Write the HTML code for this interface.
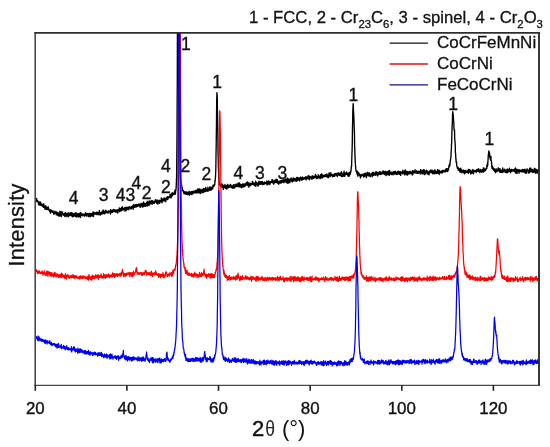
<!DOCTYPE html>
<html><head><meta charset="utf-8"><title>XRD</title>
<style>html,body{margin:0;padding:0;background:#fff;}svg{display:block;}</style>
</head><body>
<svg width="550" height="447" viewBox="0 0 550 447"><defs><clipPath id="c"><rect x="35.3" y="32.8" width="503.90000000000003" height="352.4"/></clipPath></defs><rect width="550" height="447" fill="#fff"/><g clip-path="url(#c)" fill="none" stroke-width="1.25" stroke-linejoin="round"><polyline stroke="#000" stroke-width="1.35" points="35.3,199.4 35.4,201.3 35.6,198.8 35.7,201.5 35.9,199.6 36.0,199.9 36.1,201.0 36.3,200.2 36.4,200.5 36.6,198.4 36.7,201.2 36.8,200.9 37.0,200.7 37.1,201.7 37.3,200.9 37.4,201.3 37.5,200.5 37.7,201.4 37.8,201.1 38.0,201.4 38.1,202.5 38.2,201.7 38.4,202.2 38.5,204.7 38.7,204.3 38.8,203.0 38.9,202.7 39.1,202.3 39.2,202.1 39.4,205.1 39.5,203.2 39.6,202.2 39.8,203.6 39.9,204.1 40.1,203.8 40.2,205.0 40.3,201.9 40.5,204.0 40.6,204.0 40.8,202.6 40.9,204.5 41.0,205.3 41.2,204.6 41.3,204.1 41.5,205.5 41.6,204.8 41.7,204.9 41.9,205.5 42.0,204.2 42.2,206.0 42.3,205.6 42.4,206.0 42.6,204.8 42.7,206.3 42.9,205.0 43.0,204.5 43.1,206.8 43.3,207.0 43.4,207.2 43.6,206.2 43.7,205.9 43.8,203.8 44.0,206.8 44.1,207.1 44.3,207.6 44.4,206.4 44.5,206.3 44.7,207.3 44.8,207.8 45.0,209.2 45.1,206.4 45.2,207.4 45.4,208.7 45.5,207.5 45.7,207.9 45.8,205.6 45.9,208.2 46.1,209.4 46.2,208.9 46.4,209.3 46.5,208.6 46.6,207.9 46.8,209.0 46.9,207.9 47.1,209.5 47.2,207.2 47.3,209.6 47.5,208.1 47.6,208.8 47.8,208.8 47.9,209.5 48.0,208.5 48.2,209.2 48.3,206.9 48.5,209.1 48.6,209.5 48.7,208.6 48.9,210.0 49.0,209.7 49.2,210.4 49.3,210.3 49.4,210.1 49.6,211.2 49.7,210.6 49.9,211.1 50.0,210.2 50.1,210.7 50.3,210.0 50.4,213.3 50.6,210.3 50.7,210.4 50.8,209.6 51.0,210.6 51.1,211.7 51.3,211.6 51.4,210.3 51.5,211.1 51.7,211.3 51.8,211.7 52.0,211.4 52.1,211.7 52.2,212.5 52.4,212.1 52.5,211.5 52.7,211.7 52.8,211.6 52.9,210.7 53.1,211.3 53.2,211.5 53.4,211.7 53.5,211.7 53.6,212.2 53.8,214.3 53.9,212.8 54.1,212.9 54.2,212.8 54.3,212.5 54.5,213.7 54.6,212.8 54.8,212.5 54.9,211.1 55.0,212.5 55.2,212.0 55.3,211.7 55.5,212.7 55.6,213.4 55.7,212.4 55.9,213.4 56.0,212.9 56.2,212.0 56.3,214.9 56.4,212.8 56.6,212.6 56.7,213.9 56.9,212.0 57.0,213.6 57.1,212.4 57.3,213.0 57.4,212.7 57.6,214.1 57.7,213.1 57.8,215.5 58.0,213.6 58.1,213.8 58.3,213.5 58.4,213.1 58.5,213.3 58.7,215.1 58.8,212.9 59.0,216.2 59.1,214.1 59.2,213.4 59.4,213.9 59.5,213.5 59.7,213.5 59.8,213.7 59.9,211.3 60.1,213.8 60.2,215.9 60.4,213.4 60.5,214.4 60.6,213.8 60.8,213.3 60.9,215.2 61.1,211.4 61.2,213.6 61.3,216.6 61.5,213.5 61.6,214.9 61.8,214.2 61.9,214.8 62.0,214.3 62.2,213.9 62.3,214.7 62.5,212.0 62.6,214.1 62.7,214.0 62.9,214.2 63.0,213.3 63.2,213.7 63.3,214.4 63.4,214.1 63.6,215.0 63.7,214.6 63.9,215.3 64.0,214.9 64.1,214.6 64.3,214.1 64.4,215.1 64.6,214.0 64.7,213.1 64.8,216.5 65.0,214.6 65.1,215.2 65.3,214.6 65.4,214.8 65.5,212.6 65.7,213.9 65.8,215.0 66.0,214.8 66.1,213.9 66.2,216.5 66.4,213.9 66.5,214.8 66.7,213.9 66.8,215.2 66.9,214.4 67.1,213.8 67.2,213.1 67.4,214.1 67.5,214.1 67.6,214.9 67.8,214.8 67.9,216.7 68.1,216.7 68.2,215.6 68.3,215.2 68.5,215.8 68.6,216.5 68.8,212.7 68.9,213.9 69.0,214.7 69.2,213.7 69.3,215.1 69.5,214.5 69.6,214.5 69.7,214.6 69.9,213.8 70.0,215.5 70.2,215.3 70.3,215.2 70.4,213.0 70.6,214.9 70.7,215.3 70.9,214.1 71.0,214.8 71.1,212.6 71.3,213.7 71.4,214.4 71.6,214.9 71.7,214.9 71.8,216.1 72.0,214.7 72.1,212.7 72.3,215.8 72.4,213.5 72.5,213.8 72.7,216.9 72.8,215.5 73.0,214.7 73.1,214.0 73.2,214.8 73.4,214.7 73.5,216.0 73.7,214.9 73.8,213.7 73.9,216.4 74.1,215.2 74.2,213.9 74.4,213.9 74.5,214.9 74.6,213.7 74.8,215.2 74.9,215.2 75.1,213.0 75.2,215.7 75.3,215.6 75.5,216.3 75.6,215.3 75.8,215.4 75.9,214.2 76.0,212.7 76.2,213.5 76.3,217.0 76.5,215.3 76.6,216.7 76.7,214.7 76.9,215.5 77.0,213.5 77.2,214.2 77.3,214.6 77.4,215.1 77.6,215.1 77.7,215.0 77.9,214.9 78.0,215.1 78.1,217.0 78.3,214.9 78.4,215.8 78.6,213.4 78.7,214.8 78.8,215.1 79.0,215.2 79.1,214.5 79.3,214.8 79.4,216.7 79.5,215.3 79.7,215.1 79.8,213.5 80.0,213.3 80.1,214.4 80.2,214.0 80.4,217.5 80.5,212.4 80.7,214.8 80.8,213.4 80.9,215.2 81.1,213.2 81.2,213.5 81.4,213.6 81.5,214.5 81.6,215.1 81.8,215.7 81.9,214.5 82.1,214.5 82.2,215.7 82.3,215.4 82.5,213.9 82.6,215.6 82.8,215.7 82.9,214.1 83.0,215.1 83.2,214.2 83.3,214.3 83.5,214.8 83.6,214.9 83.7,214.8 83.9,214.9 84.0,214.2 84.2,215.4 84.3,214.3 84.4,216.1 84.6,214.8 84.7,214.4 84.9,213.9 85.0,214.7 85.1,214.5 85.3,214.9 85.4,214.7 85.6,212.7 85.7,215.5 85.8,212.9 86.0,215.4 86.1,215.3 86.3,216.0 86.4,214.9 86.5,213.7 86.7,214.4 86.8,214.4 87.0,214.7 87.1,214.3 87.2,214.8 87.4,213.8 87.5,214.2 87.7,214.5 87.8,214.3 87.9,213.4 88.1,216.4 88.2,214.7 88.4,215.2 88.5,214.1 88.6,216.0 88.8,215.1 88.9,216.7 89.1,213.6 89.2,214.3 89.3,214.1 89.5,214.5 89.6,213.7 89.8,213.1 89.9,214.2 90.0,214.5 90.2,214.0 90.3,216.8 90.5,214.0 90.6,213.8 90.7,214.9 90.9,214.1 91.0,213.7 91.2,213.7 91.3,215.8 91.4,216.0 91.6,214.3 91.7,213.6 91.9,214.4 92.0,213.4 92.1,213.7 92.3,214.1 92.4,213.8 92.6,213.7 92.7,216.1 92.8,213.1 93.0,214.1 93.1,212.0 93.3,212.6 93.4,213.2 93.5,216.5 93.7,214.3 93.8,214.8 94.0,212.1 94.1,214.1 94.2,213.7 94.4,213.6 94.5,214.1 94.7,213.4 94.8,213.7 94.9,213.2 95.1,213.5 95.2,213.7 95.4,212.8 95.5,213.2 95.6,213.5 95.8,213.6 95.9,214.3 96.1,213.8 96.2,213.6 96.3,214.5 96.5,212.8 96.6,212.3 96.8,213.3 96.9,212.5 97.0,213.5 97.2,213.5 97.3,212.4 97.5,213.8 97.6,213.5 97.7,213.2 97.9,214.7 98.0,214.2 98.2,212.7 98.3,212.5 98.4,214.6 98.6,212.4 98.7,213.8 98.9,212.9 99.0,213.0 99.1,213.3 99.3,214.6 99.4,210.5 99.6,212.3 99.7,213.5 99.8,212.9 100.0,212.7 100.1,215.0 100.3,212.6 100.4,213.4 100.5,214.9 100.7,213.5 100.8,213.4 101.0,213.4 101.1,213.6 101.2,212.4 101.4,213.1 101.5,213.5 101.7,213.9 101.8,214.1 101.9,214.0 102.1,211.6 102.2,212.5 102.4,212.7 102.5,213.9 102.6,212.6 102.8,212.2 102.9,210.3 103.1,212.2 103.2,213.2 103.3,210.2 103.5,211.8 103.6,212.2 103.8,212.6 103.9,212.3 104.0,213.6 104.2,211.8 104.3,212.5 104.5,213.0 104.6,213.9 104.7,213.4 104.9,211.4 105.0,213.0 105.2,212.6 105.3,212.2 105.4,210.1 105.6,211.5 105.7,212.8 105.9,210.9 106.0,211.9 106.1,211.7 106.3,212.7 106.4,211.9 106.6,210.8 106.7,211.9 106.8,211.8 107.0,212.5 107.1,211.7 107.3,212.4 107.4,212.0 107.5,213.1 107.7,212.4 107.8,211.8 108.0,211.9 108.1,211.8 108.2,212.9 108.4,210.9 108.5,211.7 108.7,211.8 108.8,211.7 108.9,211.9 109.1,211.7 109.2,211.6 109.4,212.0 109.5,211.4 109.6,211.8 109.8,212.1 109.9,210.6 110.1,211.3 110.2,213.2 110.3,213.5 110.5,214.1 110.6,209.7 110.8,212.2 110.9,213.0 111.0,212.6 111.2,211.8 111.3,211.7 111.5,211.8 111.6,211.4 111.7,211.9 111.9,211.3 112.0,210.7 112.2,210.0 112.3,212.5 112.4,211.7 112.6,210.4 112.7,211.9 112.9,210.7 113.0,211.3 113.1,210.8 113.3,210.4 113.4,210.2 113.6,209.6 113.7,209.6 113.8,209.5 114.0,209.7 114.1,211.7 114.3,210.9 114.4,209.9 114.5,210.9 114.7,210.9 114.8,210.8 115.0,210.1 115.1,210.6 115.2,211.7 115.4,210.5 115.5,210.7 115.7,212.1 115.8,210.0 115.9,211.0 116.1,210.5 116.2,211.2 116.4,210.3 116.5,210.5 116.6,210.2 116.8,211.4 116.9,211.7 117.1,210.6 117.2,212.8 117.3,210.8 117.5,211.1 117.6,211.4 117.8,209.8 117.9,212.8 118.0,210.0 118.2,210.2 118.3,209.4 118.5,210.9 118.6,209.8 118.7,210.4 118.9,209.4 119.0,209.7 119.2,209.8 119.3,209.4 119.4,207.9 119.6,210.5 119.7,211.6 119.9,209.2 120.0,209.0 120.1,209.5 120.3,208.4 120.4,210.0 120.6,209.5 120.7,209.8 120.8,210.9 121.0,210.5 121.1,210.9 121.3,211.0 121.4,209.7 121.5,209.5 121.7,207.5 121.8,208.2 122.0,209.4 122.1,210.3 122.2,209.2 122.4,206.7 122.5,208.6 122.7,209.8 122.8,208.4 122.9,208.5 123.1,208.7 123.2,209.3 123.4,209.9 123.5,208.4 123.6,209.2 123.8,209.0 123.9,208.9 124.1,209.1 124.2,209.6 124.3,208.2 124.5,208.8 124.6,207.6 124.8,208.8 124.9,209.4 125.0,211.3 125.2,208.6 125.3,208.3 125.5,208.7 125.6,208.4 125.7,207.5 125.9,208.5 126.0,209.2 126.2,209.6 126.3,210.7 126.4,208.1 126.6,207.8 126.7,207.2 126.9,208.2 127.0,208.9 127.1,207.6 127.3,209.1 127.4,208.5 127.6,207.4 127.7,208.3 127.8,208.8 128.0,209.5 128.1,207.1 128.3,208.7 128.4,208.5 128.5,207.3 128.7,207.4 128.8,209.6 129.0,207.5 129.1,207.3 129.2,208.1 129.4,206.6 129.5,207.5 129.7,207.3 129.8,207.6 129.9,207.6 130.1,207.7 130.2,207.3 130.4,208.4 130.5,208.1 130.6,208.8 130.8,207.1 130.9,207.6 131.1,207.0 131.2,206.7 131.3,207.3 131.5,208.7 131.6,207.7 131.8,206.5 131.9,206.3 132.0,207.5 132.2,207.2 132.3,207.8 132.5,205.9 132.6,207.7 132.7,206.6 132.9,206.2 133.0,206.4 133.2,209.2 133.3,208.4 133.4,205.2 133.6,206.2 133.7,206.9 133.9,204.5 134.0,204.5 134.1,204.6 134.3,207.4 134.4,206.0 134.6,206.0 134.7,206.9 134.8,205.9 135.0,206.7 135.1,206.0 135.3,205.8 135.4,205.9 135.5,205.3 135.7,204.7 135.8,207.1 136.0,207.0 136.1,205.9 136.2,206.3 136.4,206.9 136.5,205.7 136.7,206.3 136.8,206.4 136.9,204.5 137.1,204.9 137.2,206.3 137.4,206.2 137.5,205.0 137.6,206.5 137.8,206.4 137.9,205.4 138.1,205.3 138.2,204.5 138.3,205.5 138.5,204.4 138.6,205.6 138.8,205.7 138.9,205.6 139.0,204.0 139.2,205.6 139.3,205.9 139.5,204.5 139.6,205.5 139.7,206.1 139.9,204.6 140.0,206.6 140.2,207.4 140.3,205.6 140.4,206.2 140.6,204.7 140.7,205.5 140.9,206.6 141.0,203.3 141.1,205.8 141.3,204.5 141.4,205.7 141.6,205.3 141.7,205.7 141.8,204.8 142.0,204.9 142.1,206.3 142.3,203.4 142.4,204.0 142.5,207.0 142.7,206.1 142.8,203.9 143.0,206.9 143.1,204.3 143.2,205.8 143.4,205.9 143.5,202.4 143.7,202.0 143.8,204.3 143.9,206.0 144.1,205.2 144.2,204.3 144.4,205.4 144.5,204.1 144.6,204.1 144.8,203.7 144.9,206.2 145.1,205.0 145.2,204.2 145.3,203.8 145.5,206.2 145.6,204.0 145.8,203.6 145.9,204.0 146.0,204.6 146.2,204.7 146.3,202.9 146.5,205.7 146.6,204.3 146.7,202.5 146.9,204.8 147.0,206.1 147.2,204.7 147.3,201.3 147.4,203.8 147.6,204.0 147.7,204.9 147.9,203.8 148.0,202.4 148.1,205.2 148.3,205.4 148.4,203.6 148.6,202.0 148.7,204.4 148.8,204.0 149.0,205.6 149.1,200.9 149.3,203.4 149.4,203.0 149.5,202.3 149.7,203.8 149.8,203.1 150.0,201.4 150.1,202.3 150.2,204.0 150.4,203.4 150.5,202.6 150.7,203.5 150.8,202.1 150.9,203.4 151.1,203.3 151.2,200.4 151.4,203.0 151.5,203.4 151.6,203.5 151.8,203.3 151.9,204.0 152.1,203.4 152.2,204.2 152.3,202.7 152.5,200.8 152.6,202.0 152.8,202.3 152.9,200.8 153.0,201.5 153.2,202.6 153.3,202.1 153.5,202.1 153.6,203.0 153.7,203.4 153.9,203.4 154.0,202.2 154.2,202.8 154.3,203.3 154.4,201.4 154.6,201.6 154.7,202.5 154.9,201.8 155.0,201.5 155.1,201.9 155.3,199.6 155.4,202.0 155.6,200.3 155.7,201.5 155.8,201.4 156.0,201.7 156.1,200.9 156.3,201.9 156.4,202.2 156.5,201.5 156.7,203.2 156.8,202.7 157.0,201.4 157.1,199.8 157.2,202.2 157.4,201.1 157.5,201.3 157.7,201.7 157.8,204.1 157.9,201.1 158.1,201.4 158.2,201.6 158.4,201.7 158.5,200.7 158.6,201.5 158.8,201.3 158.9,201.5 159.1,200.1 159.2,200.1 159.3,203.4 159.5,201.8 159.6,201.8 159.8,202.5 159.9,202.8 160.0,200.7 160.2,201.4 160.3,201.1 160.5,200.9 160.6,201.1 160.7,200.4 160.9,201.6 161.0,200.5 161.2,199.7 161.3,197.9 161.4,200.7 161.6,199.9 161.7,202.2 161.9,199.6 162.0,200.0 162.1,202.8 162.3,200.2 162.4,201.5 162.6,200.7 162.7,199.0 162.8,199.4 163.0,199.8 163.1,201.0 163.3,199.5 163.4,199.7 163.5,199.7 163.7,199.4 163.8,200.2 164.0,197.9 164.1,198.9 164.2,200.2 164.4,199.6 164.5,199.3 164.7,199.0 164.8,198.2 164.9,199.1 165.1,201.7 165.2,199.2 165.4,199.1 165.5,201.5 165.6,199.9 165.8,201.4 165.9,200.5 166.1,198.9 166.2,198.2 166.3,198.7 166.5,198.2 166.6,199.1 166.8,197.3 166.9,198.2 167.0,199.0 167.2,198.0 167.3,198.2 167.5,196.7 167.6,197.4 167.7,199.6 167.9,198.0 168.0,197.4 168.2,197.6 168.3,198.1 168.4,198.0 168.6,198.1 168.7,196.8 168.9,196.6 169.0,197.3 169.1,197.0 169.3,196.9 169.4,196.1 169.6,196.3 169.7,197.0 169.8,196.1 170.0,196.7 170.1,194.3 170.3,197.7 170.4,195.2 170.5,195.7 170.7,196.9 170.8,194.9 171.0,194.7 171.1,197.8 171.2,196.3 171.4,195.0 171.5,193.3 171.7,194.9 171.8,194.1 171.9,193.9 172.1,196.0 172.2,194.6 172.4,194.3 172.5,192.8 172.6,194.0 172.8,195.2 172.9,193.8 173.1,193.8 173.2,194.2 173.3,193.4 173.5,194.0 173.6,194.4 173.8,193.3 173.9,193.6 174.0,193.6 174.2,193.2 174.3,192.7 174.5,192.0 174.6,193.1 174.7,194.4 174.9,190.2 175.0,193.4 175.2,194.1 175.3,192.0 175.4,193.6 175.6,191.6 175.7,190.8 175.9,190.0 176.0,189.1 176.1,188.0 176.3,184.8 176.4,182.2 176.6,176.1 176.7,167.7 176.8,156.0 177.0,135.5 177.1,111.1 177.3,78.8 177.4,38.8 177.5,-3.8 177.7,-51.4 177.8,-96.1 178.0,-140.6 178.1,-173.1 178.2,-190.3 178.4,-197.0 178.5,-182.4 178.7,-155.7 178.8,-120.8 178.9,-77.5 179.1,-31.1 179.2,11.6 179.4,51.2 179.5,86.9 179.6,112.0 179.8,135.7 179.9,150.1 180.1,160.9 180.2,169.1 180.3,174.0 180.5,179.2 180.6,179.8 180.8,180.6 180.9,181.7 181.0,182.1 181.2,185.6 181.3,183.5 181.5,185.4 181.6,185.2 181.7,186.9 181.9,186.0 182.0,186.7 182.2,187.2 182.3,188.8 182.4,190.3 182.6,189.9 182.7,189.6 182.9,190.9 183.0,191.0 183.1,191.0 183.3,190.7 183.4,191.2 183.6,192.5 183.7,191.7 183.8,192.8 184.0,193.7 184.1,193.5 184.3,193.6 184.4,193.0 184.5,192.6 184.7,191.7 184.8,192.0 185.0,193.2 185.1,193.9 185.2,193.6 185.4,193.1 185.5,193.3 185.7,193.6 185.8,194.2 185.9,193.8 186.1,191.6 186.2,193.3 186.4,192.5 186.5,194.1 186.6,194.2 186.8,193.2 186.9,193.5 187.1,193.4 187.2,193.7 187.3,192.5 187.5,192.4 187.6,193.4 187.8,194.7 187.9,192.3 188.0,193.0 188.2,192.9 188.3,192.6 188.5,193.3 188.6,191.8 188.7,192.5 188.9,192.6 189.0,194.4 189.2,193.0 189.3,193.0 189.4,195.2 189.6,192.0 189.7,192.7 189.9,191.4 190.0,191.7 190.1,192.9 190.3,193.3 190.4,192.7 190.6,192.6 190.7,193.1 190.8,194.2 191.0,193.8 191.1,193.1 191.3,192.2 191.4,192.9 191.5,191.7 191.7,193.5 191.8,191.8 192.0,194.6 192.1,191.8 192.2,191.7 192.4,191.9 192.5,192.1 192.7,191.5 192.8,191.6 192.9,193.2 193.1,193.6 193.2,191.2 193.4,191.9 193.5,191.9 193.6,192.8 193.8,192.3 193.9,191.8 194.1,192.6 194.2,192.1 194.3,191.3 194.5,192.5 194.6,191.8 194.8,192.9 194.9,192.1 195.0,190.9 195.2,192.3 195.3,191.9 195.5,191.8 195.6,191.6 195.7,192.0 195.9,190.1 196.0,191.6 196.2,193.1 196.3,190.9 196.4,190.6 196.6,191.4 196.7,191.5 196.9,191.3 197.0,191.4 197.1,191.7 197.3,192.1 197.4,189.7 197.6,191.2 197.7,191.5 197.8,189.0 198.0,193.0 198.1,191.5 198.3,191.2 198.4,191.1 198.5,190.3 198.7,189.7 198.8,191.5 199.0,192.5 199.1,191.7 199.2,188.7 199.4,189.1 199.5,191.0 199.7,191.1 199.8,191.1 199.9,192.0 200.1,192.1 200.2,193.5 200.4,190.6 200.5,190.8 200.6,193.4 200.8,191.2 200.9,189.2 201.1,192.0 201.2,190.9 201.3,190.0 201.5,190.4 201.6,190.8 201.8,190.9 201.9,190.4 202.0,191.1 202.2,190.6 202.3,192.7 202.5,191.4 202.6,189.6 202.7,189.3 202.9,191.3 203.0,190.6 203.2,192.6 203.3,190.2 203.4,189.6 203.6,188.4 203.7,190.8 203.9,188.9 204.0,190.5 204.1,190.3 204.3,190.7 204.4,191.8 204.6,189.6 204.7,190.1 204.8,190.6 205.0,189.4 205.1,188.8 205.3,189.1 205.4,191.5 205.5,190.6 205.7,189.3 205.8,187.4 206.0,190.1 206.1,189.5 206.2,189.3 206.4,189.1 206.5,189.7 206.7,189.5 206.8,191.3 206.9,189.8 207.1,190.9 207.2,191.1 207.4,190.8 207.5,189.6 207.6,189.7 207.8,189.6 207.9,187.2 208.1,191.2 208.2,188.6 208.3,189.5 208.5,189.8 208.6,190.0 208.8,189.4 208.9,189.6 209.0,190.1 209.2,189.5 209.3,189.5 209.5,190.1 209.6,187.7 209.7,189.2 209.9,186.9 210.0,188.2 210.2,186.9 210.3,190.0 210.4,188.6 210.6,188.9 210.7,189.5 210.9,189.1 211.0,190.2 211.1,188.7 211.3,189.0 211.4,189.6 211.6,187.4 211.7,188.4 211.8,187.1 212.0,188.4 212.1,187.9 212.3,189.0 212.4,188.0 212.5,187.1 212.7,188.9 212.8,187.6 213.0,185.2 213.1,187.0 213.2,187.2 213.4,185.0 213.5,186.1 213.7,186.5 213.8,186.3 213.9,186.3 214.1,185.7 214.2,185.5 214.4,185.4 214.5,184.8 214.6,185.1 214.8,184.6 214.9,180.8 215.1,181.5 215.2,179.9 215.3,179.1 215.5,176.7 215.6,174.1 215.8,169.5 215.9,164.0 216.0,155.5 216.2,145.8 216.3,137.2 216.5,122.9 216.6,110.7 216.7,100.6 216.9,92.7 217.0,94.3 217.2,95.2 217.3,99.5 217.4,107.9 217.6,116.4 217.7,126.0 217.9,138.3 218.0,147.6 218.1,155.0 218.3,162.2 218.4,167.2 218.6,171.4 218.7,175.7 218.8,177.7 219.0,178.7 219.1,182.0 219.3,184.3 219.4,183.5 219.5,185.0 219.7,185.2 219.8,184.8 220.0,184.9 220.1,184.9 220.2,185.4 220.4,185.2 220.5,184.9 220.7,185.9 220.8,186.3 220.9,186.3 221.1,186.7 221.2,186.0 221.4,183.8 221.5,185.8 221.6,186.1 221.8,186.7 221.9,186.5 222.1,187.0 222.2,186.1 222.3,186.7 222.5,184.2 222.6,187.2 222.8,187.8 222.9,187.8 223.0,187.9 223.2,186.2 223.3,189.4 223.5,187.0 223.6,186.2 223.7,185.7 223.9,185.5 224.0,187.2 224.2,187.2 224.3,187.6 224.4,187.3 224.6,187.1 224.7,186.2 224.9,187.5 225.0,184.4 225.1,187.3 225.3,186.2 225.4,186.2 225.6,188.3 225.7,188.5 225.8,187.5 226.0,186.5 226.1,187.0 226.3,186.8 226.4,186.0 226.5,186.5 226.7,185.4 226.8,189.2 227.0,186.4 227.1,186.8 227.2,186.5 227.4,187.2 227.5,187.1 227.7,187.5 227.8,184.3 227.9,186.3 228.1,187.1 228.2,187.0 228.4,187.7 228.5,185.5 228.6,186.6 228.8,186.7 228.9,186.8 229.1,186.5 229.2,187.3 229.3,185.6 229.5,185.2 229.6,186.4 229.8,185.4 229.9,186.5 230.0,186.8 230.2,185.3 230.3,186.6 230.5,186.7 230.6,186.7 230.7,184.5 230.9,187.1 231.0,187.0 231.2,186.1 231.3,186.5 231.4,187.0 231.6,187.3 231.7,185.9 231.9,187.0 232.0,186.3 232.1,188.1 232.3,187.4 232.4,186.1 232.6,186.1 232.7,186.3 232.8,188.1 233.0,185.3 233.1,186.3 233.3,186.5 233.4,186.6 233.5,184.7 233.7,186.3 233.8,186.0 234.0,185.8 234.1,188.2 234.2,184.9 234.4,186.4 234.5,185.3 234.7,187.7 234.8,186.0 234.9,185.9 235.1,185.4 235.2,186.0 235.4,186.9 235.5,184.4 235.6,186.1 235.8,184.9 235.9,185.2 236.1,186.7 236.2,184.3 236.3,186.2 236.5,184.1 236.6,185.7 236.8,185.9 236.9,184.8 237.0,186.4 237.2,185.1 237.3,185.6 237.5,185.1 237.6,186.2 237.7,185.1 237.9,185.1 238.0,183.0 238.2,186.7 238.3,183.5 238.4,185.2 238.6,185.8 238.7,185.2 238.9,185.6 239.0,185.2 239.1,186.5 239.3,184.6 239.4,183.0 239.6,184.2 239.7,185.4 239.8,185.5 240.0,186.2 240.1,187.1 240.3,185.2 240.4,186.1 240.5,185.1 240.7,185.1 240.8,184.3 241.0,186.2 241.1,184.9 241.2,185.5 241.4,185.2 241.5,187.8 241.7,184.7 241.8,185.2 241.9,185.8 242.1,184.4 242.2,185.9 242.4,185.2 242.5,183.9 242.6,187.1 242.8,184.9 242.9,185.0 243.1,185.7 243.2,187.0 243.3,184.5 243.5,184.0 243.6,185.5 243.8,185.3 243.9,184.9 244.0,185.2 244.2,186.6 244.3,185.8 244.5,185.0 244.6,186.2 244.7,186.2 244.9,185.4 245.0,183.8 245.2,184.9 245.3,185.0 245.4,185.9 245.6,184.8 245.7,185.0 245.9,185.2 246.0,183.4 246.1,183.1 246.3,182.7 246.4,183.6 246.6,184.2 246.7,183.0 246.8,184.8 247.0,184.8 247.1,184.6 247.3,182.0 247.4,184.6 247.5,183.6 247.7,182.0 247.8,185.2 248.0,185.8 248.1,183.1 248.2,184.8 248.4,182.9 248.5,184.6 248.7,184.7 248.8,184.6 248.9,187.1 249.1,184.6 249.2,183.6 249.4,185.9 249.5,184.0 249.6,184.5 249.8,184.3 249.9,185.1 250.1,183.0 250.2,184.1 250.3,184.2 250.5,184.5 250.6,185.5 250.8,183.9 250.9,184.0 251.0,184.6 251.2,183.6 251.3,184.2 251.5,183.9 251.6,184.4 251.7,184.3 251.9,184.5 252.0,184.0 252.2,183.6 252.3,181.5 252.4,184.3 252.6,183.5 252.7,181.5 252.9,183.9 253.0,183.6 253.1,184.4 253.3,183.6 253.4,183.8 253.6,184.4 253.7,184.3 253.8,183.1 254.0,184.1 254.1,185.4 254.3,185.2 254.4,184.8 254.5,183.5 254.7,185.7 254.8,183.2 255.0,183.7 255.1,182.7 255.2,183.9 255.4,184.3 255.5,184.2 255.7,181.2 255.8,186.3 255.9,183.4 256.1,184.2 256.2,185.2 256.4,184.3 256.5,183.7 256.6,183.7 256.8,182.8 256.9,183.5 257.1,184.4 257.2,184.0 257.3,183.9 257.5,183.9 257.6,183.3 257.8,186.0 257.9,183.3 258.0,182.8 258.2,183.8 258.3,182.7 258.5,185.7 258.6,183.6 258.7,182.4 258.9,181.2 259.0,183.6 259.2,181.6 259.3,181.8 259.4,183.3 259.6,183.3 259.7,184.2 259.9,182.4 260.0,184.3 260.1,183.2 260.3,184.2 260.4,182.4 260.6,181.6 260.7,183.2 260.8,182.6 261.0,183.2 261.1,184.0 261.3,184.3 261.4,181.9 261.5,182.7 261.7,182.8 261.8,182.4 262.0,183.1 262.1,181.5 262.2,182.4 262.4,181.6 262.5,183.0 262.7,184.6 262.8,182.2 262.9,184.2 263.1,182.7 263.2,183.5 263.4,183.9 263.5,183.2 263.6,183.4 263.8,183.2 263.9,184.4 264.1,183.5 264.2,182.8 264.3,182.5 264.5,182.0 264.6,182.9 264.8,182.3 264.9,182.3 265.0,183.9 265.2,183.2 265.3,182.9 265.5,183.6 265.6,182.8 265.7,182.6 265.9,183.1 266.0,182.9 266.2,182.1 266.3,182.4 266.4,182.8 266.6,182.1 266.7,184.0 266.9,180.9 267.0,183.7 267.1,185.0 267.3,182.8 267.4,182.0 267.6,183.3 267.7,182.5 267.8,183.0 268.0,182.2 268.1,181.9 268.3,184.3 268.4,181.1 268.5,180.9 268.7,183.1 268.8,183.0 269.0,182.1 269.1,182.2 269.2,182.8 269.4,182.6 269.5,182.6 269.7,182.3 269.8,184.7 269.9,181.4 270.1,182.5 270.2,181.6 270.4,182.0 270.5,181.9 270.6,183.0 270.8,182.4 270.9,181.9 271.1,182.3 271.2,182.1 271.3,182.3 271.5,181.6 271.6,182.0 271.8,182.1 271.9,180.8 272.0,179.5 272.2,182.3 272.3,181.4 272.5,182.8 272.6,179.9 272.7,181.5 272.9,182.3 273.0,181.0 273.2,181.9 273.3,181.6 273.4,181.5 273.6,181.4 273.7,184.2 273.9,181.6 274.0,180.9 274.1,183.2 274.3,181.1 274.4,182.4 274.6,182.2 274.7,182.3 274.8,182.5 275.0,181.1 275.1,179.9 275.3,181.7 275.4,181.7 275.5,181.2 275.7,182.5 275.8,180.7 276.0,181.8 276.1,181.8 276.2,179.1 276.4,182.5 276.5,181.5 276.7,181.6 276.8,180.9 276.9,181.5 277.1,181.6 277.2,181.8 277.4,179.7 277.5,181.5 277.6,181.6 277.8,183.4 277.9,181.8 278.1,181.9 278.2,181.5 278.3,181.6 278.5,184.0 278.6,181.4 278.8,184.1 278.9,181.7 279.0,182.8 279.2,181.6 279.3,182.2 279.5,182.2 279.6,181.3 279.7,181.1 279.9,183.0 280.0,181.1 280.2,182.0 280.3,180.6 280.4,181.4 280.6,181.2 280.7,180.9 280.9,180.8 281.0,183.3 281.1,181.6 281.3,181.2 281.4,181.4 281.6,182.1 281.7,181.6 281.8,180.2 282.0,180.6 282.1,182.3 282.3,181.3 282.4,181.3 282.5,180.3 282.7,180.2 282.8,180.5 283.0,180.8 283.1,181.2 283.2,180.9 283.4,181.4 283.5,181.0 283.7,181.1 283.8,182.8 283.9,179.2 284.1,181.2 284.2,181.5 284.4,180.2 284.5,181.9 284.6,179.9 284.8,181.6 284.9,180.2 285.1,180.8 285.2,180.7 285.3,181.0 285.5,181.1 285.6,179.0 285.8,181.5 285.9,180.8 286.0,182.1 286.2,179.9 286.3,180.6 286.5,182.5 286.6,180.9 286.7,180.7 286.9,180.6 287.0,181.9 287.2,178.0 287.3,183.2 287.4,180.5 287.6,181.3 287.7,180.5 287.9,181.3 288.0,179.3 288.1,180.4 288.3,181.0 288.4,183.0 288.6,180.4 288.7,179.0 288.8,180.9 289.0,180.6 289.1,179.4 289.3,179.7 289.4,180.3 289.5,179.4 289.7,181.6 289.8,182.8 290.0,180.7 290.1,181.0 290.2,179.9 290.4,179.0 290.5,180.6 290.7,180.8 290.8,180.4 290.9,179.3 291.1,177.9 291.2,180.1 291.4,179.1 291.5,179.6 291.6,179.9 291.8,179.4 291.9,181.4 292.1,179.6 292.2,180.0 292.3,182.0 292.5,180.1 292.6,179.6 292.8,180.3 292.9,179.1 293.0,178.6 293.2,177.8 293.3,180.0 293.5,180.0 293.6,180.0 293.7,179.9 293.9,179.7 294.0,181.2 294.2,179.5 294.3,178.5 294.4,179.0 294.6,179.4 294.7,179.7 294.9,179.2 295.0,179.3 295.1,179.0 295.3,179.9 295.4,180.3 295.6,179.1 295.7,180.0 295.8,178.6 296.0,181.5 296.1,179.0 296.3,179.6 296.4,179.4 296.5,177.9 296.7,179.4 296.8,177.4 297.0,179.2 297.1,179.2 297.2,180.9 297.4,178.4 297.5,177.4 297.7,179.3 297.8,178.7 297.9,179.1 298.1,178.5 298.2,179.4 298.4,178.0 298.5,179.0 298.6,179.5 298.8,180.1 298.9,178.6 299.1,179.0 299.2,180.7 299.3,177.9 299.5,179.7 299.6,179.3 299.8,180.8 299.9,178.8 300.0,178.7 300.2,178.8 300.3,178.5 300.5,177.2 300.6,178.8 300.7,178.5 300.9,178.7 301.0,179.1 301.2,178.5 301.3,177.8 301.4,179.4 301.6,180.2 301.7,178.0 301.9,178.8 302.0,178.4 302.1,178.9 302.3,176.9 302.4,179.9 302.6,179.4 302.7,177.5 302.8,178.7 303.0,178.1 303.1,177.8 303.3,179.3 303.4,178.9 303.5,178.5 303.7,178.6 303.8,179.3 304.0,178.0 304.1,178.3 304.2,177.7 304.4,178.2 304.5,177.5 304.7,178.0 304.8,178.5 304.9,177.8 305.1,178.5 305.2,178.9 305.4,178.4 305.5,178.1 305.6,178.0 305.8,176.7 305.9,178.7 306.1,179.9 306.2,177.5 306.3,178.4 306.5,178.2 306.6,178.8 306.8,178.3 306.9,177.3 307.0,177.0 307.2,177.7 307.3,177.2 307.5,178.1 307.6,176.6 307.7,178.2 307.9,178.5 308.0,176.0 308.2,179.0 308.3,178.6 308.4,176.0 308.6,177.9 308.7,175.6 308.9,177.7 309.0,176.4 309.1,177.9 309.3,176.3 309.4,176.4 309.6,179.8 309.7,178.4 309.8,178.0 310.0,178.3 310.1,177.0 310.3,176.4 310.4,177.3 310.5,178.1 310.7,178.1 310.8,178.0 311.0,177.4 311.1,177.5 311.2,178.0 311.4,177.6 311.5,176.9 311.7,177.4 311.8,179.0 311.9,179.3 312.1,176.0 312.2,176.3 312.4,175.8 312.5,177.4 312.6,178.5 312.8,177.4 312.9,177.0 313.1,178.4 313.2,176.8 313.3,177.4 313.5,178.4 313.6,178.3 313.8,176.2 313.9,176.8 314.0,177.0 314.2,177.8 314.3,177.5 314.5,177.2 314.6,176.9 314.7,176.7 314.9,177.2 315.0,177.8 315.2,176.8 315.3,176.6 315.4,174.4 315.6,175.9 315.7,176.0 315.9,176.9 316.0,177.6 316.1,176.8 316.3,176.0 316.4,176.1 316.6,178.7 316.7,177.1 316.8,176.5 317.0,177.7 317.1,178.5 317.3,176.9 317.4,176.8 317.5,176.6 317.7,176.6 317.8,177.8 318.0,177.2 318.1,178.0 318.2,174.7 318.4,175.7 318.5,176.8 318.7,176.8 318.8,176.6 318.9,176.7 319.1,177.9 319.2,176.7 319.4,176.1 319.5,176.6 319.6,176.2 319.8,176.8 319.9,176.7 320.1,176.9 320.2,178.7 320.3,176.5 320.5,174.6 320.6,176.5 320.8,176.5 320.9,177.1 321.0,177.9 321.2,175.6 321.3,177.5 321.5,175.6 321.6,176.5 321.7,173.8 321.9,177.2 322.0,176.2 322.2,175.7 322.3,178.0 322.4,175.0 322.6,176.0 322.7,176.2 322.9,175.8 323.0,176.0 323.1,177.1 323.3,175.5 323.4,176.3 323.6,175.5 323.7,176.3 323.8,175.6 324.0,175.8 324.1,176.1 324.3,175.6 324.4,176.5 324.5,175.5 324.7,176.9 324.8,176.4 325.0,175.0 325.1,176.0 325.2,174.5 325.4,175.2 325.5,175.6 325.7,176.3 325.8,176.1 325.9,175.9 326.1,175.1 326.2,175.5 326.4,176.2 326.5,175.8 326.6,175.5 326.8,174.3 326.9,174.0 327.1,177.2 327.2,175.6 327.3,176.9 327.5,175.2 327.6,175.9 327.8,175.2 327.9,176.7 328.0,175.1 328.2,175.7 328.3,177.6 328.5,176.1 328.6,175.7 328.7,175.3 328.9,175.6 329.0,173.0 329.2,174.5 329.3,175.1 329.4,173.8 329.6,174.9 329.7,175.3 329.9,176.4 330.0,176.8 330.1,173.1 330.3,175.4 330.4,175.7 330.6,175.9 330.7,174.5 330.8,172.8 331.0,174.8 331.1,175.0 331.3,174.6 331.4,174.7 331.5,175.6 331.7,174.7 331.8,174.5 332.0,174.8 332.1,175.2 332.2,174.5 332.4,175.2 332.5,176.7 332.7,175.9 332.8,175.7 332.9,176.7 333.1,176.5 333.2,175.2 333.4,175.4 333.5,174.8 333.6,175.1 333.8,176.4 333.9,175.0 334.1,174.9 334.2,175.3 334.3,174.9 334.5,173.7 334.6,174.7 334.8,173.9 334.9,176.2 335.0,175.4 335.2,174.8 335.3,173.4 335.5,173.7 335.6,174.3 335.7,174.8 335.9,173.6 336.0,174.5 336.2,174.0 336.3,173.6 336.4,173.6 336.6,173.6 336.7,175.5 336.9,173.9 337.0,173.5 337.1,175.4 337.3,176.5 337.4,175.0 337.6,173.1 337.7,173.6 337.8,173.6 338.0,173.3 338.1,174.4 338.3,172.8 338.4,175.1 338.5,174.3 338.7,173.7 338.8,173.1 339.0,174.5 339.1,175.0 339.2,174.5 339.4,173.8 339.5,175.0 339.7,174.3 339.8,174.4 339.9,175.5 340.1,174.5 340.2,173.1 340.4,174.6 340.5,173.8 340.6,174.8 340.8,174.2 340.9,174.2 341.1,173.2 341.2,171.9 341.3,176.3 341.5,172.0 341.6,172.4 341.8,174.0 341.9,175.6 342.0,174.1 342.2,176.6 342.3,174.4 342.5,174.7 342.6,174.7 342.7,175.5 342.9,176.0 343.0,173.6 343.2,174.3 343.3,173.9 343.4,176.2 343.6,174.0 343.7,173.7 343.9,171.8 344.0,174.3 344.1,171.2 344.3,174.0 344.4,173.3 344.6,174.1 344.7,176.4 344.8,173.6 345.0,173.9 345.1,174.0 345.3,173.1 345.4,174.4 345.5,174.4 345.7,174.6 345.8,173.5 346.0,172.7 346.1,174.0 346.2,173.2 346.4,173.9 346.5,171.9 346.7,174.3 346.8,174.2 346.9,174.2 347.1,174.4 347.2,172.8 347.4,174.6 347.5,175.0 347.6,174.4 347.8,174.9 347.9,175.5 348.1,174.8 348.2,176.2 348.3,175.4 348.5,174.9 348.6,173.4 348.8,174.7 348.9,172.7 349.0,176.4 349.2,172.7 349.3,173.7 349.5,173.5 349.6,175.0 349.7,175.1 349.9,174.1 350.0,174.3 350.2,172.6 350.3,173.9 350.4,171.1 350.6,171.5 350.7,172.2 350.9,171.0 351.0,171.3 351.1,169.7 351.3,166.9 351.4,165.9 351.6,166.5 351.7,161.7 351.8,158.5 352.0,152.3 352.1,150.1 352.3,142.0 352.4,133.7 352.5,126.6 352.7,119.5 352.8,110.7 353.0,107.9 353.1,104.3 353.2,103.7 353.4,108.7 353.5,111.1 353.7,113.8 353.8,116.3 353.9,118.3 354.1,123.6 354.2,128.0 354.4,131.4 354.5,137.1 354.6,145.6 354.8,149.4 354.9,153.0 355.1,158.9 355.2,160.6 355.3,162.8 355.5,165.2 355.6,166.7 355.8,168.9 355.9,169.3 356.0,170.5 356.2,171.3 356.3,171.7 356.5,172.1 356.6,172.3 356.7,172.3 356.9,171.9 357.0,173.8 357.2,171.1 357.3,174.3 357.4,174.6 357.6,174.9 357.7,174.6 357.9,176.2 358.0,174.4 358.1,174.6 358.3,174.4 358.4,172.3 358.6,174.9 358.7,175.0 358.8,175.0 359.0,173.2 359.1,174.4 359.3,174.8 359.4,175.1 359.5,174.7 359.7,175.1 359.8,175.0 360.0,174.3 360.1,176.5 360.2,175.6 360.4,178.0 360.5,175.7 360.7,175.7 360.8,175.3 360.9,176.2 361.1,175.5 361.2,176.3 361.4,175.5 361.5,176.0 361.6,175.8 361.8,175.4 361.9,174.3 362.1,175.0 362.2,175.4 362.3,175.5 362.5,174.9 362.6,175.0 362.8,175.2 362.9,175.6 363.0,174.2 363.2,175.3 363.3,175.8 363.5,176.3 363.6,175.5 363.7,177.1 363.9,175.9 364.0,176.1 364.2,174.4 364.3,175.4 364.4,173.4 364.6,175.7 364.7,175.0 364.9,176.4 365.0,174.3 365.1,173.9 365.3,175.1 365.4,174.4 365.6,175.3 365.7,175.1 365.8,172.9 366.0,174.6 366.1,174.3 366.3,174.4 366.4,177.7 366.5,175.2 366.7,175.7 366.8,174.9 367.0,174.3 367.1,174.7 367.2,175.4 367.4,174.8 367.5,172.3 367.7,175.0 367.8,174.9 367.9,175.2 368.1,172.7 368.2,175.9 368.4,174.7 368.5,174.5 368.6,174.4 368.8,175.6 368.9,174.2 369.1,174.3 369.2,175.8 369.3,174.6 369.5,172.9 369.6,173.6 369.8,175.1 369.9,174.2 370.0,174.2 370.2,174.1 370.3,176.6 370.5,174.4 370.6,175.6 370.7,175.1 370.9,175.0 371.0,175.0 371.2,174.0 371.3,175.1 371.4,174.3 371.6,173.5 371.7,173.7 371.9,174.3 372.0,174.2 372.1,176.8 372.3,174.4 372.4,174.3 372.6,172.4 372.7,172.6 372.8,173.7 373.0,174.0 373.1,175.5 373.3,172.3 373.4,174.4 373.5,174.2 373.7,173.4 373.8,175.3 374.0,173.7 374.1,174.7 374.2,173.4 374.4,173.9 374.5,174.4 374.7,174.8 374.8,173.5 374.9,173.1 375.1,174.0 375.2,174.0 375.4,172.0 375.5,173.9 375.6,175.3 375.8,173.1 375.9,173.9 376.1,174.9 376.2,173.4 376.3,174.3 376.5,174.7 376.6,171.8 376.8,173.1 376.9,173.0 377.0,174.8 377.2,173.7 377.3,172.5 377.5,173.3 377.6,173.0 377.7,176.0 377.9,174.5 378.0,174.3 378.2,172.3 378.3,173.2 378.4,173.3 378.6,173.1 378.7,174.5 378.9,173.3 379.0,173.9 379.1,173.5 379.3,173.2 379.4,172.0 379.6,174.2 379.7,173.3 379.8,171.9 380.0,173.3 380.1,171.5 380.3,173.0 380.4,174.5 380.5,173.0 380.7,173.0 380.8,172.9 381.0,173.4 381.1,173.3 381.2,173.1 381.4,174.2 381.5,173.2 381.7,174.1 381.8,173.1 381.9,173.0 382.1,172.5 382.2,171.7 382.4,173.3 382.5,173.0 382.6,172.3 382.8,173.2 382.9,173.6 383.1,173.4 383.2,170.8 383.3,173.0 383.5,173.5 383.6,173.0 383.8,173.1 383.9,173.8 384.0,172.3 384.2,172.4 384.3,173.7 384.5,174.5 384.6,172.3 384.7,171.5 384.9,173.9 385.0,173.2 385.2,172.6 385.3,171.4 385.4,173.2 385.6,172.2 385.7,174.3 385.9,174.3 386.0,173.6 386.1,175.6 386.3,172.7 386.4,172.0 386.6,173.3 386.7,172.6 386.8,173.5 387.0,171.7 387.1,172.8 387.3,173.4 387.4,174.6 387.5,171.8 387.7,173.0 387.8,174.7 388.0,171.4 388.1,173.0 388.2,173.6 388.4,173.0 388.5,174.0 388.7,172.9 388.8,172.7 388.9,170.8 389.1,173.0 389.2,175.4 389.4,174.3 389.5,170.4 389.6,171.0 389.8,171.4 389.9,174.0 390.1,172.8 390.2,172.6 390.3,173.5 390.5,172.7 390.6,172.8 390.8,173.4 390.9,174.1 391.0,172.2 391.2,172.3 391.3,172.3 391.5,174.6 391.6,173.1 391.7,173.7 391.9,172.3 392.0,173.9 392.2,172.6 392.3,173.2 392.4,172.3 392.6,173.0 392.7,173.5 392.9,172.2 393.0,174.9 393.1,173.8 393.3,173.3 393.4,173.5 393.6,172.5 393.7,171.7 393.8,172.6 394.0,172.0 394.1,172.6 394.3,173.5 394.4,172.1 394.5,171.5 394.7,173.6 394.8,174.4 395.0,172.8 395.1,172.3 395.2,174.0 395.4,171.3 395.5,172.6 395.7,173.6 395.8,173.4 395.9,173.4 396.1,172.9 396.2,173.3 396.4,172.5 396.5,173.9 396.6,173.5 396.8,174.5 396.9,173.4 397.1,173.3 397.2,172.1 397.3,173.0 397.5,171.5 397.6,174.2 397.8,173.5 397.9,172.9 398.0,173.7 398.2,173.8 398.3,172.6 398.5,173.2 398.6,171.8 398.7,171.1 398.9,173.4 399.0,172.2 399.2,172.7 399.3,172.8 399.4,174.4 399.6,173.4 399.7,172.9 399.9,173.5 400.0,172.3 400.1,171.5 400.3,172.3 400.4,172.9 400.6,172.5 400.7,175.4 400.8,172.9 401.0,172.9 401.1,173.3 401.3,172.8 401.4,172.0 401.5,172.1 401.7,172.7 401.8,172.2 402.0,172.1 402.1,172.5 402.2,173.4 402.4,173.7 402.5,172.3 402.7,172.0 402.8,170.8 402.9,170.1 403.1,172.5 403.2,172.0 403.4,172.7 403.5,171.7 403.6,172.9 403.8,172.8 403.9,174.0 404.1,173.4 404.2,171.6 404.3,172.7 404.5,172.4 404.6,170.8 404.8,172.7 404.9,174.9 405.0,171.7 405.2,170.0 405.3,171.9 405.5,172.5 405.6,172.1 405.7,173.0 405.9,172.1 406.0,173.6 406.2,171.6 406.3,171.7 406.4,174.7 406.6,171.2 406.7,173.1 406.9,171.3 407.0,171.7 407.1,172.8 407.3,173.3 407.4,172.8 407.6,175.1 407.7,175.1 407.8,171.6 408.0,172.5 408.1,172.5 408.3,171.8 408.4,172.8 408.5,173.5 408.7,173.0 408.8,173.1 409.0,172.0 409.1,172.6 409.2,171.7 409.4,173.0 409.5,173.9 409.7,172.5 409.8,172.5 409.9,172.9 410.1,173.6 410.2,171.2 410.4,173.0 410.5,173.6 410.6,171.8 410.8,172.0 410.9,172.4 411.1,172.6 411.2,172.4 411.3,172.5 411.5,172.2 411.6,172.3 411.8,172.1 411.9,172.7 412.0,173.9 412.2,175.0 412.3,172.2 412.5,170.6 412.6,172.6 412.7,174.1 412.9,174.1 413.0,172.7 413.2,172.2 413.3,171.0 413.4,172.3 413.6,172.6 413.7,172.8 413.9,172.6 414.0,173.0 414.1,171.2 414.3,172.4 414.4,172.3 414.6,172.3 414.7,172.3 414.8,172.5 415.0,171.2 415.1,169.7 415.3,172.2 415.4,172.5 415.5,172.2 415.7,172.3 415.8,172.2 416.0,173.0 416.1,173.0 416.2,171.4 416.4,172.5 416.5,172.3 416.7,170.7 416.8,171.0 416.9,173.0 417.1,172.7 417.2,171.5 417.4,172.4 417.5,173.4 417.6,172.3 417.8,172.5 417.9,172.6 418.1,172.3 418.2,173.4 418.3,171.8 418.5,171.7 418.6,171.1 418.8,172.2 418.9,172.0 419.0,172.3 419.2,171.5 419.3,172.3 419.5,172.3 419.6,171.9 419.7,173.0 419.9,172.3 420.0,172.4 420.2,174.0 420.3,173.3 420.4,172.5 420.6,169.7 420.7,172.5 420.9,171.9 421.0,171.8 421.1,172.5 421.3,171.5 421.4,172.8 421.6,172.9 421.7,171.3 421.8,171.4 422.0,173.7 422.1,170.2 422.3,173.0 422.4,172.8 422.5,172.7 422.7,170.3 422.8,173.9 423.0,171.6 423.1,173.3 423.2,172.3 423.4,172.0 423.5,171.5 423.7,169.7 423.8,171.7 423.9,171.2 424.1,169.7 424.2,172.6 424.4,174.6 424.5,172.3 424.6,173.1 424.8,174.4 424.9,170.9 425.1,172.2 425.2,172.2 425.3,171.8 425.5,172.7 425.6,172.4 425.8,171.5 425.9,173.9 426.0,171.2 426.2,170.6 426.3,172.8 426.5,172.2 426.6,172.6 426.7,170.2 426.9,170.9 427.0,171.9 427.2,172.0 427.3,172.3 427.4,172.0 427.6,171.7 427.7,174.0 427.9,171.3 428.0,172.3 428.1,171.7 428.3,173.0 428.4,172.5 428.6,172.5 428.7,172.2 428.8,172.2 429.0,174.9 429.1,172.2 429.3,172.6 429.4,171.0 429.5,172.3 429.7,172.8 429.8,172.2 430.0,172.7 430.1,172.6 430.2,171.2 430.4,172.2 430.5,170.2 430.7,171.0 430.8,172.6 430.9,171.7 431.1,170.6 431.2,172.2 431.4,172.6 431.5,171.8 431.6,171.6 431.8,171.7 431.9,170.0 432.1,170.4 432.2,172.2 432.3,171.6 432.5,172.1 432.6,173.6 432.8,173.0 432.9,173.0 433.0,173.7 433.2,172.6 433.3,172.2 433.5,170.8 433.6,172.7 433.7,171.1 433.9,171.9 434.0,171.8 434.2,173.8 434.3,173.2 434.4,171.7 434.6,172.0 434.7,172.2 434.9,170.5 435.0,169.8 435.1,172.3 435.3,172.2 435.4,172.4 435.6,173.3 435.7,171.2 435.8,173.4 436.0,171.5 436.1,173.6 436.3,171.3 436.4,172.0 436.5,172.7 436.7,171.5 436.8,171.1 437.0,171.7 437.1,171.9 437.2,173.2 437.4,171.6 437.5,172.5 437.7,173.0 437.8,169.5 437.9,171.7 438.1,173.3 438.2,172.2 438.4,171.3 438.5,172.1 438.6,171.9 438.8,172.9 438.9,172.7 439.1,171.7 439.2,174.6 439.3,170.3 439.5,173.3 439.6,170.8 439.8,172.1 439.9,171.9 440.0,172.8 440.2,172.0 440.3,171.5 440.5,172.4 440.6,171.8 440.7,171.8 440.9,172.7 441.0,171.7 441.2,171.9 441.3,172.6 441.4,172.7 441.6,172.2 441.7,172.2 441.9,170.6 442.0,171.9 442.1,171.9 442.3,170.8 442.4,172.9 442.6,172.0 442.7,170.5 442.8,170.6 443.0,170.5 443.1,170.7 443.3,171.8 443.4,170.4 443.5,171.4 443.7,171.1 443.8,171.8 444.0,171.9 444.1,171.7 444.2,171.6 444.4,171.5 444.5,171.9 444.7,171.3 444.8,170.6 444.9,170.1 445.1,171.3 445.2,171.8 445.4,171.5 445.5,171.4 445.6,171.6 445.8,169.5 445.9,171.7 446.1,168.7 446.2,170.8 446.3,170.5 446.5,169.6 446.6,170.6 446.8,169.3 446.9,168.6 447.0,170.6 447.2,171.2 447.3,169.9 447.5,170.5 447.6,171.5 447.7,170.0 447.9,169.3 448.0,170.9 448.2,168.5 448.3,168.3 448.4,169.0 448.6,169.2 448.7,167.7 448.9,167.6 449.0,165.5 449.1,166.0 449.3,166.6 449.4,165.3 449.6,163.7 449.7,166.1 449.8,166.0 450.0,163.3 450.1,163.2 450.3,160.0 450.4,161.4 450.5,159.3 450.7,159.0 450.8,157.6 451.0,155.8 451.1,152.1 451.2,151.4 451.4,148.6 451.5,144.1 451.7,143.0 451.8,136.5 451.9,131.9 452.1,127.0 452.2,125.2 452.4,121.8 452.5,116.4 452.6,113.0 452.8,111.6 452.9,113.2 453.1,114.4 453.2,115.9 453.3,115.2 453.5,118.7 453.6,122.1 453.8,121.8 453.9,125.9 454.0,128.8 454.2,130.2 454.3,130.4 454.5,129.8 454.6,133.1 454.7,139.4 454.9,140.2 455.0,142.1 455.2,143.5 455.3,147.8 455.4,152.5 455.6,153.4 455.7,156.3 455.9,159.1 456.0,158.8 456.1,161.9 456.3,162.7 456.4,161.6 456.6,162.5 456.7,165.5 456.8,165.8 457.0,166.3 457.1,166.4 457.3,168.3 457.4,166.8 457.5,168.0 457.7,168.2 457.8,167.8 458.0,167.7 458.1,167.3 458.2,170.3 458.4,169.5 458.5,169.4 458.7,168.6 458.8,170.0 458.9,168.7 459.1,169.8 459.2,168.8 459.4,169.7 459.5,170.1 459.6,170.4 459.8,171.4 459.9,172.0 460.1,170.8 460.2,168.5 460.3,170.2 460.5,170.9 460.6,171.5 460.8,168.2 460.9,170.4 461.0,172.2 461.2,172.1 461.3,171.8 461.5,169.9 461.6,170.5 461.7,172.3 461.9,172.2 462.0,172.9 462.2,171.3 462.3,171.4 462.4,170.5 462.6,171.4 462.7,170.6 462.9,171.9 463.0,171.3 463.1,170.7 463.3,170.3 463.4,170.1 463.6,170.3 463.7,172.5 463.8,171.0 464.0,171.3 464.1,170.4 464.3,172.4 464.4,173.9 464.5,171.3 464.7,173.0 464.8,173.4 465.0,171.7 465.1,170.4 465.2,171.6 465.4,170.6 465.5,172.5 465.7,172.5 465.8,170.6 465.9,171.1 466.1,171.7 466.2,170.9 466.4,172.3 466.5,171.4 466.6,171.7 466.8,171.4 466.9,172.2 467.1,172.1 467.2,172.1 467.3,171.2 467.5,171.2 467.6,170.9 467.8,172.7 467.9,170.4 468.0,171.2 468.2,169.5 468.3,171.8 468.5,173.3 468.6,171.5 468.7,169.5 468.9,171.2 469.0,171.8 469.2,170.7 469.3,171.5 469.4,171.2 469.6,169.7 469.7,172.1 469.9,171.1 470.0,170.7 470.1,171.8 470.3,171.4 470.4,171.2 470.6,170.3 470.7,174.1 470.8,171.7 471.0,171.4 471.1,171.6 471.3,171.4 471.4,172.1 471.5,172.5 471.7,171.1 471.8,173.0 472.0,171.1 472.1,171.7 472.2,173.1 472.4,171.9 472.5,169.8 472.7,171.7 472.8,172.4 472.9,169.8 473.1,170.8 473.2,171.3 473.4,171.3 473.5,173.9 473.6,170.1 473.8,170.7 473.9,171.7 474.1,170.3 474.2,171.6 474.3,171.7 474.5,171.5 474.6,171.3 474.8,171.4 474.9,171.2 475.0,171.2 475.2,171.1 475.3,171.0 475.5,170.6 475.6,171.5 475.7,171.6 475.9,171.4 476.0,171.4 476.2,172.1 476.3,172.6 476.4,169.8 476.6,171.2 476.7,171.3 476.9,170.1 477.0,171.0 477.1,171.2 477.3,169.4 477.4,171.2 477.6,170.1 477.7,171.1 477.8,170.6 478.0,170.1 478.1,169.7 478.3,171.3 478.4,168.6 478.5,171.1 478.7,169.6 478.8,171.6 479.0,171.5 479.1,170.3 479.2,170.9 479.4,171.6 479.5,170.1 479.7,171.9 479.8,171.4 479.9,172.7 480.1,171.3 480.2,169.3 480.4,170.9 480.5,171.4 480.6,171.0 480.8,170.8 480.9,170.5 481.1,171.4 481.2,170.1 481.3,171.5 481.5,170.5 481.6,171.1 481.8,172.3 481.9,171.0 482.0,171.9 482.2,169.6 482.3,170.8 482.5,171.1 482.6,170.0 482.7,171.1 482.9,171.0 483.0,170.6 483.2,171.3 483.3,168.0 483.4,172.1 483.6,169.3 483.7,171.1 483.9,169.6 484.0,167.9 484.1,170.6 484.3,170.4 484.4,170.8 484.6,171.2 484.7,170.1 484.8,170.2 485.0,170.2 485.1,169.7 485.3,170.6 485.4,170.4 485.5,168.9 485.7,170.0 485.8,168.8 486.0,168.9 486.1,169.3 486.2,168.9 486.4,168.9 486.5,168.0 486.7,168.7 486.8,166.7 486.9,164.8 487.1,166.3 487.2,166.3 487.4,166.5 487.5,164.4 487.6,162.4 487.8,165.1 487.9,161.5 488.1,159.2 488.2,157.4 488.3,155.4 488.5,153.5 488.6,153.6 488.8,151.0 488.9,151.8 489.0,151.4 489.2,152.4 489.3,152.9 489.5,153.2 489.6,152.8 489.7,157.2 489.9,157.9 490.0,156.7 490.2,157.6 490.3,158.1 490.4,159.8 490.6,158.1 490.7,158.5 490.9,156.2 491.0,157.8 491.1,160.7 491.3,161.2 491.4,160.7 491.6,163.6 491.7,163.4 491.8,166.1 492.0,168.3 492.1,168.0 492.3,166.1 492.4,167.5 492.5,168.8 492.7,168.3 492.8,166.9 493.0,168.2 493.1,169.2 493.2,168.8 493.4,168.3 493.5,169.4 493.7,170.3 493.8,169.8 493.9,169.1 494.1,169.0 494.2,168.6 494.4,169.4 494.5,170.0 494.6,171.2 494.8,169.5 494.9,170.5 495.1,171.7 495.2,169.8 495.3,170.7 495.5,172.7 495.6,169.6 495.8,170.3 495.9,171.2 496.0,169.3 496.2,168.8 496.3,170.5 496.5,170.4 496.6,171.5 496.7,170.6 496.9,171.6 497.0,170.4 497.2,170.6 497.3,171.1 497.4,170.2 497.6,170.2 497.7,170.8 497.9,168.8 498.0,170.4 498.1,169.5 498.3,170.4 498.4,167.8 498.6,168.8 498.7,170.5 498.8,170.1 499.0,170.9 499.1,170.6 499.3,170.5 499.4,171.4 499.5,168.8 499.7,172.0 499.8,169.2 500.0,168.8 500.1,172.4 500.2,169.7 500.4,170.5 500.5,170.3 500.7,170.1 500.8,170.5 500.9,171.6 501.1,170.4 501.2,170.8 501.4,172.3 501.5,170.5 501.6,170.2 501.8,170.5 501.9,171.2 502.1,170.9 502.2,172.5 502.3,170.3 502.5,172.1 502.6,170.4 502.8,168.0 502.9,170.8 503.0,172.1 503.2,170.0 503.3,171.8 503.5,171.4 503.6,170.2 503.7,171.2 503.9,170.3 504.0,170.8 504.2,170.6 504.3,169.9 504.4,170.5 504.6,170.4 504.7,169.2 504.9,171.6 505.0,170.2 505.1,170.3 505.3,172.4 505.4,170.4 505.6,170.4 505.7,171.4 505.8,170.3 506.0,172.3 506.1,170.6 506.3,170.4 506.4,170.3 506.5,170.2 506.7,172.8 506.8,170.6 507.0,169.1 507.1,169.2 507.2,171.2 507.4,171.8 507.5,172.5 507.7,169.2 507.8,170.1 507.9,171.4 508.1,171.4 508.2,171.4 508.4,169.8 508.5,171.2 508.6,171.1 508.8,171.8 508.9,170.5 509.1,170.9 509.2,169.9 509.3,171.1 509.5,168.1 509.6,171.5 509.8,170.9 509.9,170.3 510.0,169.9 510.2,170.6 510.3,171.1 510.5,172.0 510.6,172.6 510.7,170.7 510.9,170.2 511.0,169.6 511.2,171.1 511.3,170.8 511.4,170.0 511.6,170.7 511.7,170.4 511.9,171.3 512.0,169.3 512.1,169.9 512.3,169.9 512.4,170.6 512.6,170.3 512.7,170.8 512.8,170.6 513.0,170.3 513.1,171.0 513.3,170.7 513.4,169.6 513.5,170.4 513.7,170.8 513.8,170.8 514.0,170.5 514.1,169.9 514.2,171.4 514.4,170.7 514.5,170.9 514.7,171.6 514.8,168.8 514.9,169.6 515.1,171.1 515.2,169.4 515.4,168.0 515.5,172.9 515.6,168.9 515.8,171.6 515.9,173.0 516.1,170.4 516.2,170.8 516.3,169.5 516.5,173.2 516.6,171.8 516.8,170.2 516.9,169.2 517.0,171.2 517.2,173.2 517.3,169.7 517.5,171.8 517.6,171.6 517.7,170.0 517.9,169.9 518.0,169.9 518.2,170.2 518.3,170.5 518.4,170.0 518.6,170.3 518.7,170.7 518.9,170.8 519.0,173.2 519.1,169.7 519.3,171.8 519.4,170.1 519.6,170.0 519.7,171.7 519.8,170.7 520.0,171.0 520.1,171.8 520.3,171.2 520.4,171.1 520.5,170.3 520.7,170.3 520.8,170.6 521.0,170.4 521.1,169.9 521.2,171.1 521.4,171.2 521.5,171.9 521.7,170.9 521.8,170.6 521.9,170.4 522.1,170.4 522.2,171.4 522.4,171.1 522.5,169.4 522.6,170.8 522.8,171.8 522.9,171.5 523.1,170.4 523.2,171.4 523.3,171.5 523.5,170.8 523.6,171.6 523.8,169.7 523.9,172.1 524.0,171.5 524.2,170.4 524.3,171.3 524.5,170.6 524.6,171.2 524.7,170.3 524.9,170.9 525.0,169.1 525.2,173.0 525.3,171.0 525.4,171.8 525.6,170.9 525.7,170.9 525.9,171.8 526.0,173.2 526.1,170.4 526.3,170.2 526.4,171.1 526.6,170.6 526.7,173.2 526.8,170.7 527.0,169.5 527.1,168.8 527.3,171.1 527.4,170.3 527.5,170.2 527.7,170.9 527.8,170.1 528.0,170.4 528.1,170.4 528.2,171.2 528.4,171.0 528.5,172.0 528.7,170.2 528.8,173.2 528.9,170.7 529.1,170.4 529.2,172.2 529.4,169.8 529.5,172.5 529.6,168.3 529.8,169.8 529.9,170.7 530.1,170.1 530.2,171.1 530.3,170.8 530.5,170.1 530.6,170.5 530.8,168.0 530.9,171.8 531.0,168.9 531.2,170.3 531.3,171.8 531.5,170.6 531.6,170.7 531.7,170.9 531.9,171.0 532.0,170.3 532.2,169.5 532.3,170.8 532.4,170.6 532.6,170.8 532.7,172.4 532.9,170.7 533.0,169.9 533.1,170.3 533.3,171.6 533.4,170.1 533.6,170.2 533.7,172.2 533.8,170.6 534.0,170.9 534.1,172.1 534.3,171.5 534.4,168.3 534.5,170.6 534.7,170.9 534.8,169.6 535.0,169.8 535.1,171.2 535.2,171.1 535.4,173.1 535.5,169.0 535.7,168.9 535.8,173.2 535.9,171.0 536.1,169.4 536.2,170.9 536.4,170.9 536.5,170.9 536.6,171.4 536.8,171.1 536.9,170.7 537.1,170.4 537.2,169.9 537.3,173.2 537.5,170.5 537.6,170.1 537.8,170.9 537.9,170.9 538.0,170.8 538.2,171.6 538.3,170.8 538.5,170.4 538.6,169.4 538.7,169.5 538.9,170.6 539.0,170.1 539.2,169.7"/><polyline stroke="#ff0000" points="35.3,270.5 35.4,270.6 35.6,271.8 35.7,269.8 35.9,271.3 36.0,271.6 36.1,270.5 36.3,269.6 36.4,270.8 36.6,271.6 36.7,271.4 36.8,270.5 37.0,271.3 37.1,271.8 37.3,271.4 37.4,271.8 37.5,273.6 37.7,271.9 37.8,271.5 38.0,270.9 38.1,271.4 38.2,271.8 38.4,272.9 38.5,272.4 38.7,271.5 38.8,273.3 38.9,271.9 39.1,272.3 39.2,270.9 39.4,270.9 39.5,271.4 39.6,273.2 39.8,272.5 39.9,273.1 40.1,272.5 40.2,272.1 40.3,272.3 40.5,272.5 40.6,273.3 40.8,272.3 40.9,273.6 41.0,272.6 41.2,273.3 41.3,272.5 41.5,272.9 41.6,272.3 41.7,272.7 41.9,272.0 42.0,271.5 42.2,270.8 42.3,273.1 42.4,272.7 42.6,274.0 42.7,273.7 42.9,272.7 43.0,275.1 43.1,273.1 43.3,273.5 43.4,272.8 43.6,272.3 43.7,272.3 43.8,272.3 44.0,273.3 44.1,272.0 44.3,270.8 44.4,274.0 44.5,272.0 44.7,273.2 44.8,273.2 45.0,273.5 45.1,273.3 45.2,274.9 45.4,273.9 45.5,273.5 45.7,273.6 45.8,273.5 45.9,275.4 46.1,272.9 46.2,273.9 46.4,273.6 46.5,271.7 46.6,273.2 46.8,275.0 46.9,274.3 47.1,271.1 47.2,273.3 47.3,271.1 47.5,274.5 47.6,272.6 47.8,272.2 47.9,276.3 48.0,273.7 48.2,273.5 48.3,272.2 48.5,273.7 48.6,273.7 48.7,274.0 48.9,271.4 49.0,273.1 49.2,273.4 49.3,273.9 49.4,273.7 49.6,274.3 49.7,273.7 49.9,275.4 50.0,276.1 50.1,272.6 50.3,273.5 50.4,274.3 50.6,274.8 50.7,272.7 50.8,273.5 51.0,274.2 51.1,274.6 51.3,275.6 51.4,275.3 51.5,275.0 51.7,272.7 51.8,276.7 52.0,274.6 52.1,273.2 52.2,274.0 52.4,274.7 52.5,274.3 52.7,274.5 52.8,275.3 52.9,275.4 53.1,274.7 53.2,275.3 53.4,274.5 53.5,276.9 53.6,274.9 53.8,276.7 53.9,272.9 54.1,275.8 54.2,274.9 54.3,275.2 54.5,274.1 54.6,274.9 54.8,274.4 54.9,273.7 55.0,272.3 55.2,276.1 55.3,275.2 55.5,274.3 55.6,274.5 55.7,274.9 55.9,275.7 56.0,273.9 56.2,277.1 56.3,276.7 56.4,274.5 56.6,275.3 56.7,274.9 56.9,275.5 57.0,273.8 57.1,275.1 57.3,275.3 57.4,275.4 57.6,275.6 57.7,276.4 57.8,274.7 58.0,274.4 58.1,275.1 58.3,275.4 58.4,277.2 58.5,275.7 58.7,275.8 58.8,277.5 59.0,274.9 59.1,274.9 59.2,275.3 59.4,275.1 59.5,275.7 59.7,277.2 59.8,274.6 59.9,275.5 60.1,275.9 60.2,275.5 60.4,276.9 60.5,276.1 60.6,276.7 60.8,274.5 60.9,275.0 61.1,274.2 61.2,276.5 61.3,277.6 61.5,273.1 61.6,276.4 61.8,276.2 61.9,277.0 62.0,275.3 62.2,276.2 62.3,275.3 62.5,274.5 62.6,276.4 62.7,274.1 62.9,276.3 63.0,275.5 63.2,275.9 63.3,277.1 63.4,275.4 63.6,275.9 63.7,275.8 63.9,275.3 64.0,276.0 64.1,275.3 64.3,276.8 64.4,276.3 64.6,275.7 64.7,278.3 64.8,275.9 65.0,276.5 65.1,276.7 65.3,275.7 65.4,273.6 65.5,277.4 65.7,278.1 65.8,275.5 66.0,275.4 66.1,276.2 66.2,276.5 66.4,278.9 66.5,278.3 66.7,279.0 66.8,275.9 66.9,276.6 67.1,276.3 67.2,275.9 67.4,275.0 67.5,275.7 67.6,276.2 67.8,275.2 67.9,275.6 68.1,274.7 68.2,276.8 68.3,276.6 68.5,276.0 68.6,276.6 68.8,276.5 68.9,276.9 69.0,278.1 69.2,276.4 69.3,276.9 69.5,276.1 69.6,278.3 69.7,276.9 69.9,275.9 70.0,276.2 70.2,275.9 70.3,276.0 70.4,276.4 70.6,277.6 70.7,276.7 70.9,276.4 71.0,276.7 71.1,276.4 71.3,277.3 71.4,275.3 71.6,276.5 71.7,276.6 71.8,276.1 72.0,277.4 72.1,276.2 72.3,276.5 72.4,275.3 72.5,277.5 72.7,276.7 72.8,277.2 73.0,276.3 73.1,274.7 73.2,276.7 73.4,277.6 73.5,277.8 73.7,276.7 73.8,277.9 73.9,275.3 74.1,277.1 74.2,276.5 74.4,276.9 74.5,276.4 74.6,278.2 74.8,276.7 74.9,278.7 75.1,275.9 75.2,277.0 75.3,277.0 75.5,277.5 75.6,276.8 75.8,277.1 75.9,275.7 76.0,276.8 76.2,277.6 76.3,276.0 76.5,277.1 76.6,276.6 76.7,276.3 76.9,276.1 77.0,277.9 77.2,277.5 77.3,277.0 77.4,277.0 77.6,277.7 77.7,277.4 77.9,278.5 78.0,278.6 78.1,277.2 78.3,277.5 78.4,277.3 78.6,276.9 78.7,277.2 78.8,277.7 79.0,277.3 79.1,277.5 79.3,277.3 79.4,279.0 79.5,277.9 79.7,276.3 79.8,278.0 80.0,278.6 80.1,278.1 80.2,277.0 80.4,277.1 80.5,276.8 80.7,275.7 80.8,277.3 80.9,278.2 81.1,277.9 81.2,277.6 81.4,278.2 81.5,277.7 81.6,276.8 81.8,278.1 81.9,277.2 82.1,278.5 82.2,277.1 82.3,276.1 82.5,277.9 82.6,276.3 82.8,278.4 82.9,277.3 83.0,278.0 83.2,275.8 83.3,277.5 83.5,277.8 83.6,276.4 83.7,277.6 83.9,276.5 84.0,277.1 84.2,277.2 84.3,277.7 84.4,276.5 84.6,276.7 84.7,278.1 84.9,277.9 85.0,277.4 85.1,277.0 85.3,277.8 85.4,277.4 85.6,277.1 85.7,278.5 85.8,276.8 86.0,278.2 86.1,277.7 86.3,277.7 86.4,277.8 86.5,278.0 86.7,278.6 86.8,278.9 87.0,277.0 87.1,276.7 87.2,278.7 87.4,276.8 87.5,276.9 87.7,278.2 87.8,279.5 87.9,278.4 88.1,277.5 88.2,277.3 88.4,280.1 88.5,278.0 88.6,277.7 88.8,274.9 88.9,276.8 89.1,274.9 89.2,278.7 89.3,276.9 89.5,276.7 89.6,277.6 89.8,276.8 89.9,277.5 90.0,279.2 90.2,278.4 90.3,276.9 90.5,278.8 90.6,277.3 90.7,277.5 90.9,277.1 91.0,280.0 91.2,277.1 91.3,277.9 91.4,277.6 91.6,277.8 91.7,276.2 91.9,277.5 92.0,280.0 92.1,277.5 92.3,276.7 92.4,275.7 92.6,277.0 92.7,277.8 92.8,275.1 93.0,275.6 93.1,277.6 93.3,278.4 93.4,277.2 93.5,277.5 93.7,276.8 93.8,276.8 94.0,277.2 94.1,276.6 94.2,277.2 94.4,276.3 94.5,278.6 94.7,277.5 94.8,276.0 94.9,276.5 95.1,278.0 95.2,276.9 95.4,276.7 95.5,274.9 95.6,277.4 95.8,277.2 95.9,277.9 96.1,276.3 96.2,277.6 96.3,277.8 96.5,277.8 96.6,277.5 96.8,276.9 96.9,275.3 97.0,277.2 97.2,274.8 97.3,275.7 97.5,276.8 97.6,275.9 97.7,276.8 97.9,277.8 98.0,276.1 98.2,277.6 98.3,279.5 98.4,274.9 98.6,276.7 98.7,277.2 98.9,277.3 99.0,276.4 99.1,277.5 99.3,276.5 99.4,276.1 99.6,276.8 99.7,276.9 99.8,277.5 100.0,277.0 100.1,275.4 100.3,276.8 100.4,276.4 100.5,277.0 100.7,274.8 100.8,276.9 101.0,277.2 101.1,274.7 101.2,274.0 101.4,277.7 101.5,277.7 101.7,275.8 101.8,277.9 101.9,276.3 102.1,276.5 102.2,276.4 102.4,276.2 102.5,277.5 102.6,276.6 102.8,277.9 102.9,276.6 103.1,277.8 103.2,276.4 103.3,276.3 103.5,276.5 103.6,273.7 103.8,276.9 103.9,275.4 104.0,277.9 104.2,274.5 104.3,276.7 104.5,276.8 104.6,276.3 104.7,275.0 104.9,276.9 105.0,275.9 105.2,275.8 105.3,276.5 105.4,278.3 105.6,274.9 105.7,276.0 105.9,276.4 106.0,275.7 106.1,277.5 106.3,276.2 106.4,274.7 106.6,275.2 106.7,275.1 106.8,276.0 107.0,277.3 107.1,274.9 107.3,275.1 107.4,275.3 107.5,276.1 107.7,275.8 107.8,275.8 108.0,275.0 108.1,276.7 108.2,275.8 108.4,276.8 108.5,273.8 108.7,275.8 108.8,275.6 108.9,276.6 109.1,276.1 109.2,275.8 109.4,274.9 109.5,276.1 109.6,276.9 109.8,276.3 109.9,277.7 110.1,275.8 110.2,275.3 110.3,275.0 110.5,276.3 110.6,276.3 110.8,275.8 110.9,276.2 111.0,275.5 111.2,276.4 111.3,275.9 111.5,275.0 111.6,275.6 111.7,275.8 111.9,274.8 112.0,277.0 112.2,276.1 112.3,274.5 112.4,274.8 112.6,272.8 112.7,276.9 112.9,274.6 113.0,276.1 113.1,275.3 113.3,273.7 113.4,274.6 113.6,274.8 113.7,275.8 113.8,275.0 114.0,274.3 114.1,276.9 114.3,275.2 114.4,273.7 114.5,277.3 114.7,275.5 114.8,275.0 115.0,274.2 115.1,275.5 115.2,273.9 115.4,276.6 115.5,275.6 115.7,275.4 115.8,275.6 115.9,276.0 116.1,274.9 116.2,275.7 116.4,273.8 116.5,275.3 116.6,275.5 116.8,274.3 116.9,273.8 117.1,276.2 117.2,276.0 117.3,273.7 117.5,275.0 117.6,274.1 117.8,274.2 117.9,276.3 118.0,275.1 118.2,275.3 118.3,274.3 118.5,275.4 118.6,275.1 118.7,274.5 118.9,274.7 119.0,274.2 119.2,274.8 119.3,273.9 119.4,274.6 119.6,275.6 119.7,274.9 119.9,274.8 120.0,273.5 120.1,275.3 120.3,274.8 120.4,276.2 120.6,276.0 120.7,276.0 120.8,274.5 121.0,275.0 121.1,273.2 121.3,272.5 121.4,274.8 121.5,274.3 121.7,275.2 121.8,272.7 122.0,272.3 122.1,272.0 122.2,270.6 122.4,270.6 122.5,269.3 122.7,270.7 122.8,271.6 122.9,272.8 123.1,272.2 123.2,274.3 123.4,273.2 123.5,274.0 123.6,276.4 123.8,274.4 123.9,274.3 124.1,274.0 124.2,274.2 124.3,274.2 124.5,274.5 124.6,274.3 124.8,273.9 124.9,273.5 125.0,276.8 125.2,274.4 125.3,273.4 125.5,273.9 125.6,274.5 125.7,273.6 125.9,275.3 126.0,274.2 126.2,274.5 126.3,274.4 126.4,273.3 126.6,275.6 126.7,275.0 126.9,273.2 127.0,274.2 127.1,274.1 127.3,273.7 127.4,273.9 127.6,273.6 127.7,274.3 127.8,273.9 128.0,272.9 128.1,273.5 128.3,273.1 128.4,274.2 128.5,274.1 128.7,273.8 128.8,274.1 129.0,274.2 129.1,273.4 129.2,272.3 129.4,275.9 129.5,273.2 129.7,273.4 129.8,274.3 129.9,276.5 130.1,272.9 130.2,273.8 130.4,274.8 130.5,272.6 130.6,273.4 130.8,274.1 130.9,274.7 131.1,272.7 131.2,273.7 131.3,274.0 131.5,273.9 131.6,273.9 131.8,276.4 131.9,276.4 132.0,273.2 132.2,273.3 132.3,273.7 132.5,272.6 132.6,272.9 132.7,273.9 132.9,276.4 133.0,273.4 133.2,273.1 133.3,274.0 133.4,273.4 133.6,271.2 133.7,272.5 133.9,274.8 134.0,272.6 134.1,274.0 134.3,273.6 134.4,274.3 134.6,273.7 134.7,273.1 134.8,273.0 135.0,273.0 135.1,272.9 135.3,272.7 135.4,272.5 135.5,272.6 135.7,271.7 135.8,269.2 136.0,269.4 136.1,269.9 136.2,269.4 136.4,267.6 136.5,267.7 136.7,269.3 136.8,269.8 136.9,271.3 137.1,273.9 137.2,274.0 137.4,273.2 137.5,273.5 137.6,273.9 137.8,274.0 137.9,274.0 138.1,274.1 138.2,273.8 138.3,272.7 138.5,274.0 138.6,274.0 138.8,272.9 138.9,273.0 139.0,274.0 139.2,273.5 139.3,274.4 139.5,273.3 139.6,274.0 139.7,273.9 139.9,272.6 140.0,273.3 140.2,273.5 140.3,273.4 140.4,272.5 140.6,273.2 140.7,273.8 140.9,273.2 141.0,274.0 141.1,273.6 141.3,273.7 141.4,273.1 141.6,274.4 141.7,272.4 141.8,275.4 142.0,273.9 142.1,275.4 142.3,273.8 142.4,273.5 142.5,273.5 142.7,275.2 142.8,273.8 143.0,273.6 143.1,272.9 143.2,272.8 143.4,273.6 143.5,273.6 143.7,274.4 143.8,272.7 143.9,273.6 144.1,272.7 144.2,273.1 144.4,273.6 144.5,274.6 144.6,272.5 144.8,272.5 144.9,273.3 145.1,272.5 145.2,270.5 145.3,271.4 145.5,272.2 145.6,270.3 145.8,272.4 145.9,270.7 146.0,270.6 146.2,272.4 146.3,272.5 146.5,271.6 146.6,273.0 146.7,275.1 146.9,273.8 147.0,273.4 147.2,274.1 147.3,274.0 147.4,272.8 147.6,273.6 147.7,274.4 147.9,272.6 148.0,273.8 148.1,272.7 148.3,273.3 148.4,274.3 148.6,273.5 148.7,274.5 148.8,274.2 149.0,274.0 149.1,272.9 149.3,273.7 149.4,274.8 149.5,274.0 149.7,272.3 149.8,273.8 150.0,273.7 150.1,273.8 150.2,273.6 150.4,274.5 150.5,273.8 150.7,274.7 150.8,275.6 150.9,275.0 151.1,274.4 151.2,271.5 151.4,271.2 151.5,273.0 151.6,273.9 151.8,273.5 151.9,272.9 152.1,275.3 152.2,273.8 152.3,273.2 152.5,273.9 152.6,276.4 152.8,274.4 152.9,275.4 153.0,272.9 153.2,274.5 153.3,273.7 153.5,273.8 153.6,274.0 153.7,274.0 153.9,274.7 154.0,273.7 154.2,274.0 154.3,274.0 154.4,274.3 154.6,274.2 154.7,272.3 154.9,274.9 155.0,274.1 155.1,272.8 155.3,273.3 155.4,274.0 155.6,273.3 155.7,271.6 155.8,270.9 156.0,273.3 156.1,272.4 156.3,272.8 156.4,272.9 156.5,274.5 156.7,273.2 156.8,275.0 157.0,275.1 157.1,274.5 157.2,274.3 157.4,274.9 157.5,274.5 157.7,274.5 157.8,274.2 157.9,275.3 158.1,273.9 158.2,274.8 158.4,274.7 158.5,277.4 158.6,273.7 158.8,275.0 158.9,274.3 159.1,276.6 159.2,273.9 159.3,276.2 159.5,275.2 159.6,274.2 159.8,274.8 159.9,274.5 160.0,274.9 160.2,275.8 160.3,275.0 160.5,277.6 160.6,276.3 160.7,274.4 160.9,274.1 161.0,275.4 161.2,274.8 161.3,274.6 161.4,276.5 161.6,275.2 161.7,274.6 161.9,275.2 162.0,275.2 162.1,275.8 162.3,275.0 162.4,275.1 162.6,274.2 162.7,276.0 162.8,276.5 163.0,272.5 163.1,275.7 163.3,277.3 163.4,276.1 163.5,275.8 163.7,274.5 163.8,277.8 164.0,274.9 164.1,276.1 164.2,275.7 164.4,275.3 164.5,277.1 164.7,276.9 164.8,275.0 164.9,274.9 165.1,276.0 165.2,274.5 165.4,275.2 165.5,273.1 165.6,272.6 165.8,272.4 165.9,271.9 166.1,272.2 166.2,271.9 166.3,272.2 166.5,273.4 166.6,273.3 166.8,274.2 166.9,274.5 167.0,276.5 167.2,274.8 167.3,275.1 167.5,276.4 167.6,274.9 167.7,274.6 167.9,275.1 168.0,275.8 168.2,274.5 168.3,275.4 168.4,274.9 168.6,274.9 168.7,275.1 168.9,274.8 169.0,274.1 169.1,274.2 169.3,273.0 169.4,275.8 169.6,275.0 169.7,276.2 169.8,274.3 170.0,274.6 170.1,274.6 170.3,273.5 170.4,274.5 170.5,274.5 170.7,274.2 170.8,273.9 171.0,273.6 171.1,272.7 171.2,274.2 171.4,273.2 171.5,272.5 171.7,276.3 171.8,274.8 171.9,273.3 172.1,273.4 172.2,272.7 172.4,275.8 172.5,272.7 172.6,273.8 172.8,273.3 172.9,270.1 173.1,270.5 173.2,272.2 173.3,270.0 173.5,273.3 173.6,273.8 173.8,271.7 173.9,270.9 174.0,270.4 174.2,269.8 174.3,270.5 174.5,269.3 174.6,269.2 174.7,269.8 174.9,270.0 175.0,268.8 175.2,269.9 175.3,268.3 175.4,266.9 175.6,266.1 175.7,265.0 175.9,265.6 176.0,264.1 176.1,264.2 176.3,262.2 176.4,262.1 176.6,260.2 176.7,258.4 176.8,257.1 177.0,255.2 177.1,250.9 177.3,250.8 177.4,246.1 177.5,243.9 177.7,239.8 177.8,235.5 178.0,228.5 178.1,222.3 178.2,213.7 178.4,201.8 178.5,188.6 178.7,171.7 178.8,151.9 178.9,128.0 179.1,98.3 179.2,64.0 179.4,35.5 179.5,5.3 179.6,-16.3 179.8,-24.0 179.9,-21.5 180.1,-9.1 180.2,12.0 180.3,38.7 180.5,67.4 180.6,96.2 180.8,123.0 180.9,148.7 181.0,169.8 181.2,186.1 181.3,200.1 181.5,212.2 181.6,220.9 181.7,230.6 181.9,234.9 182.0,240.7 182.2,243.3 182.3,247.4 182.4,252.3 182.6,249.7 182.7,254.4 182.9,256.9 183.0,257.5 183.1,258.1 183.3,260.8 183.4,260.5 183.6,262.2 183.7,262.2 183.8,265.2 184.0,263.8 184.1,267.6 184.3,266.9 184.4,267.3 184.5,267.0 184.7,268.2 184.8,268.3 185.0,270.2 185.1,269.6 185.2,267.5 185.4,271.8 185.5,273.2 185.7,273.4 185.8,270.6 185.9,271.3 186.1,272.0 186.2,270.6 186.4,271.8 186.5,271.8 186.6,273.2 186.8,270.3 186.9,274.0 187.1,270.3 187.2,274.3 187.3,272.9 187.5,272.4 187.6,272.9 187.8,274.9 187.9,272.7 188.0,274.3 188.2,274.7 188.3,273.3 188.5,273.9 188.6,273.9 188.7,275.4 188.9,273.2 189.0,273.8 189.2,274.4 189.3,273.2 189.4,273.7 189.6,274.8 189.7,274.5 189.9,274.4 190.0,275.3 190.1,273.8 190.3,275.7 190.4,274.1 190.6,275.7 190.7,274.9 190.8,274.9 191.0,274.7 191.1,275.1 191.3,274.1 191.4,275.0 191.5,273.4 191.7,274.8 191.8,276.7 192.0,276.5 192.1,274.0 192.2,275.8 192.4,274.7 192.5,274.5 192.7,274.4 192.8,274.5 192.9,274.5 193.1,276.3 193.2,275.1 193.4,273.8 193.5,275.2 193.6,274.8 193.8,277.2 193.9,274.2 194.1,275.1 194.2,274.7 194.3,274.1 194.5,273.6 194.6,275.9 194.8,272.2 194.9,274.2 195.0,274.7 195.2,274.4 195.3,274.9 195.5,274.0 195.6,275.4 195.7,274.9 195.9,275.1 196.0,277.1 196.2,274.0 196.3,274.8 196.4,274.0 196.6,274.5 196.7,274.9 196.9,275.4 197.0,274.2 197.1,275.6 197.3,275.4 197.4,274.9 197.6,276.0 197.7,274.8 197.8,277.5 198.0,277.0 198.1,274.9 198.3,276.8 198.4,275.6 198.5,275.1 198.7,275.2 198.8,275.7 199.0,276.9 199.1,276.3 199.2,276.9 199.4,274.9 199.5,272.5 199.7,274.1 199.8,274.9 199.9,273.9 200.1,275.2 200.2,274.1 200.4,274.8 200.5,274.8 200.6,276.4 200.8,275.1 200.9,274.1 201.1,275.7 201.2,276.7 201.3,275.6 201.5,272.6 201.6,276.1 201.8,274.6 201.9,276.0 202.0,276.0 202.2,275.5 202.3,273.8 202.5,275.0 202.6,274.1 202.7,275.7 202.9,273.6 203.0,274.8 203.2,275.1 203.3,275.0 203.4,273.5 203.6,271.6 203.7,273.3 203.9,271.2 204.0,271.4 204.1,269.0 204.3,271.9 204.4,274.6 204.6,274.2 204.7,274.7 204.8,274.8 205.0,274.0 205.1,274.6 205.3,277.0 205.4,274.2 205.5,275.6 205.7,275.2 205.8,275.9 206.0,274.5 206.1,274.3 206.2,275.5 206.4,275.0 206.5,276.1 206.7,278.1 206.8,274.5 206.9,275.0 207.1,274.7 207.2,275.3 207.4,274.9 207.5,275.7 207.6,275.3 207.8,275.5 207.9,276.5 208.1,276.5 208.2,274.7 208.3,275.0 208.5,275.6 208.6,275.5 208.8,273.5 208.9,276.0 209.0,276.1 209.2,275.4 209.3,274.5 209.5,275.9 209.6,274.0 209.7,274.0 209.9,275.7 210.0,275.5 210.2,278.2 210.3,275.2 210.4,275.0 210.6,275.4 210.7,276.8 210.9,276.2 211.0,273.3 211.1,274.9 211.3,277.7 211.4,276.1 211.6,275.9 211.7,274.7 211.8,275.6 212.0,273.7 212.1,277.1 212.3,277.7 212.4,276.3 212.5,276.9 212.7,275.2 212.8,275.8 213.0,276.4 213.1,276.4 213.2,276.2 213.4,274.7 213.5,277.4 213.7,275.3 213.8,276.0 213.9,276.5 214.1,274.4 214.2,275.2 214.4,275.3 214.5,277.5 214.6,275.0 214.8,274.3 214.9,274.5 215.1,273.9 215.2,272.4 215.3,272.6 215.5,273.1 215.6,272.7 215.8,271.9 215.9,271.0 216.0,269.3 216.2,270.8 216.3,268.9 216.5,269.2 216.6,269.5 216.7,267.7 216.9,265.9 217.0,262.7 217.2,263.2 217.3,263.4 217.4,258.3 217.6,256.8 217.7,252.8 217.9,249.3 218.0,244.4 218.1,237.7 218.3,231.1 218.4,221.6 218.6,212.1 218.7,201.6 218.8,189.8 219.0,175.3 219.1,161.9 219.3,146.6 219.4,134.2 219.5,122.7 219.7,114.7 219.8,110.7 220.0,113.2 220.1,118.4 220.2,125.6 220.4,136.6 220.5,152.6 220.7,164.5 220.8,177.2 220.9,188.5 221.1,202.3 221.2,213.7 221.4,225.2 221.5,229.1 221.6,238.7 221.8,245.9 221.9,250.9 222.1,253.1 222.2,256.9 222.3,259.4 222.5,258.9 222.6,262.9 222.8,266.5 222.9,265.2 223.0,266.7 223.2,268.8 223.3,270.7 223.5,270.1 223.6,271.2 223.7,274.1 223.9,273.1 224.0,270.3 224.2,273.7 224.3,272.6 224.4,276.0 224.6,275.0 224.7,276.1 224.9,275.2 225.0,273.9 225.1,275.1 225.3,274.7 225.4,276.7 225.6,277.5 225.7,276.5 225.8,277.6 226.0,276.4 226.1,277.0 226.3,277.1 226.4,277.4 226.5,275.4 226.7,276.8 226.8,276.5 227.0,278.0 227.1,277.7 227.2,280.4 227.4,278.1 227.5,277.2 227.7,276.7 227.8,278.2 227.9,278.6 228.1,276.9 228.2,277.9 228.4,279.7 228.5,279.1 228.6,276.7 228.8,277.8 228.9,278.8 229.1,277.9 229.2,275.3 229.3,277.4 229.5,277.2 229.6,277.3 229.8,279.9 229.9,278.3 230.0,280.2 230.2,278.2 230.3,279.6 230.5,277.4 230.6,279.1 230.7,277.6 230.9,278.3 231.0,276.9 231.2,278.7 231.3,277.5 231.4,279.3 231.6,277.3 231.7,277.5 231.9,277.7 232.0,278.8 232.1,278.2 232.3,277.3 232.4,277.8 232.6,278.7 232.7,278.9 232.8,278.3 233.0,277.6 233.1,279.3 233.3,277.7 233.4,278.4 233.5,278.6 233.7,278.3 233.8,276.3 234.0,277.3 234.1,278.6 234.2,278.2 234.4,278.9 234.5,278.4 234.7,278.4 234.8,279.1 234.9,279.5 235.1,277.6 235.2,278.9 235.4,280.0 235.5,277.0 235.6,278.0 235.8,278.1 235.9,278.2 236.1,279.0 236.2,275.5 236.3,276.6 236.5,278.7 236.6,277.6 236.8,277.9 236.9,277.0 237.0,279.7 237.2,277.6 237.3,275.8 237.5,278.1 237.6,276.4 237.7,275.2 237.9,274.1 238.0,273.1 238.2,276.4 238.3,274.9 238.4,275.9 238.6,277.1 238.7,275.9 238.9,278.2 239.0,278.2 239.1,278.3 239.3,277.9 239.4,277.7 239.6,278.8 239.7,280.6 239.8,278.4 240.0,279.5 240.1,277.4 240.3,278.8 240.4,277.7 240.5,277.8 240.7,276.2 240.8,279.8 241.0,277.4 241.1,277.7 241.2,278.0 241.4,278.2 241.5,279.0 241.7,277.0 241.8,276.9 241.9,277.7 242.1,279.4 242.2,279.1 242.4,279.5 242.5,278.3 242.6,275.7 242.8,278.5 242.9,277.9 243.1,277.4 243.2,278.0 243.3,278.8 243.5,278.5 243.6,278.8 243.8,278.6 243.9,278.5 244.0,278.4 244.2,279.0 244.3,278.7 244.5,278.7 244.6,278.1 244.7,277.8 244.9,279.0 245.0,278.6 245.2,278.9 245.3,278.1 245.4,275.9 245.6,279.0 245.7,277.6 245.9,278.9 246.0,276.8 246.1,277.2 246.3,277.3 246.4,277.5 246.6,279.1 246.7,276.2 246.8,278.1 247.0,278.5 247.1,278.5 247.3,278.8 247.4,278.5 247.5,277.5 247.7,277.1 247.8,279.1 248.0,278.1 248.1,277.6 248.2,278.1 248.4,277.5 248.5,279.1 248.7,277.9 248.8,278.7 248.9,278.4 249.1,278.7 249.2,280.0 249.4,278.5 249.5,277.6 249.6,278.9 249.8,278.2 249.9,278.1 250.1,279.4 250.2,278.0 250.3,278.2 250.5,278.5 250.6,279.2 250.8,279.2 250.9,278.5 251.0,276.1 251.2,276.1 251.3,277.6 251.5,281.3 251.6,278.6 251.7,278.7 251.9,279.1 252.0,278.7 252.2,277.9 252.3,279.1 252.4,278.0 252.6,278.5 252.7,276.5 252.9,279.0 253.0,279.5 253.1,278.5 253.3,277.1 253.4,278.5 253.6,278.0 253.7,278.2 253.8,279.1 254.0,279.0 254.1,279.0 254.3,278.7 254.4,279.0 254.5,278.8 254.7,278.7 254.8,277.6 255.0,279.9 255.1,278.7 255.2,279.8 255.4,280.0 255.5,278.8 255.7,279.2 255.8,279.0 255.9,279.6 256.1,281.5 256.2,276.3 256.4,279.9 256.5,278.4 256.6,278.3 256.8,279.4 256.9,278.4 257.1,279.0 257.2,278.0 257.3,276.4 257.5,279.0 257.6,278.1 257.8,280.3 257.9,276.8 258.0,277.9 258.2,280.5 258.3,278.5 258.5,279.2 258.6,277.1 258.7,279.4 258.9,279.0 259.0,279.8 259.2,279.4 259.3,279.3 259.4,279.0 259.6,279.1 259.7,279.6 259.9,278.8 260.0,279.3 260.1,278.0 260.3,280.0 260.4,279.2 260.6,278.1 260.7,278.4 260.8,278.7 261.0,277.6 261.1,279.0 261.3,279.0 261.4,279.1 261.5,278.9 261.7,278.3 261.8,279.5 262.0,278.9 262.1,276.4 262.2,279.5 262.4,277.2 262.5,279.2 262.7,279.1 262.8,280.3 262.9,280.3 263.1,278.8 263.2,279.1 263.4,278.0 263.5,279.1 263.6,278.6 263.8,278.9 263.9,278.8 264.1,280.3 264.2,279.1 264.3,279.9 264.5,278.9 264.6,278.7 264.8,280.8 264.9,278.7 265.0,277.3 265.2,278.4 265.3,279.5 265.5,278.9 265.6,279.6 265.7,279.4 265.9,280.2 266.0,278.2 266.2,280.1 266.3,278.3 266.4,278.9 266.6,280.6 266.7,278.7 266.9,279.1 267.0,278.8 267.1,277.9 267.3,279.0 267.4,277.5 267.6,277.3 267.7,278.9 267.8,278.7 268.0,279.8 268.1,279.0 268.3,278.7 268.4,278.5 268.5,280.1 268.7,279.7 268.8,279.1 269.0,278.0 269.1,279.1 269.2,277.5 269.4,278.0 269.5,278.8 269.7,277.5 269.8,277.5 269.9,279.1 270.1,279.7 270.2,278.5 270.4,279.9 270.5,278.1 270.6,278.9 270.8,278.8 270.9,279.6 271.1,279.1 271.2,279.1 271.3,277.7 271.5,278.3 271.6,278.5 271.8,279.4 271.9,280.0 272.0,280.4 272.2,279.9 272.3,279.8 272.5,279.8 272.6,279.3 272.7,277.4 272.9,277.9 273.0,277.5 273.2,279.4 273.3,279.4 273.4,278.1 273.6,278.6 273.7,278.1 273.9,279.9 274.0,279.6 274.1,279.4 274.3,279.2 274.4,279.0 274.6,278.9 274.7,278.0 274.8,279.0 275.0,279.1 275.1,279.3 275.3,277.7 275.4,280.4 275.5,279.4 275.7,279.3 275.8,278.5 276.0,279.0 276.1,279.2 276.2,278.3 276.4,279.3 276.5,279.2 276.7,279.6 276.8,279.1 276.9,279.4 277.1,280.7 277.2,279.3 277.4,276.4 277.5,277.5 277.6,278.8 277.8,278.9 277.9,279.2 278.1,278.9 278.2,278.9 278.3,277.5 278.5,279.8 278.6,279.0 278.8,280.5 278.9,280.3 279.0,280.9 279.2,279.3 279.3,277.4 279.5,278.9 279.6,279.0 279.7,278.5 279.9,277.1 280.0,279.5 280.2,279.6 280.3,278.3 280.4,276.4 280.6,279.5 280.7,279.3 280.9,278.1 281.0,278.3 281.1,278.4 281.3,279.3 281.4,280.0 281.6,279.8 281.7,278.3 281.8,278.7 282.0,279.1 282.1,279.2 282.3,278.5 282.4,278.8 282.5,279.2 282.7,279.3 282.8,279.5 283.0,279.1 283.1,276.8 283.2,278.4 283.4,279.1 283.5,278.6 283.7,281.5 283.8,278.5 283.9,280.0 284.1,278.4 284.2,279.6 284.4,279.4 284.5,281.6 284.6,279.3 284.8,280.4 284.9,280.1 285.1,278.8 285.2,279.1 285.3,277.8 285.5,278.4 285.6,280.1 285.8,278.3 285.9,278.7 286.0,278.3 286.2,279.7 286.3,278.1 286.5,279.2 286.6,278.2 286.7,279.9 286.9,278.1 287.0,279.2 287.2,280.8 287.3,279.3 287.4,279.1 287.6,279.5 287.7,278.9 287.9,277.9 288.0,279.4 288.1,280.0 288.3,278.5 288.4,279.0 288.6,279.8 288.7,278.5 288.8,278.7 289.0,278.7 289.1,278.1 289.3,280.2 289.4,279.3 289.5,279.3 289.7,279.6 289.8,280.0 290.0,279.0 290.1,281.0 290.2,276.4 290.4,278.5 290.5,278.2 290.7,279.2 290.8,279.5 290.9,279.8 291.1,281.5 291.2,280.4 291.4,279.0 291.5,279.0 291.6,279.0 291.8,276.4 291.9,279.0 292.1,279.4 292.2,277.4 292.3,278.6 292.5,278.1 292.6,277.8 292.8,278.7 292.9,278.9 293.0,277.9 293.2,279.3 293.3,279.3 293.5,281.6 293.6,279.4 293.7,276.6 293.9,278.0 294.0,280.4 294.2,278.1 294.3,278.4 294.4,278.9 294.6,279.7 294.7,279.0 294.9,276.7 295.0,278.8 295.1,280.8 295.3,278.4 295.4,279.3 295.6,278.6 295.7,277.3 295.8,278.7 296.0,279.0 296.1,280.0 296.3,278.2 296.4,280.0 296.5,278.0 296.7,278.7 296.8,278.9 297.0,280.9 297.1,278.8 297.2,278.7 297.4,277.0 297.5,278.4 297.7,279.2 297.8,279.4 297.9,278.9 298.1,280.5 298.2,277.0 298.4,279.2 298.5,278.8 298.6,279.0 298.8,278.7 298.9,278.0 299.1,278.1 299.2,277.8 299.3,279.1 299.5,281.5 299.6,278.0 299.8,280.0 299.9,279.3 300.0,278.6 300.2,278.1 300.3,278.3 300.5,281.1 300.6,279.1 300.7,281.6 300.9,278.5 301.0,278.0 301.2,279.1 301.3,277.7 301.4,279.0 301.6,279.0 301.7,280.7 301.9,279.4 302.0,276.4 302.1,277.1 302.3,276.4 302.4,279.1 302.6,279.1 302.7,279.1 302.8,280.1 303.0,278.4 303.1,279.0 303.3,280.0 303.4,279.4 303.5,278.8 303.7,277.5 303.8,277.7 304.0,280.9 304.1,278.0 304.2,277.1 304.4,279.6 304.5,279.1 304.7,278.9 304.8,279.3 304.9,278.5 305.1,278.8 305.2,278.6 305.4,278.1 305.5,279.3 305.6,278.8 305.8,278.8 305.9,279.1 306.1,279.3 306.2,279.6 306.3,279.4 306.5,278.6 306.6,277.6 306.8,279.2 306.9,278.3 307.0,278.8 307.2,280.0 307.3,277.4 307.5,278.8 307.6,278.4 307.7,279.0 307.9,279.0 308.0,278.5 308.2,280.6 308.3,279.1 308.4,278.0 308.6,279.6 308.7,279.3 308.9,278.8 309.0,279.6 309.1,279.5 309.3,278.7 309.4,280.3 309.6,279.3 309.7,277.4 309.8,278.3 310.0,276.6 310.1,279.3 310.3,277.9 310.4,279.0 310.5,279.0 310.7,277.4 310.8,281.6 311.0,280.6 311.1,281.6 311.2,278.7 311.4,278.6 311.5,278.1 311.7,281.6 311.8,279.6 311.9,278.0 312.1,276.4 312.2,279.8 312.4,278.6 312.5,278.8 312.6,279.6 312.8,279.7 312.9,279.1 313.1,280.0 313.2,279.0 313.3,278.9 313.5,279.2 313.6,279.1 313.8,278.6 313.9,279.5 314.0,279.3 314.2,278.2 314.3,279.1 314.5,279.0 314.6,279.1 314.7,279.1 314.9,279.4 315.0,278.9 315.2,279.0 315.3,280.2 315.4,277.4 315.6,279.5 315.7,277.4 315.9,276.6 316.0,280.0 316.1,277.9 316.3,277.6 316.4,279.8 316.6,278.7 316.7,278.9 316.8,279.2 317.0,279.0 317.1,279.5 317.3,278.9 317.4,279.7 317.5,278.7 317.7,278.0 317.8,279.6 318.0,280.7 318.1,279.9 318.2,277.7 318.4,279.0 318.5,279.3 318.7,279.2 318.8,279.8 318.9,281.6 319.1,279.3 319.2,280.1 319.4,278.8 319.5,279.1 319.6,280.2 319.8,278.4 319.9,279.1 320.1,279.2 320.2,278.7 320.3,279.5 320.5,279.6 320.6,279.2 320.8,278.4 320.9,278.5 321.0,279.1 321.2,278.4 321.3,279.4 321.5,279.5 321.6,277.8 321.7,279.3 321.9,279.4 322.0,279.3 322.2,279.7 322.3,279.4 322.4,278.2 322.6,278.6 322.7,279.4 322.9,279.7 323.0,278.4 323.1,278.9 323.3,278.0 323.4,279.5 323.6,279.8 323.7,277.2 323.8,279.8 324.0,278.6 324.1,278.8 324.3,278.9 324.4,280.2 324.5,278.8 324.7,279.7 324.8,281.6 325.0,279.4 325.1,279.4 325.2,279.4 325.4,279.1 325.5,276.7 325.7,278.8 325.8,278.8 325.9,278.3 326.1,279.4 326.2,278.3 326.4,278.3 326.5,277.8 326.6,278.8 326.8,278.9 326.9,280.5 327.1,277.8 327.2,279.5 327.3,278.5 327.5,279.9 327.6,278.9 327.8,279.3 327.9,279.3 328.0,279.7 328.2,280.0 328.3,279.1 328.5,279.1 328.6,278.8 328.7,278.9 328.9,280.2 329.0,278.6 329.2,279.2 329.3,278.8 329.4,279.8 329.6,278.8 329.7,278.4 329.9,278.9 330.0,279.1 330.1,278.3 330.3,277.6 330.4,278.7 330.6,277.6 330.7,279.7 330.8,278.8 331.0,279.4 331.1,280.0 331.3,279.1 331.4,280.1 331.5,279.1 331.7,277.5 331.8,279.1 332.0,278.8 332.1,278.8 332.2,279.0 332.4,280.0 332.5,279.6 332.7,279.6 332.8,278.3 332.9,279.5 333.1,279.6 333.2,278.4 333.4,280.7 333.5,278.8 333.6,280.0 333.8,279.0 333.9,279.0 334.1,279.3 334.2,279.6 334.3,278.6 334.5,279.4 334.6,278.0 334.8,278.4 334.9,278.8 335.0,276.4 335.2,279.9 335.3,279.0 335.5,278.3 335.6,279.2 335.7,278.6 335.9,278.2 336.0,278.8 336.2,278.5 336.3,278.5 336.4,280.4 336.6,277.5 336.7,279.0 336.9,279.1 337.0,279.1 337.1,281.0 337.3,276.8 337.4,279.7 337.6,277.5 337.7,277.7 337.8,278.9 338.0,279.1 338.1,279.1 338.3,278.6 338.4,281.4 338.5,279.9 338.7,279.1 338.8,280.7 339.0,278.6 339.1,280.1 339.2,278.9 339.4,276.4 339.5,280.4 339.7,278.4 339.8,277.9 339.9,278.3 340.1,279.4 340.2,279.4 340.4,279.9 340.5,278.4 340.6,278.3 340.8,280.5 340.9,278.4 341.1,277.8 341.2,279.6 341.3,278.2 341.5,279.2 341.6,278.5 341.8,279.3 341.9,278.8 342.0,279.7 342.2,278.4 342.3,276.8 342.5,278.7 342.6,277.2 342.7,278.3 342.9,278.3 343.0,278.4 343.2,278.2 343.3,278.6 343.4,279.2 343.6,277.4 343.7,279.6 343.9,277.9 344.0,279.5 344.1,279.3 344.3,278.9 344.4,278.8 344.6,277.3 344.7,280.4 344.8,279.1 345.0,278.3 345.1,278.0 345.3,280.3 345.4,279.0 345.5,279.6 345.7,279.4 345.8,276.9 346.0,279.8 346.1,279.1 346.2,278.7 346.4,278.8 346.5,278.7 346.7,279.7 346.8,278.3 346.9,277.2 347.1,277.9 347.2,279.1 347.4,278.5 347.5,278.5 347.6,280.1 347.8,278.6 347.9,277.1 348.1,278.3 348.2,278.5 348.3,280.9 348.5,277.5 348.6,278.9 348.8,279.0 348.9,277.5 349.0,280.1 349.2,277.9 349.3,276.9 349.5,279.8 349.6,280.4 349.7,278.3 349.9,277.7 350.0,276.4 350.2,279.7 350.3,278.1 350.4,280.4 350.6,278.2 350.7,278.6 350.9,277.8 351.0,277.7 351.1,278.0 351.3,275.8 351.4,277.5 351.6,277.9 351.7,276.9 351.8,276.7 352.0,277.1 352.1,276.9 352.3,277.7 352.4,276.0 352.5,277.9 352.7,276.0 352.8,276.2 353.0,276.6 353.1,276.2 353.2,275.9 353.4,274.4 353.5,274.5 353.7,276.6 353.8,278.1 353.9,276.9 354.1,275.0 354.2,273.9 354.4,274.2 354.5,274.1 354.6,273.4 354.8,273.2 354.9,272.3 355.1,272.2 355.2,271.8 355.3,270.3 355.5,268.9 355.6,269.0 355.8,265.7 355.9,261.7 356.0,263.1 356.2,258.6 356.3,252.4 356.5,247.7 356.6,244.5 356.7,236.3 356.9,229.9 357.0,221.9 357.2,214.2 357.3,205.5 357.4,199.9 357.6,194.5 357.7,191.8 357.9,191.9 358.0,195.3 358.1,196.5 358.3,201.4 358.4,204.3 358.6,207.4 358.7,210.7 358.8,217.6 359.0,220.9 359.1,229.8 359.3,233.8 359.4,241.7 359.5,242.9 359.7,248.6 359.8,255.5 360.0,257.3 360.1,260.4 360.2,263.6 360.4,265.7 360.5,266.7 360.7,270.0 360.8,268.9 360.9,270.1 361.1,274.2 361.2,272.5 361.4,271.8 361.5,272.5 361.6,273.8 361.8,274.3 361.9,276.0 362.1,275.0 362.2,275.3 362.3,275.7 362.5,275.7 362.6,276.0 362.8,277.5 362.9,277.6 363.0,276.8 363.2,275.6 363.3,277.5 363.5,276.8 363.6,278.2 363.7,277.7 363.9,277.5 364.0,277.1 364.2,277.7 364.3,279.4 364.4,278.2 364.6,277.6 364.7,278.2 364.9,277.5 365.0,277.6 365.1,278.4 365.3,279.1 365.4,278.6 365.6,277.8 365.7,277.6 365.8,278.9 366.0,277.8 366.1,278.8 366.3,278.9 366.4,275.8 366.5,281.1 366.7,281.1 366.8,277.8 367.0,278.3 367.1,280.1 367.2,278.1 367.4,278.5 367.5,277.6 367.7,279.6 367.8,278.5 367.9,280.2 368.1,281.3 368.2,278.8 368.4,278.5 368.5,277.4 368.6,279.4 368.8,281.1 368.9,277.1 369.1,279.6 369.2,278.3 369.3,278.8 369.5,278.6 369.6,279.0 369.8,278.6 369.9,280.1 370.0,277.0 370.2,279.1 370.3,279.2 370.5,280.8 370.6,279.1 370.7,278.9 370.9,278.2 371.0,278.6 371.2,279.7 371.3,276.4 371.4,280.0 371.6,279.9 371.7,279.0 371.9,279.8 372.0,278.5 372.1,278.3 372.3,279.6 372.4,279.5 372.6,278.8 372.7,279.4 372.8,278.0 373.0,277.2 373.1,279.9 373.3,279.0 373.4,279.6 373.5,279.1 373.7,279.0 373.8,280.4 374.0,280.7 374.1,279.1 374.2,278.8 374.4,278.8 374.5,279.8 374.7,278.8 374.8,279.0 374.9,277.2 375.1,278.6 375.2,280.0 375.4,280.5 375.5,281.7 375.6,278.6 375.8,279.3 375.9,279.2 376.1,280.1 376.2,279.0 376.3,280.3 376.5,278.7 376.6,279.0 376.8,278.5 376.9,278.1 377.0,279.5 377.2,279.7 377.3,279.0 377.5,279.8 377.6,279.3 377.7,279.9 377.9,279.0 378.0,278.8 378.2,279.5 378.3,278.5 378.4,279.7 378.6,279.8 378.7,278.6 378.9,279.5 379.0,279.2 379.1,280.1 379.3,277.7 379.4,278.4 379.6,278.7 379.7,279.9 379.8,278.6 380.0,278.8 380.1,279.2 380.3,279.9 380.4,279.7 380.5,277.7 380.7,279.0 380.8,280.5 381.0,279.0 381.1,278.5 381.2,278.2 381.4,279.0 381.5,279.4 381.7,281.1 381.8,280.2 381.9,280.4 382.1,278.3 382.2,278.1 382.4,278.8 382.5,279.5 382.6,279.1 382.8,280.1 382.9,279.2 383.1,281.7 383.2,279.4 383.3,279.0 383.5,279.0 383.6,279.8 383.8,279.1 383.9,279.0 384.0,278.3 384.2,279.7 384.3,279.1 384.5,278.2 384.6,279.1 384.7,279.4 384.9,279.8 385.0,280.9 385.2,278.4 385.3,279.2 385.4,278.7 385.6,278.9 385.7,279.2 385.9,279.5 386.0,276.9 386.1,277.9 386.3,279.8 386.4,278.9 386.6,277.1 386.7,279.1 386.8,279.0 387.0,278.8 387.1,280.5 387.3,279.8 387.4,279.1 387.5,279.8 387.7,280.3 387.8,278.7 388.0,278.2 388.1,278.9 388.2,279.3 388.4,280.4 388.5,279.6 388.7,279.4 388.8,279.0 388.9,279.4 389.1,278.8 389.2,276.5 389.4,278.2 389.5,279.0 389.6,278.9 389.8,280.2 389.9,279.6 390.1,279.6 390.2,278.6 390.3,279.4 390.5,278.4 390.6,279.5 390.8,278.0 390.9,278.3 391.0,277.7 391.2,279.1 391.3,279.2 391.5,280.2 391.6,278.7 391.7,278.7 391.9,278.5 392.0,279.5 392.2,278.6 392.3,279.4 392.4,279.2 392.6,278.9 392.7,278.8 392.9,279.8 393.0,280.4 393.1,278.7 393.3,279.2 393.4,280.3 393.6,278.5 393.7,277.8 393.8,279.7 394.0,278.9 394.1,279.4 394.3,281.0 394.4,278.7 394.5,279.3 394.7,278.9 394.8,280.7 395.0,278.9 395.1,279.0 395.2,279.5 395.4,278.5 395.5,279.9 395.7,278.6 395.8,279.5 395.9,279.9 396.1,276.8 396.2,278.9 396.4,279.0 396.5,279.9 396.6,279.0 396.8,279.5 396.9,278.4 397.1,279.0 397.2,279.4 397.3,278.1 397.5,278.1 397.6,277.7 397.8,278.4 397.9,278.5 398.0,278.7 398.2,279.1 398.3,277.9 398.5,278.7 398.6,278.5 398.7,279.2 398.9,279.2 399.0,279.7 399.2,279.6 399.3,278.6 399.4,279.4 399.6,278.8 399.7,278.9 399.9,279.3 400.0,278.9 400.1,279.9 400.3,277.5 400.4,280.4 400.6,279.0 400.7,279.2 400.8,277.7 401.0,278.8 401.1,277.5 401.3,280.0 401.4,278.7 401.5,281.2 401.7,279.9 401.8,278.4 402.0,276.4 402.1,278.2 402.2,277.5 402.4,280.4 402.5,278.3 402.7,279.8 402.8,277.8 402.9,279.0 403.1,277.4 403.2,278.5 403.4,278.5 403.5,278.8 403.6,279.4 403.8,280.9 403.9,280.1 404.1,278.7 404.2,279.4 404.3,279.3 404.5,281.0 404.6,278.7 404.8,279.3 404.9,278.9 405.0,281.6 405.2,278.9 405.3,279.5 405.5,277.9 405.6,280.2 405.7,279.4 405.9,278.1 406.0,279.5 406.2,278.1 406.3,279.2 406.4,280.7 406.6,278.9 406.7,279.1 406.9,279.6 407.0,277.8 407.1,277.8 407.3,278.1 407.4,281.6 407.6,279.9 407.7,279.8 407.8,279.1 408.0,279.4 408.1,279.0 408.3,280.0 408.4,279.8 408.5,278.2 408.7,278.8 408.8,279.2 409.0,279.9 409.1,278.4 409.2,280.2 409.4,279.9 409.5,278.4 409.7,279.4 409.8,280.6 409.9,280.5 410.1,280.0 410.2,278.0 410.4,280.5 410.5,278.8 410.6,278.0 410.8,277.4 410.9,279.3 411.1,279.0 411.2,279.0 411.3,278.4 411.5,279.2 411.6,279.4 411.8,278.9 411.9,277.9 412.0,277.5 412.2,279.1 412.3,278.2 412.5,277.1 412.6,279.7 412.7,276.8 412.9,278.8 413.0,279.4 413.2,278.2 413.3,278.1 413.4,278.6 413.6,278.6 413.7,277.6 413.9,279.0 414.0,281.5 414.1,280.2 414.3,279.4 414.4,278.5 414.6,280.0 414.7,277.0 414.8,279.0 415.0,279.3 415.1,279.6 415.3,280.6 415.4,279.1 415.5,279.1 415.7,279.5 415.8,280.2 416.0,278.1 416.1,279.6 416.2,279.6 416.4,278.9 416.5,279.9 416.7,279.8 416.8,277.8 416.9,280.8 417.1,278.9 417.2,277.8 417.4,278.7 417.5,281.5 417.6,278.6 417.8,280.8 417.9,278.9 418.1,278.6 418.2,279.8 418.3,278.4 418.5,279.3 418.6,277.5 418.8,278.2 418.9,279.0 419.0,278.5 419.2,276.3 419.3,278.7 419.5,279.2 419.6,279.4 419.7,279.8 419.9,277.6 420.0,279.5 420.2,278.9 420.3,279.4 420.4,278.6 420.6,278.7 420.7,280.0 420.9,279.1 421.0,279.0 421.1,279.5 421.3,278.6 421.4,279.8 421.6,279.3 421.7,279.6 421.8,280.6 422.0,279.2 422.1,279.2 422.3,279.6 422.4,279.1 422.5,279.9 422.7,278.8 422.8,278.4 423.0,278.4 423.1,280.2 423.2,278.5 423.4,277.8 423.5,278.7 423.7,279.0 423.8,279.4 423.9,277.7 424.1,278.8 424.2,279.5 424.4,278.8 424.5,278.4 424.6,280.1 424.8,278.6 424.9,277.9 425.1,278.8 425.2,279.0 425.3,279.3 425.5,279.1 425.6,279.3 425.8,278.7 425.9,279.2 426.0,279.4 426.2,279.5 426.3,279.3 426.5,278.3 426.6,279.2 426.7,279.5 426.9,280.7 427.0,279.9 427.2,276.2 427.3,281.0 427.4,278.7 427.6,278.9 427.7,277.7 427.9,278.6 428.0,277.8 428.1,278.6 428.3,278.3 428.4,278.1 428.6,278.6 428.7,279.8 428.8,278.8 429.0,278.4 429.1,277.3 429.3,278.4 429.4,280.6 429.5,280.3 429.7,279.7 429.8,279.6 430.0,279.8 430.1,276.2 430.2,280.0 430.4,279.8 430.5,278.0 430.7,280.2 430.8,279.1 430.9,278.2 431.1,279.7 431.2,277.2 431.4,279.0 431.5,278.6 431.6,278.9 431.8,279.9 431.9,278.8 432.1,279.3 432.2,277.8 432.3,280.5 432.5,278.6 432.6,277.4 432.8,278.0 432.9,280.0 433.0,276.1 433.2,280.4 433.3,279.4 433.5,278.4 433.6,279.9 433.7,277.6 433.9,279.3 434.0,278.3 434.2,279.2 434.3,276.9 434.4,279.3 434.6,278.8 434.7,279.6 434.9,278.8 435.0,279.4 435.1,278.5 435.3,279.6 435.4,280.0 435.6,277.0 435.7,279.1 435.8,278.3 436.0,280.0 436.1,280.5 436.3,279.0 436.4,278.3 436.5,279.3 436.7,279.1 436.8,277.9 437.0,278.4 437.1,277.3 437.2,278.6 437.4,278.1 437.5,278.4 437.7,278.6 437.8,279.2 437.9,279.4 438.1,278.2 438.2,278.0 438.4,278.9 438.5,278.9 438.6,278.5 438.8,279.4 438.9,278.1 439.1,279.9 439.2,278.7 439.3,279.1 439.5,278.2 439.6,277.1 439.8,278.9 439.9,278.4 440.0,278.5 440.2,279.2 440.3,278.5 440.5,279.2 440.6,278.2 440.7,278.6 440.9,278.4 441.0,277.9 441.2,278.7 441.3,278.6 441.4,278.8 441.6,278.6 441.7,278.2 441.9,278.0 442.0,278.6 442.1,278.5 442.3,277.9 442.4,278.4 442.6,276.5 442.7,277.2 442.8,277.3 443.0,277.8 443.1,278.8 443.3,278.9 443.4,279.1 443.5,278.4 443.7,278.8 443.8,278.6 444.0,277.6 444.1,278.0 444.2,279.7 444.4,276.3 444.5,276.9 444.7,278.5 444.8,278.4 444.9,278.6 445.1,278.2 445.2,278.8 445.4,278.2 445.5,278.3 445.6,278.7 445.8,279.5 445.9,277.7 446.1,278.2 446.2,278.1 446.3,276.7 446.5,279.5 446.6,278.7 446.8,278.1 446.9,277.8 447.0,277.6 447.2,278.1 447.3,277.8 447.5,278.2 447.6,278.2 447.7,278.3 447.9,278.9 448.0,278.7 448.2,277.1 448.3,277.0 448.4,278.3 448.6,278.0 448.7,275.4 448.9,277.6 449.0,277.2 449.1,278.0 449.3,277.3 449.4,279.5 449.6,279.1 449.7,275.3 449.8,278.2 450.0,279.0 450.1,277.5 450.3,279.6 450.4,276.9 450.5,276.9 450.7,276.7 450.8,277.3 451.0,277.8 451.1,278.2 451.2,276.2 451.4,275.9 451.5,276.6 451.7,278.5 451.8,279.9 451.9,277.8 452.1,276.0 452.2,276.2 452.4,276.9 452.5,277.3 452.6,277.3 452.8,277.2 452.9,276.1 453.1,277.6 453.2,277.3 453.3,276.3 453.5,276.2 453.6,275.2 453.8,275.8 453.9,275.5 454.0,275.9 454.2,276.0 454.3,277.1 454.5,275.4 454.6,275.0 454.7,276.1 454.9,274.0 455.0,274.3 455.2,274.9 455.3,274.7 455.4,274.2 455.6,273.5 455.7,272.7 455.9,271.8 456.0,273.2 456.1,272.7 456.3,272.2 456.4,271.7 456.6,272.3 456.7,272.7 456.8,269.7 457.0,268.6 457.1,267.6 457.3,266.7 457.4,268.3 457.5,265.1 457.7,263.0 457.8,261.5 458.0,260.5 458.1,257.9 458.2,255.9 458.4,254.7 458.5,248.6 458.7,246.3 458.8,239.8 458.9,234.6 459.1,231.6 459.2,223.4 459.4,216.7 459.5,210.5 459.6,202.3 459.8,196.0 459.9,190.4 460.1,187.8 460.2,186.6 460.3,187.3 460.5,189.0 460.6,191.6 460.8,195.7 460.9,198.1 461.0,200.8 461.2,204.1 461.3,204.9 461.5,210.2 461.6,209.7 461.7,213.1 461.9,217.7 462.0,219.6 462.2,224.5 462.3,229.8 462.4,233.5 462.6,238.7 462.7,242.9 462.9,245.7 463.0,251.2 463.1,253.6 463.3,255.3 463.4,259.5 463.6,261.4 463.7,263.8 463.8,264.4 464.0,266.1 464.1,265.9 464.3,269.0 464.4,267.8 464.5,269.7 464.7,270.1 464.8,271.2 465.0,274.0 465.1,273.8 465.2,272.0 465.4,273.5 465.5,273.9 465.7,271.1 465.8,274.9 465.9,274.3 466.1,274.6 466.2,274.2 466.4,275.0 466.5,275.1 466.6,272.8 466.8,274.7 466.9,277.0 467.1,275.4 467.2,277.2 467.3,276.2 467.5,276.7 467.6,274.4 467.8,275.1 467.9,275.2 468.0,277.0 468.2,276.6 468.3,275.9 468.5,277.8 468.6,276.9 468.7,277.3 468.9,277.5 469.0,277.5 469.2,277.4 469.3,275.0 469.4,277.0 469.6,278.1 469.7,278.0 469.9,279.8 470.0,275.2 470.1,277.2 470.3,276.9 470.4,278.7 470.6,278.3 470.7,278.8 470.8,277.5 471.0,279.1 471.1,276.5 471.3,277.0 471.4,277.7 471.5,278.6 471.7,278.5 471.8,277.2 472.0,277.2 472.1,279.0 472.2,278.3 472.4,277.2 472.5,275.8 472.7,277.5 472.8,277.5 472.9,279.4 473.1,277.8 473.2,280.0 473.4,278.5 473.5,278.8 473.6,277.3 473.8,278.0 473.9,278.1 474.1,277.5 474.2,278.6 474.3,277.9 474.5,278.0 474.6,278.4 474.8,279.1 474.9,280.4 475.0,278.1 475.2,280.5 475.3,278.8 475.5,277.1 475.6,278.2 475.7,279.6 475.9,277.6 476.0,278.5 476.2,278.5 476.3,278.0 476.4,279.2 476.6,278.9 476.7,278.2 476.9,280.3 477.0,279.2 477.1,279.9 477.3,280.7 477.4,278.7 477.6,278.8 477.7,279.1 477.8,277.2 478.0,279.8 478.1,280.0 478.3,279.5 478.4,279.0 478.5,279.9 478.7,279.4 478.8,280.0 479.0,279.3 479.1,278.9 479.2,278.9 479.4,279.5 479.5,278.1 479.7,280.1 479.8,280.6 479.9,280.2 480.1,279.1 480.2,276.4 480.4,280.1 480.5,278.4 480.6,276.4 480.8,279.0 480.9,280.4 481.1,279.2 481.2,278.5 481.3,278.0 481.5,279.1 481.6,278.8 481.8,278.2 481.9,278.6 482.0,279.9 482.2,279.2 482.3,278.9 482.5,278.2 482.6,278.9 482.7,277.6 482.9,279.5 483.0,279.4 483.2,278.7 483.3,279.0 483.4,279.1 483.6,278.7 483.7,280.7 483.9,278.8 484.0,280.0 484.1,281.0 484.3,278.9 484.4,277.7 484.6,279.4 484.7,279.0 484.8,279.1 485.0,280.7 485.1,277.8 485.3,280.2 485.4,278.9 485.5,278.3 485.7,278.4 485.8,278.5 486.0,279.0 486.1,280.6 486.2,279.3 486.4,279.0 486.5,280.0 486.7,278.9 486.8,278.2 486.9,278.6 487.1,280.8 487.2,279.5 487.4,278.9 487.5,280.5 487.6,278.2 487.8,280.1 487.9,280.2 488.1,278.5 488.2,278.7 488.3,278.3 488.5,277.0 488.6,278.3 488.8,280.0 488.9,277.6 489.0,278.5 489.2,278.6 489.3,277.7 489.5,278.1 489.6,278.3 489.7,278.8 489.9,279.4 490.0,278.0 490.2,278.5 490.3,278.6 490.4,278.3 490.6,278.9 490.7,279.7 490.9,277.9 491.0,278.1 491.1,276.6 491.3,276.3 491.4,278.5 491.6,277.7 491.7,277.8 491.8,280.8 492.0,278.0 492.1,278.2 492.3,277.7 492.4,278.9 492.5,277.2 492.7,277.4 492.8,277.7 493.0,279.4 493.1,277.3 493.2,278.1 493.4,277.2 493.5,277.5 493.7,276.1 493.8,277.9 493.9,277.0 494.1,276.4 494.2,277.4 494.4,275.4 494.5,275.4 494.6,276.2 494.8,276.6 494.9,276.9 495.1,274.2 495.2,274.2 495.3,273.0 495.5,271.7 495.6,273.3 495.8,269.7 495.9,269.3 496.0,265.9 496.2,264.2 496.3,260.5 496.5,259.4 496.6,254.2 496.7,253.4 496.9,250.0 497.0,247.7 497.2,243.6 497.3,241.5 497.4,238.9 497.6,239.2 497.7,239.1 497.9,241.5 498.0,243.2 498.1,246.3 498.3,248.2 498.4,250.4 498.6,251.9 498.7,252.9 498.8,252.0 499.0,252.0 499.1,254.0 499.3,250.7 499.4,253.5 499.5,253.5 499.7,254.6 499.8,257.0 500.0,258.0 500.1,259.9 500.2,263.6 500.4,266.5 500.5,267.8 500.7,269.7 500.8,269.8 500.9,271.8 501.1,270.7 501.2,272.5 501.4,273.6 501.5,274.4 501.6,275.0 501.8,277.2 501.9,276.5 502.1,274.7 502.2,278.3 502.3,276.3 502.5,277.4 502.6,275.4 502.8,278.4 502.9,277.0 503.0,277.6 503.2,277.7 503.3,277.3 503.5,277.3 503.6,276.8 503.7,276.9 503.9,278.5 504.0,278.2 504.2,278.4 504.3,279.4 504.4,276.1 504.6,277.3 504.7,278.9 504.9,279.3 505.0,278.3 505.1,279.4 505.3,279.6 505.4,279.9 505.6,279.1 505.7,280.0 505.8,279.1 506.0,277.9 506.1,278.0 506.3,278.7 506.4,278.9 506.5,277.4 506.7,281.3 506.8,278.2 507.0,279.5 507.1,277.7 507.2,276.2 507.4,278.5 507.5,281.5 507.7,278.1 507.8,276.4 507.9,278.9 508.1,280.7 508.2,279.3 508.4,278.8 508.5,278.0 508.6,279.3 508.8,279.0 508.9,281.6 509.1,279.1 509.2,278.3 509.3,279.7 509.5,280.5 509.6,280.0 509.8,279.1 509.9,280.7 510.0,279.0 510.2,278.6 510.3,278.5 510.5,278.0 510.6,281.5 510.7,279.8 510.9,281.2 511.0,279.4 511.2,278.9 511.3,279.1 511.4,278.8 511.6,278.0 511.7,278.8 511.9,277.7 512.0,279.7 512.1,278.1 512.3,278.9 512.4,279.1 512.6,279.5 512.7,278.7 512.8,279.9 513.0,278.5 513.1,281.5 513.3,281.3 513.4,278.1 513.5,279.3 513.7,278.7 513.8,278.6 514.0,279.0 514.1,279.6 514.2,280.7 514.4,280.9 514.5,279.2 514.7,278.9 514.8,279.7 514.9,280.5 515.1,279.6 515.2,280.5 515.4,276.6 515.5,278.5 515.6,277.5 515.8,280.2 515.9,278.8 516.1,279.4 516.2,279.2 516.3,279.3 516.5,279.0 516.6,278.3 516.8,279.2 516.9,278.2 517.0,278.9 517.2,277.2 517.3,279.0 517.5,279.0 517.6,281.7 517.7,280.7 517.9,279.5 518.0,279.3 518.2,280.2 518.3,281.4 518.4,280.1 518.6,280.1 518.7,279.2 518.9,279.6 519.0,279.0 519.1,279.0 519.3,279.3 519.4,279.5 519.6,278.5 519.7,278.8 519.8,279.0 520.0,279.4 520.1,277.2 520.3,279.1 520.4,280.4 520.5,279.0 520.7,279.7 520.8,279.0 521.0,280.1 521.1,278.8 521.2,279.4 521.4,278.7 521.5,278.4 521.7,279.4 521.8,279.5 521.9,280.1 522.1,278.4 522.2,278.4 522.4,279.8 522.5,276.7 522.6,278.9 522.8,278.9 522.9,278.4 523.1,278.1 523.2,279.5 523.3,278.9 523.5,281.8 523.6,279.3 523.8,278.8 523.9,279.0 524.0,279.2 524.2,280.1 524.3,279.4 524.5,278.0 524.6,279.7 524.7,278.6 524.9,278.2 525.0,279.6 525.2,279.1 525.3,279.1 525.4,280.3 525.6,277.4 525.7,278.9 525.9,278.6 526.0,277.5 526.1,279.7 526.3,279.5 526.4,279.0 526.6,278.7 526.7,279.2 526.8,278.3 527.0,279.8 527.1,277.3 527.3,279.4 527.4,279.2 527.5,278.7 527.7,278.1 527.8,279.1 528.0,279.4 528.1,279.0 528.2,279.7 528.4,277.7 528.5,279.1 528.7,279.5 528.8,278.0 528.9,278.8 529.1,279.4 529.2,279.4 529.4,279.4 529.5,278.8 529.6,279.2 529.8,278.5 529.9,278.5 530.1,278.3 530.2,281.6 530.3,276.5 530.5,279.9 530.6,278.8 530.8,278.8 530.9,279.7 531.0,278.9 531.2,278.9 531.3,279.0 531.5,278.5 531.6,279.0 531.7,279.7 531.9,276.7 532.0,278.6 532.2,278.0 532.3,277.8 532.4,280.0 532.6,279.3 532.7,281.6 532.9,279.7 533.0,278.2 533.1,278.4 533.3,279.4 533.4,279.0 533.6,278.5 533.7,278.9 533.8,278.5 534.0,280.4 534.1,279.0 534.3,277.9 534.4,278.4 534.5,279.0 534.7,279.9 534.8,279.9 535.0,279.2 535.1,278.7 535.2,278.1 535.4,276.9 535.5,279.7 535.7,279.2 535.8,278.9 535.9,278.8 536.1,279.1 536.2,278.9 536.4,276.5 536.5,279.1 536.6,279.1 536.8,278.3 536.9,278.8 537.1,280.8 537.2,279.2 537.3,279.2 537.5,278.7 537.6,278.7 537.8,280.0 537.9,280.3 538.0,279.2 538.2,279.3 538.3,279.2 538.5,278.8 538.6,277.8 538.7,278.9 538.9,278.8 539.0,279.2 539.2,278.9"/><polyline stroke="#0000f0" points="35.3,336.1 35.4,336.9 35.6,338.2 35.7,337.7 35.9,336.4 36.0,337.6 36.1,337.7 36.3,337.0 36.4,338.4 36.6,336.8 36.7,337.8 36.8,338.1 37.0,338.0 37.1,338.3 37.3,338.7 37.4,340.1 37.5,337.9 37.7,338.7 37.8,338.8 38.0,338.1 38.1,336.0 38.2,340.8 38.4,338.3 38.5,338.4 38.7,339.9 38.8,339.0 38.9,338.9 39.1,339.6 39.2,337.0 39.4,339.5 39.5,338.9 39.6,337.9 39.8,339.5 39.9,340.8 40.1,338.7 40.2,339.7 40.3,339.1 40.5,340.0 40.6,340.0 40.8,339.0 40.9,340.5 41.0,340.0 41.2,340.2 41.3,340.6 41.5,339.8 41.6,340.5 41.7,341.1 41.9,338.9 42.0,341.0 42.2,340.0 42.3,340.2 42.4,339.4 42.6,340.7 42.7,340.0 42.9,341.5 43.0,340.1 43.1,340.7 43.3,340.5 43.4,340.9 43.6,340.1 43.7,340.0 43.8,341.4 44.0,341.4 44.1,341.1 44.3,342.4 44.4,340.4 44.5,342.0 44.7,340.4 44.8,343.2 45.0,341.5 45.1,341.5 45.2,343.5 45.4,342.1 45.5,342.1 45.7,339.9 45.8,341.4 45.9,340.3 46.1,341.0 46.2,341.1 46.4,342.7 46.5,340.8 46.6,341.5 46.8,341.9 46.9,342.9 47.1,344.0 47.2,342.5 47.3,341.5 47.5,342.3 47.6,342.7 47.8,340.7 47.9,342.7 48.0,342.2 48.2,342.6 48.3,342.8 48.5,342.9 48.6,342.7 48.7,342.8 48.9,342.1 49.0,342.8 49.2,341.8 49.3,342.9 49.4,343.0 49.6,343.6 49.7,342.9 49.9,340.7 50.0,343.2 50.1,342.6 50.3,343.8 50.4,343.1 50.6,343.2 50.7,344.7 50.8,343.3 51.0,343.3 51.1,343.3 51.3,343.6 51.4,342.4 51.5,343.8 51.7,345.2 51.8,343.9 52.0,344.4 52.1,345.6 52.2,344.8 52.4,344.5 52.5,344.8 52.7,344.9 52.8,343.7 52.9,344.2 53.1,344.0 53.2,343.8 53.4,344.5 53.5,344.1 53.6,344.7 53.8,344.7 53.9,343.4 54.1,344.5 54.2,344.5 54.3,345.1 54.5,343.5 54.6,344.0 54.8,344.9 54.9,344.8 55.0,345.3 55.2,344.7 55.3,344.4 55.5,346.6 55.6,344.6 55.7,344.3 55.9,344.8 56.0,345.0 56.2,344.7 56.3,345.4 56.4,346.9 56.6,344.4 56.7,345.4 56.9,345.9 57.0,346.7 57.1,348.2 57.3,344.8 57.4,345.8 57.6,346.8 57.7,344.1 57.8,346.0 58.0,345.1 58.1,346.5 58.3,347.5 58.4,346.1 58.5,343.5 58.7,344.6 58.8,346.0 59.0,347.1 59.1,345.7 59.2,346.6 59.4,346.2 59.5,345.9 59.7,346.8 59.8,346.1 59.9,346.2 60.1,347.1 60.2,346.5 60.4,347.2 60.5,346.6 60.6,345.8 60.8,346.6 60.9,347.8 61.1,346.9 61.2,348.8 61.3,344.3 61.5,346.6 61.6,347.5 61.8,347.3 61.9,347.1 62.0,347.3 62.2,348.1 62.3,347.5 62.5,347.2 62.6,347.3 62.7,347.5 62.9,346.9 63.0,347.6 63.2,347.5 63.3,348.0 63.4,347.4 63.6,345.3 63.7,347.5 63.9,348.4 64.0,347.8 64.1,347.8 64.3,347.4 64.4,347.4 64.6,348.1 64.7,346.4 64.8,348.7 65.0,348.8 65.1,349.8 65.3,346.9 65.4,346.8 65.5,349.1 65.7,347.8 65.8,347.6 66.0,347.8 66.1,348.4 66.2,347.3 66.4,348.1 66.5,348.5 66.7,348.6 66.8,345.6 66.9,349.0 67.1,348.2 67.2,348.2 67.4,348.5 67.5,348.0 67.6,349.5 67.8,347.8 67.9,348.6 68.1,347.7 68.2,348.8 68.3,349.8 68.5,349.7 68.6,347.7 68.8,348.9 68.9,349.9 69.0,348.1 69.2,348.7 69.3,349.2 69.5,349.3 69.6,348.8 69.7,349.2 69.9,349.3 70.0,348.7 70.2,349.3 70.3,349.2 70.4,349.4 70.6,349.1 70.7,348.8 70.9,349.1 71.0,350.6 71.1,348.5 71.3,348.3 71.4,346.7 71.6,350.2 71.7,351.9 71.8,348.8 72.0,348.9 72.1,348.7 72.3,349.5 72.4,349.3 72.5,350.1 72.7,348.5 72.8,350.0 73.0,348.6 73.1,348.9 73.2,348.3 73.4,348.4 73.5,346.8 73.7,347.0 73.8,347.3 73.9,347.0 74.1,348.3 74.2,350.3 74.4,350.5 74.5,347.2 74.6,350.0 74.8,349.6 74.9,349.0 75.1,349.1 75.2,350.7 75.3,352.0 75.5,350.2 75.6,350.0 75.8,350.2 75.9,351.1 76.0,350.8 76.2,348.8 76.3,349.7 76.5,351.4 76.6,350.4 76.7,350.7 76.9,351.1 77.0,350.7 77.2,351.0 77.3,350.6 77.4,350.0 77.6,349.9 77.7,353.3 77.9,348.1 78.0,351.1 78.1,351.8 78.3,350.2 78.4,349.1 78.6,350.7 78.7,350.6 78.8,350.8 79.0,350.8 79.1,352.5 79.3,349.9 79.4,352.6 79.5,349.3 79.7,352.6 79.8,350.8 80.0,351.6 80.1,348.5 80.2,351.1 80.4,351.5 80.5,351.5 80.7,352.0 80.8,350.4 80.9,351.2 81.1,351.5 81.2,349.3 81.4,352.2 81.5,351.3 81.6,350.9 81.8,350.9 81.9,351.8 82.1,349.8 82.2,351.0 82.3,351.2 82.5,351.1 82.6,352.1 82.8,351.8 82.9,352.9 83.0,352.1 83.2,351.4 83.3,351.5 83.5,350.8 83.6,351.3 83.7,352.0 83.9,352.3 84.0,351.5 84.2,351.7 84.3,352.7 84.4,353.8 84.6,350.7 84.7,350.6 84.9,352.6 85.0,352.1 85.1,352.0 85.3,352.4 85.4,352.7 85.6,350.7 85.7,354.1 85.8,354.1 86.0,352.1 86.1,352.3 86.3,351.9 86.4,352.5 86.5,351.7 86.7,352.5 86.8,353.7 87.0,352.5 87.1,353.3 87.2,351.8 87.4,353.6 87.5,351.5 87.7,352.0 87.8,353.1 87.9,352.3 88.1,351.6 88.2,351.4 88.4,353.4 88.5,350.4 88.6,351.2 88.8,354.4 88.9,353.4 89.1,352.6 89.2,352.2 89.3,353.9 89.5,353.6 89.6,353.3 89.8,353.0 89.9,353.1 90.0,355.3 90.2,353.1 90.3,351.8 90.5,351.7 90.6,353.3 90.7,353.6 90.9,353.4 91.0,353.7 91.2,352.9 91.3,353.0 91.4,352.8 91.6,353.1 91.7,352.9 91.9,354.2 92.0,352.5 92.1,352.8 92.3,353.9 92.4,353.3 92.6,353.2 92.7,355.7 92.8,354.7 93.0,353.0 93.1,352.7 93.3,353.6 93.4,353.8 93.5,353.4 93.7,353.8 93.8,354.1 94.0,354.5 94.1,353.2 94.2,354.1 94.4,352.2 94.5,352.3 94.7,352.2 94.8,352.8 94.9,354.5 95.1,353.7 95.2,354.0 95.4,353.9 95.5,353.4 95.6,352.3 95.8,353.3 95.9,355.0 96.1,353.8 96.2,354.0 96.3,353.7 96.5,354.7 96.6,354.6 96.8,354.0 96.9,354.3 97.0,354.1 97.2,354.4 97.3,354.5 97.5,354.5 97.6,355.6 97.7,356.1 97.9,352.8 98.0,354.3 98.2,352.6 98.3,354.3 98.4,355.2 98.6,354.9 98.7,354.7 98.9,353.3 99.0,355.4 99.1,354.8 99.3,354.3 99.4,355.3 99.6,352.8 99.7,354.0 99.8,355.4 100.0,353.0 100.1,353.8 100.3,354.9 100.4,355.3 100.5,355.0 100.7,353.0 100.8,354.5 101.0,355.4 101.1,354.7 101.2,354.3 101.4,352.4 101.5,354.6 101.7,356.6 101.8,353.4 101.9,355.2 102.1,356.4 102.2,355.6 102.4,354.8 102.5,355.5 102.6,354.2 102.8,355.3 102.9,354.8 103.1,356.4 103.2,356.3 103.3,355.9 103.5,355.2 103.6,356.1 103.8,357.8 103.9,355.2 104.0,355.5 104.2,354.7 104.3,354.4 104.5,356.0 104.6,354.0 104.7,355.8 104.9,354.5 105.0,355.9 105.2,356.2 105.3,357.3 105.4,355.5 105.6,355.5 105.7,355.6 105.9,356.2 106.0,356.4 106.1,354.7 106.3,355.5 106.4,354.2 106.6,355.3 106.7,356.4 106.8,357.5 107.0,358.4 107.1,354.5 107.3,355.8 107.4,357.0 107.5,356.1 107.7,355.8 107.8,356.7 108.0,357.1 108.1,355.2 108.2,356.2 108.4,355.3 108.5,355.4 108.7,356.3 108.8,355.7 108.9,357.0 109.1,356.1 109.2,355.6 109.4,356.6 109.5,355.9 109.6,354.9 109.8,359.0 109.9,355.7 110.1,355.5 110.2,356.4 110.3,353.9 110.5,357.2 110.6,355.1 110.8,354.7 110.9,358.6 111.0,356.6 111.2,358.1 111.3,357.8 111.5,357.1 111.6,354.6 111.7,357.0 111.9,355.2 112.0,354.2 112.2,357.7 112.3,356.4 112.4,357.3 112.6,356.9 112.7,357.5 112.9,357.1 113.0,359.1 113.1,356.9 113.3,357.9 113.4,357.8 113.6,357.1 113.7,357.0 113.8,356.9 114.0,357.3 114.1,356.4 114.3,357.0 114.4,357.4 114.5,356.8 114.7,356.6 114.8,356.1 115.0,357.9 115.1,358.3 115.2,358.1 115.4,357.7 115.5,357.5 115.7,355.7 115.8,358.4 115.9,357.3 116.1,357.7 116.2,356.3 116.4,357.9 116.5,356.5 116.6,359.3 116.8,357.9 116.9,357.5 117.1,357.8 117.2,357.0 117.3,357.5 117.5,356.3 117.6,357.1 117.8,357.2 117.9,356.8 118.0,357.5 118.2,356.1 118.3,355.5 118.5,357.4 118.6,360.3 118.7,358.1 118.9,357.6 119.0,357.0 119.2,356.7 119.3,357.6 119.4,358.0 119.6,358.6 119.7,357.7 119.9,358.7 120.0,358.5 120.1,358.7 120.3,357.5 120.4,357.8 120.6,357.0 120.7,358.0 120.8,356.0 121.0,357.8 121.1,357.0 121.3,357.8 121.4,357.1 121.5,355.2 121.7,357.7 121.8,357.7 122.0,357.8 122.1,356.6 122.2,357.4 122.4,356.6 122.5,355.1 122.7,355.4 122.8,354.9 122.9,353.2 123.1,353.3 123.2,353.3 123.4,350.4 123.5,353.3 123.6,354.5 123.8,356.1 123.9,356.7 124.1,357.4 124.2,356.2 124.3,357.4 124.5,357.1 124.6,358.5 124.8,358.4 124.9,357.7 125.0,359.2 125.2,357.2 125.3,355.7 125.5,358.0 125.6,358.5 125.7,359.9 125.9,358.2 126.0,357.3 126.2,358.4 126.3,355.8 126.4,359.0 126.6,358.0 126.7,357.1 126.9,357.4 127.0,359.1 127.1,359.6 127.3,357.6 127.4,361.0 127.6,359.3 127.7,358.1 127.8,356.7 128.0,357.5 128.1,358.3 128.3,357.8 128.4,357.7 128.5,358.0 128.7,359.5 128.8,356.5 129.0,359.8 129.1,358.4 129.2,359.0 129.4,358.5 129.5,360.1 129.7,357.8 129.8,358.0 129.9,358.5 130.1,358.5 130.2,358.2 130.4,358.2 130.5,357.3 130.6,358.6 130.8,359.4 130.9,359.6 131.1,358.5 131.2,361.0 131.3,360.6 131.5,358.3 131.6,357.6 131.8,359.5 131.9,360.2 132.0,358.9 132.2,360.6 132.3,358.6 132.5,358.7 132.6,357.3 132.7,358.5 132.9,360.1 133.0,357.6 133.2,357.8 133.3,356.7 133.4,358.7 133.6,358.9 133.7,358.8 133.9,359.8 134.0,359.1 134.1,359.0 134.3,359.0 134.4,358.8 134.6,357.4 134.7,357.6 134.8,359.1 135.0,358.2 135.1,358.7 135.3,359.1 135.4,359.1 135.5,358.4 135.7,358.5 135.8,358.0 136.0,359.2 136.1,359.4 136.2,358.0 136.4,358.5 136.5,358.1 136.7,359.2 136.8,358.6 136.9,360.0 137.1,358.6 137.2,359.3 137.4,359.3 137.5,360.6 137.6,359.5 137.8,360.6 137.9,359.2 138.1,356.5 138.2,358.8 138.3,359.6 138.5,358.8 138.6,359.4 138.8,358.1 138.9,359.4 139.0,359.0 139.2,360.8 139.3,357.7 139.5,359.0 139.6,359.8 139.7,359.0 139.9,359.2 140.0,358.9 140.2,358.0 140.3,358.9 140.4,360.3 140.6,359.8 140.7,358.9 140.9,359.6 141.0,360.0 141.1,360.0 141.3,357.7 141.4,358.5 141.6,361.2 141.7,358.9 141.8,360.0 142.0,359.6 142.1,360.4 142.3,358.0 142.4,360.9 142.5,360.4 142.7,358.9 142.8,359.8 143.0,356.8 143.1,360.4 143.2,359.3 143.4,359.9 143.5,360.1 143.7,357.3 143.8,360.5 143.9,358.3 144.1,358.6 144.2,359.4 144.4,359.0 144.5,359.7 144.6,358.8 144.8,359.7 144.9,360.0 145.1,361.3 145.2,359.2 145.3,358.8 145.5,359.2 145.6,358.9 145.8,359.5 145.9,357.4 146.0,356.0 146.2,354.5 146.3,354.3 146.5,353.5 146.6,352.0 146.7,353.9 146.9,354.7 147.0,356.7 147.2,357.5 147.3,357.6 147.4,359.0 147.6,359.6 147.7,359.2 147.9,360.4 148.0,358.5 148.1,358.1 148.3,360.1 148.4,359.8 148.6,360.3 148.7,361.3 148.8,359.8 149.0,360.6 149.1,360.1 149.3,359.9 149.4,359.9 149.5,362.5 149.7,359.6 149.8,359.8 150.0,359.9 150.1,360.2 150.2,358.4 150.4,360.2 150.5,358.1 150.7,359.8 150.8,359.9 150.9,360.1 151.1,360.1 151.2,360.2 151.4,357.8 151.5,359.7 151.6,360.5 151.8,359.9 151.9,360.9 152.1,360.2 152.2,360.2 152.3,360.4 152.5,362.6 152.6,357.5 152.8,359.1 152.9,358.9 153.0,359.5 153.2,357.8 153.3,362.8 153.5,359.3 153.6,360.1 153.7,361.3 153.9,360.2 154.0,359.7 154.2,359.8 154.3,360.1 154.4,359.9 154.6,360.2 154.7,360.1 154.9,358.9 155.0,361.3 155.1,362.3 155.3,360.4 155.4,359.0 155.6,361.5 155.7,360.0 155.8,360.1 156.0,359.8 156.1,361.7 156.3,360.7 156.4,359.9 156.5,360.1 156.7,360.2 156.8,360.1 157.0,360.6 157.1,362.0 157.2,358.5 157.4,361.2 157.5,361.2 157.7,359.7 157.8,362.6 157.9,361.4 158.1,360.8 158.2,359.2 158.4,360.2 158.5,360.9 158.6,360.4 158.8,358.7 158.9,360.9 159.1,360.2 159.2,359.7 159.3,360.1 159.5,359.2 159.6,360.1 159.8,357.8 159.9,362.9 160.0,359.4 160.2,360.0 160.3,359.9 160.5,360.3 160.6,360.0 160.7,361.4 160.9,359.6 161.0,362.9 161.2,360.1 161.3,362.8 161.4,360.0 161.6,358.9 161.7,361.1 161.9,359.4 162.0,360.8 162.1,361.3 162.3,359.7 162.4,359.9 162.6,360.4 162.7,361.3 162.8,361.2 163.0,360.2 163.1,360.4 163.3,360.9 163.4,359.4 163.5,361.7 163.7,361.2 163.8,359.7 164.0,360.5 164.1,360.7 164.2,360.5 164.4,358.8 164.5,358.7 164.7,359.7 164.8,359.1 164.9,360.2 165.1,360.7 165.2,360.4 165.4,361.4 165.5,360.1 165.6,359.9 165.8,358.7 165.9,361.1 166.1,358.9 166.2,359.9 166.3,357.7 166.5,353.4 166.6,353.5 166.8,352.6 166.9,353.4 167.0,352.1 167.2,355.7 167.3,357.0 167.5,357.9 167.6,358.0 167.7,360.0 167.9,358.3 168.0,359.9 168.2,358.2 168.3,360.0 168.4,359.9 168.6,360.6 168.7,360.7 168.9,360.8 169.0,360.2 169.1,360.9 169.3,360.6 169.4,360.3 169.6,360.8 169.7,362.3 169.8,360.1 170.0,361.9 170.1,360.2 170.3,359.7 170.4,359.7 170.5,359.9 170.7,359.2 170.8,360.8 171.0,359.1 171.1,359.4 171.2,360.0 171.4,359.7 171.5,359.0 171.7,358.9 171.8,358.9 171.9,358.3 172.1,357.8 172.2,358.9 172.4,356.6 172.5,356.2 172.6,356.6 172.8,356.1 172.9,358.5 173.1,356.0 173.2,356.7 173.3,355.3 173.5,354.2 173.6,355.4 173.8,355.0 173.9,352.3 174.0,353.4 174.2,352.3 174.3,350.8 174.5,350.5 174.6,350.5 174.7,348.4 174.9,348.4 175.0,347.2 175.2,346.1 175.3,344.0 175.4,344.1 175.6,341.9 175.7,340.4 175.9,338.3 176.0,335.5 176.1,333.8 176.3,330.3 176.4,328.6 176.6,323.3 176.7,318.2 176.8,313.6 177.0,307.1 177.1,301.4 177.3,289.9 177.4,280.0 177.5,262.5 177.7,246.4 177.8,225.7 178.0,200.6 178.1,169.3 178.2,132.5 178.4,91.1 178.5,47.3 178.7,1.1 178.8,-37.0 178.9,-65.9 179.1,-78.0 179.2,-74.2 179.4,-57.6 179.5,-29.7 179.6,7.0 179.8,48.0 179.9,89.3 180.1,130.3 180.2,166.5 180.3,197.0 180.5,225.1 180.6,246.5 180.8,263.3 180.9,277.8 181.0,288.6 181.2,299.1 181.3,304.8 181.5,310.6 181.6,316.9 181.7,322.7 181.9,327.4 182.0,328.2 182.2,333.0 182.3,335.9 182.4,338.9 182.6,340.1 182.7,341.3 182.9,342.1 183.0,344.8 183.1,346.8 183.3,348.1 183.4,348.5 183.6,348.5 183.7,348.8 183.8,349.2 184.0,351.3 184.1,352.4 184.3,352.1 184.4,353.8 184.5,353.8 184.7,355.2 184.8,355.1 185.0,356.1 185.1,355.4 185.2,356.4 185.4,357.7 185.5,354.4 185.7,358.7 185.8,357.6 185.9,360.4 186.1,357.6 186.2,358.2 186.4,358.8 186.5,358.8 186.6,359.0 186.8,359.9 186.9,358.2 187.1,359.6 187.2,359.2 187.3,360.7 187.5,361.2 187.6,359.5 187.8,359.4 187.9,360.9 188.0,361.4 188.2,360.4 188.3,361.1 188.5,361.5 188.6,359.9 188.7,359.7 188.9,358.3 189.0,359.8 189.2,359.3 189.3,360.4 189.4,360.1 189.6,361.4 189.7,360.2 189.9,359.3 190.0,359.6 190.1,359.8 190.3,359.8 190.4,361.3 190.6,359.9 190.7,359.4 190.8,359.2 191.0,359.7 191.1,358.3 191.3,359.5 191.4,360.7 191.5,360.8 191.7,359.5 191.8,359.4 192.0,359.0 192.1,359.5 192.2,359.2 192.4,359.5 192.5,361.0 192.7,359.7 192.8,358.2 192.9,358.3 193.1,359.5 193.2,361.3 193.4,359.2 193.5,359.9 193.6,358.6 193.8,358.5 193.9,361.5 194.1,360.1 194.2,359.0 194.3,359.8 194.5,359.3 194.6,359.7 194.8,359.3 194.9,359.5 195.0,360.8 195.2,359.1 195.3,359.7 195.5,361.1 195.6,357.4 195.7,358.7 195.9,359.0 196.0,359.4 196.2,359.2 196.3,360.9 196.4,358.6 196.6,359.0 196.7,358.0 196.9,358.6 197.0,359.5 197.1,357.7 197.3,361.0 197.4,359.9 197.6,358.1 197.7,360.1 197.8,358.4 198.0,359.5 198.1,358.8 198.3,358.7 198.4,359.5 198.5,360.5 198.7,358.1 198.8,358.8 199.0,359.5 199.1,361.3 199.2,359.3 199.4,360.5 199.5,359.6 199.7,359.4 199.8,360.1 199.9,358.8 200.1,359.6 200.2,357.5 200.4,359.6 200.5,362.1 200.6,358.1 200.8,358.3 200.9,359.6 201.1,361.0 201.2,359.6 201.3,361.4 201.5,359.2 201.6,362.1 201.8,358.9 201.9,360.1 202.0,359.2 202.2,360.3 202.3,357.5 202.5,359.1 202.6,360.8 202.7,360.0 202.9,359.4 203.0,359.2 203.2,361.0 203.3,358.6 203.4,358.5 203.6,357.5 203.7,359.1 203.9,359.6 204.0,356.6 204.1,357.1 204.3,355.9 204.4,353.3 204.6,353.0 204.7,352.6 204.8,351.3 205.0,355.6 205.1,354.3 205.3,355.6 205.4,357.9 205.5,358.2 205.7,359.3 205.8,359.2 206.0,357.9 206.1,359.1 206.2,361.5 206.4,358.9 206.5,358.5 206.7,360.3 206.8,357.9 206.9,359.1 207.1,361.8 207.2,360.2 207.4,358.2 207.5,357.9 207.6,359.2 207.8,359.5 207.9,359.9 208.1,358.5 208.2,359.0 208.3,359.0 208.5,358.7 208.6,359.4 208.8,359.1 208.9,358.9 209.0,359.5 209.2,358.6 209.3,359.1 209.5,359.6 209.6,358.7 209.7,357.0 209.9,356.5 210.0,359.8 210.2,359.9 210.3,359.7 210.4,357.1 210.6,358.9 210.7,361.2 210.9,359.7 211.0,359.5 211.1,361.9 211.3,361.9 211.4,359.4 211.6,360.4 211.7,360.8 211.8,361.0 212.0,361.5 212.1,360.7 212.3,358.8 212.4,359.9 212.5,359.6 212.7,360.5 212.8,360.3 213.0,362.3 213.1,359.6 213.2,359.0 213.4,357.8 213.5,359.1 213.7,360.7 213.8,359.6 213.9,358.6 214.1,358.9 214.2,358.8 214.4,357.9 214.5,355.4 214.6,357.7 214.8,357.0 214.9,355.0 215.1,355.8 215.2,354.3 215.3,354.3 215.5,354.2 215.6,353.0 215.8,351.5 215.9,351.2 216.0,348.8 216.2,348.1 216.3,345.6 216.5,344.0 216.6,341.2 216.7,338.1 216.9,334.9 217.0,329.9 217.2,325.7 217.3,315.6 217.4,310.2 217.6,297.9 217.7,284.8 217.9,269.7 218.0,256.8 218.1,241.4 218.3,225.8 218.4,212.1 218.6,200.2 218.7,193.4 218.8,190.6 219.0,192.9 219.1,200.8 219.3,208.3 219.4,219.1 219.5,233.9 219.7,248.5 219.8,263.5 220.0,276.5 220.1,290.8 220.2,300.0 220.4,309.7 220.5,317.0 220.7,325.7 220.8,331.0 220.9,336.1 221.1,337.4 221.2,340.8 221.4,344.9 221.5,346.7 221.6,346.3 221.8,348.8 221.9,348.5 222.1,352.0 222.2,353.0 222.3,354.5 222.5,354.4 222.6,354.2 222.8,354.7 222.9,355.7 223.0,355.8 223.2,358.2 223.3,356.6 223.5,357.0 223.6,359.6 223.7,357.1 223.9,357.6 224.0,356.7 224.2,359.8 224.3,358.6 224.4,358.6 224.6,360.0 224.7,360.3 224.9,358.5 225.0,358.3 225.1,360.5 225.3,361.4 225.4,359.7 225.6,360.2 225.7,357.4 225.8,359.9 226.0,358.6 226.1,359.1 226.3,358.5 226.4,360.2 226.5,360.3 226.7,360.2 226.8,360.7 227.0,359.0 227.1,359.8 227.2,359.6 227.4,360.4 227.5,361.1 227.7,359.7 227.8,361.7 227.9,360.2 228.1,359.8 228.2,360.0 228.4,361.1 228.5,357.9 228.6,360.4 228.8,360.1 228.9,360.6 229.1,360.3 229.2,359.3 229.3,359.6 229.5,362.4 229.6,360.6 229.8,361.9 229.9,362.3 230.0,360.7 230.2,361.8 230.3,360.4 230.5,360.1 230.6,361.2 230.7,360.2 230.9,360.0 231.0,360.5 231.2,360.3 231.3,362.3 231.4,361.7 231.6,360.9 231.7,361.7 231.9,360.0 232.0,360.0 232.1,360.2 232.3,360.7 232.4,358.3 232.6,359.3 232.7,360.0 232.8,359.3 233.0,360.0 233.1,359.3 233.3,360.1 233.4,360.4 233.5,360.6 233.7,361.2 233.8,360.1 234.0,360.3 234.1,361.5 234.2,358.0 234.4,360.5 234.5,359.4 234.7,357.9 234.8,361.6 234.9,360.8 235.1,360.4 235.2,361.2 235.4,362.3 235.5,360.6 235.6,360.4 235.8,357.9 235.9,362.1 236.1,361.1 236.2,359.3 236.3,360.4 236.5,359.9 236.6,362.1 236.8,360.1 236.9,359.5 237.0,361.7 237.2,360.1 237.3,359.5 237.5,358.9 237.6,359.7 237.7,360.4 237.9,360.0 238.0,360.8 238.2,361.6 238.3,359.6 238.4,358.6 238.6,361.1 238.7,360.8 238.9,361.5 239.0,359.5 239.1,360.9 239.3,360.1 239.4,359.8 239.6,360.4 239.7,361.5 239.8,361.3 240.0,361.5 240.1,360.1 240.3,360.6 240.4,359.9 240.5,360.1 240.7,361.5 240.8,359.5 241.0,362.0 241.1,362.6 241.2,360.6 241.4,360.9 241.5,362.7 241.7,361.2 241.8,361.4 241.9,361.3 242.1,359.2 242.2,361.4 242.4,361.2 242.5,360.5 242.6,359.0 242.8,360.6 242.9,361.0 243.1,360.7 243.2,361.0 243.3,360.8 243.5,361.3 243.6,362.5 243.8,358.4 243.9,361.2 244.0,361.7 244.2,358.8 244.3,361.0 244.5,361.8 244.6,361.4 244.7,360.9 244.9,360.8 245.0,359.1 245.2,361.1 245.3,361.9 245.4,362.0 245.6,361.6 245.7,361.2 245.9,360.7 246.0,360.8 246.1,360.5 246.3,361.0 246.4,358.7 246.6,361.3 246.7,362.0 246.8,361.1 247.0,362.3 247.1,361.5 247.3,362.0 247.4,364.0 247.5,360.3 247.7,361.3 247.8,360.7 248.0,360.5 248.1,362.0 248.2,359.0 248.4,361.7 248.5,362.9 248.7,361.5 248.8,362.0 248.9,360.7 249.1,362.2 249.2,362.3 249.4,361.8 249.5,363.0 249.6,361.8 249.8,361.9 249.9,359.3 250.1,362.6 250.2,361.5 250.3,362.2 250.5,361.8 250.6,361.0 250.8,361.9 250.9,363.4 251.0,362.2 251.2,360.8 251.3,362.0 251.5,363.2 251.6,359.8 251.7,359.4 251.9,362.8 252.0,362.2 252.2,362.6 252.3,361.7 252.4,362.2 252.6,361.2 252.7,361.0 252.9,362.2 253.0,363.0 253.1,362.2 253.3,359.7 253.4,359.6 253.6,362.7 253.7,362.0 253.8,361.5 254.0,361.8 254.1,363.6 254.3,362.2 254.4,361.3 254.5,361.5 254.7,360.8 254.8,364.0 255.0,362.3 255.1,362.3 255.2,360.8 255.4,361.9 255.5,363.1 255.7,363.2 255.8,362.3 255.9,362.0 256.1,364.2 256.2,362.1 256.4,362.0 256.5,361.5 256.6,362.4 256.8,363.3 256.9,362.5 257.1,363.2 257.2,362.1 257.3,362.8 257.5,361.7 257.6,362.4 257.8,362.1 257.9,362.1 258.0,363.0 258.2,361.9 258.3,362.5 258.5,362.3 258.6,363.6 258.7,361.9 258.9,362.2 259.0,362.9 259.2,362.1 259.3,363.0 259.4,364.9 259.6,362.3 259.7,362.6 259.9,360.2 260.0,363.2 260.1,362.3 260.3,362.7 260.4,361.9 260.6,362.8 260.7,362.5 260.8,365.1 261.0,364.2 261.1,362.6 261.3,361.7 261.4,362.1 261.5,362.6 261.7,363.2 261.8,363.7 262.0,363.6 262.1,363.1 262.2,362.5 262.4,362.7 262.5,362.0 262.7,362.6 262.8,362.3 262.9,362.6 263.1,360.6 263.2,361.3 263.4,362.8 263.5,362.4 263.6,362.0 263.8,364.6 263.9,360.1 264.1,364.1 264.2,363.4 264.3,360.0 264.5,363.6 264.6,363.0 264.8,362.0 264.9,362.9 265.0,364.1 265.2,361.0 265.3,362.2 265.5,361.6 265.6,363.6 265.7,361.5 265.9,361.4 266.0,361.3 266.2,363.4 266.3,361.9 266.4,364.6 266.6,360.6 266.7,362.5 266.9,361.6 267.0,361.8 267.1,361.8 267.3,362.7 267.4,362.0 267.6,362.3 267.7,363.5 267.8,362.8 268.0,360.0 268.1,362.1 268.3,362.8 268.4,362.2 268.5,361.3 268.7,361.4 268.8,362.3 269.0,362.8 269.1,362.5 269.2,362.0 269.4,361.7 269.5,362.2 269.7,363.6 269.8,361.2 269.9,361.2 270.1,361.3 270.2,362.7 270.4,360.4 270.5,362.2 270.6,362.2 270.8,362.5 270.9,362.5 271.1,363.4 271.2,362.2 271.3,361.8 271.5,363.2 271.6,362.0 271.8,361.7 271.9,360.2 272.0,364.4 272.2,362.9 272.3,362.8 272.5,361.3 272.6,363.4 272.7,361.1 272.9,363.0 273.0,363.4 273.2,362.6 273.3,361.9 273.4,364.8 273.6,360.8 273.7,362.2 273.9,362.8 274.0,362.8 274.1,361.9 274.3,362.2 274.4,362.5 274.6,364.9 274.7,365.2 274.8,361.4 275.0,363.5 275.1,362.4 275.3,362.1 275.4,362.5 275.5,361.0 275.7,363.1 275.8,363.0 276.0,362.1 276.1,360.6 276.2,363.1 276.4,364.9 276.5,361.6 276.7,365.2 276.8,362.7 276.9,362.1 277.1,363.2 277.2,363.2 277.4,362.4 277.5,362.7 277.6,362.0 277.8,362.8 277.9,361.9 278.1,362.4 278.2,363.3 278.3,363.3 278.5,362.9 278.6,363.9 278.8,363.2 278.9,362.8 279.0,362.9 279.2,361.6 279.3,360.8 279.5,362.1 279.6,363.2 279.7,365.2 279.9,362.0 280.0,365.0 280.2,363.4 280.3,361.8 280.4,362.7 280.6,362.2 280.7,363.1 280.9,362.4 281.0,362.5 281.1,362.7 281.3,362.2 281.4,363.3 281.6,362.8 281.7,361.0 281.8,362.7 282.0,362.5 282.1,364.1 282.3,364.4 282.4,361.1 282.5,363.2 282.7,362.8 282.8,362.6 283.0,361.5 283.1,363.8 283.2,362.9 283.4,362.9 283.5,364.5 283.7,361.6 283.8,362.5 283.9,360.6 284.1,362.2 284.2,365.2 284.4,362.4 284.5,363.4 284.6,363.6 284.8,362.7 284.9,363.5 285.1,362.0 285.2,361.3 285.3,362.0 285.5,361.4 285.6,361.4 285.8,360.9 285.9,361.2 286.0,361.5 286.2,362.7 286.3,362.3 286.5,365.3 286.6,362.9 286.7,364.2 286.9,363.1 287.0,363.8 287.2,364.3 287.3,362.5 287.4,362.1 287.6,361.3 287.7,364.6 287.9,362.1 288.0,365.1 288.1,363.1 288.3,363.4 288.4,360.7 288.6,363.9 288.7,361.3 288.8,363.4 289.0,360.7 289.1,364.4 289.3,361.1 289.4,361.8 289.5,362.6 289.7,361.9 289.8,361.5 290.0,362.4 290.1,361.1 290.2,362.8 290.4,363.1 290.5,362.7 290.7,362.8 290.8,362.1 290.9,362.6 291.1,362.9 291.2,364.2 291.4,362.7 291.5,365.2 291.6,362.5 291.8,362.8 291.9,363.1 292.1,361.5 292.2,363.5 292.3,363.5 292.5,361.6 292.6,363.0 292.8,362.5 292.9,361.9 293.0,362.0 293.2,361.7 293.3,364.1 293.5,363.4 293.6,363.1 293.7,361.9 293.9,363.1 294.0,362.2 294.2,362.7 294.3,360.3 294.4,364.0 294.6,362.4 294.7,363.0 294.9,361.6 295.0,362.0 295.1,363.2 295.3,363.1 295.4,362.9 295.6,362.5 295.7,362.9 295.8,363.9 296.0,363.5 296.1,363.3 296.3,362.6 296.4,362.6 296.5,363.9 296.7,362.2 296.8,362.7 297.0,362.1 297.1,362.6 297.2,362.1 297.4,363.7 297.5,363.9 297.7,362.4 297.8,363.3 297.9,363.4 298.1,363.7 298.2,363.2 298.4,362.1 298.5,362.9 298.6,362.2 298.8,362.7 298.9,361.1 299.1,360.3 299.2,364.0 299.3,362.6 299.5,362.7 299.6,362.9 299.8,360.6 299.9,363.0 300.0,363.1 300.2,361.1 300.3,363.4 300.5,362.7 300.6,362.7 300.7,362.4 300.9,361.1 301.0,362.0 301.2,362.0 301.3,363.4 301.4,362.9 301.6,364.4 301.7,362.0 301.9,363.3 302.0,363.0 302.1,362.7 302.3,363.1 302.4,361.9 302.6,363.2 302.7,362.3 302.8,362.8 303.0,363.0 303.1,362.1 303.3,364.7 303.4,361.7 303.5,363.9 303.7,364.8 303.8,363.5 304.0,362.7 304.1,363.4 304.2,363.0 304.4,365.3 304.5,363.1 304.7,361.7 304.8,362.8 304.9,361.4 305.1,362.8 305.2,361.7 305.4,362.7 305.5,363.4 305.6,360.6 305.8,362.5 305.9,361.2 306.1,362.4 306.2,362.6 306.3,360.2 306.5,362.4 306.6,363.1 306.8,362.7 306.9,361.7 307.0,362.6 307.2,360.4 307.3,361.9 307.5,362.7 307.6,361.9 307.7,362.9 307.9,361.7 308.0,363.4 308.2,363.6 308.3,363.6 308.4,363.3 308.6,363.0 308.7,363.8 308.9,361.7 309.0,361.0 309.1,362.5 309.3,365.0 309.4,362.8 309.6,362.9 309.7,362.3 309.8,362.9 310.0,363.4 310.1,362.9 310.3,361.0 310.4,362.6 310.5,362.7 310.7,361.8 310.8,360.9 311.0,363.2 311.1,360.2 311.2,362.4 311.4,363.0 311.5,363.5 311.7,362.4 311.8,361.5 311.9,364.2 312.1,363.2 312.2,363.4 312.4,363.2 312.5,363.3 312.6,361.4 312.8,361.9 312.9,364.0 313.1,362.5 313.2,363.1 313.3,363.3 313.5,362.9 313.6,361.3 313.8,363.0 313.9,362.9 314.0,362.5 314.2,362.8 314.3,363.0 314.5,361.0 314.6,362.7 314.7,362.3 314.9,362.9 315.0,362.2 315.2,362.8 315.3,362.9 315.4,362.1 315.6,362.4 315.7,363.1 315.9,363.2 316.0,364.3 316.1,363.2 316.3,363.1 316.4,365.4 316.6,365.3 316.7,363.0 316.8,362.9 317.0,364.6 317.1,362.7 317.3,363.8 317.4,362.3 317.5,362.2 317.7,362.6 317.8,363.0 318.0,362.8 318.1,362.4 318.2,361.7 318.4,361.6 318.5,364.2 318.7,363.7 318.8,363.7 318.9,363.3 319.1,363.1 319.2,363.0 319.4,363.4 319.5,362.9 319.6,364.1 319.8,362.5 319.9,363.0 320.1,363.6 320.2,363.2 320.3,363.6 320.5,363.5 320.6,362.9 320.8,362.9 320.9,361.5 321.0,362.9 321.2,364.7 321.3,361.6 321.5,364.5 321.6,364.1 321.7,363.7 321.9,362.3 322.0,364.0 322.2,365.4 322.3,362.8 322.4,362.2 322.6,362.3 322.7,362.6 322.9,362.6 323.0,361.7 323.1,362.5 323.3,362.9 323.4,363.6 323.6,365.7 323.7,360.5 323.8,364.4 324.0,364.3 324.1,365.5 324.3,363.2 324.4,363.0 324.5,362.6 324.7,362.8 324.8,362.7 325.0,362.7 325.1,363.0 325.2,361.7 325.4,362.2 325.5,363.1 325.7,361.0 325.8,364.0 325.9,363.6 326.1,362.7 326.2,363.8 326.4,365.4 326.5,363.8 326.6,362.8 326.8,363.4 326.9,363.6 327.1,364.1 327.2,363.1 327.3,362.7 327.5,363.1 327.6,361.4 327.8,364.2 327.9,363.5 328.0,363.3 328.2,363.3 328.3,365.1 328.5,361.3 328.6,364.5 328.7,362.9 328.9,363.3 329.0,363.2 329.2,362.9 329.3,363.1 329.4,363.4 329.6,362.9 329.7,362.7 329.9,360.7 330.0,363.0 330.1,363.3 330.3,361.6 330.4,361.6 330.6,364.3 330.7,360.7 330.8,362.0 331.0,363.0 331.1,363.6 331.3,363.6 331.4,363.4 331.5,363.2 331.7,363.1 331.8,361.5 332.0,363.7 332.1,364.3 332.2,365.9 332.4,362.9 332.5,363.2 332.7,362.8 332.8,363.7 332.9,363.8 333.1,362.6 333.2,362.7 333.4,364.7 333.5,363.5 333.6,362.5 333.8,363.1 333.9,363.2 334.1,363.7 334.2,364.1 334.3,364.0 334.5,362.3 334.6,362.0 334.8,363.6 334.9,363.7 335.0,362.0 335.2,363.4 335.3,364.1 335.5,363.9 335.6,364.3 335.7,363.4 335.9,363.3 336.0,363.6 336.2,363.8 336.3,362.8 336.4,363.8 336.6,363.1 336.7,365.9 336.9,362.8 337.0,364.0 337.1,364.3 337.3,363.9 337.4,363.6 337.6,364.4 337.7,361.6 337.8,363.1 338.0,365.5 338.1,363.4 338.3,363.1 338.4,362.8 338.5,362.9 338.7,360.8 338.8,363.7 339.0,361.2 339.1,363.8 339.2,361.4 339.4,362.4 339.5,363.2 339.7,362.0 339.8,361.6 339.9,365.5 340.1,364.9 340.2,363.6 340.4,363.7 340.5,362.4 340.6,361.4 340.8,362.8 340.9,363.3 341.1,363.8 341.2,363.2 341.3,363.1 341.5,361.9 341.6,362.5 341.8,363.2 341.9,362.8 342.0,363.1 342.2,363.5 342.3,362.8 342.5,365.1 342.6,363.3 342.7,365.3 342.9,363.2 343.0,363.4 343.2,365.8 343.3,363.0 343.4,363.6 343.6,363.8 343.7,362.6 343.9,363.0 344.0,362.9 344.1,362.1 344.3,362.8 344.4,362.7 344.6,363.8 344.7,365.3 344.8,360.5 345.0,363.3 345.1,363.4 345.3,362.6 345.4,363.8 345.5,362.9 345.7,361.6 345.8,361.4 346.0,363.3 346.1,365.0 346.2,363.1 346.4,364.8 346.5,362.3 346.7,362.3 346.8,363.8 346.9,362.6 347.1,363.2 347.2,363.0 347.4,362.6 347.5,363.2 347.6,363.1 347.8,365.3 347.9,363.8 348.1,363.1 348.2,362.3 348.3,362.8 348.5,362.1 348.6,364.0 348.8,362.8 348.9,361.6 349.0,363.1 349.2,362.9 349.3,364.2 349.5,364.8 349.6,362.2 349.7,361.2 349.9,361.1 350.0,359.6 350.2,361.0 350.3,362.3 350.4,359.2 350.6,361.6 350.7,361.9 350.9,360.8 351.0,361.6 351.1,361.6 351.3,361.2 351.4,358.7 351.6,361.1 351.7,359.6 351.8,358.7 352.0,361.4 352.1,361.1 352.3,361.4 352.4,358.6 352.5,359.2 352.7,358.6 352.8,358.7 353.0,357.7 353.1,358.3 353.2,358.6 353.4,359.3 353.5,357.6 353.7,356.3 353.8,355.4 353.9,354.6 354.1,354.3 354.2,353.3 354.4,351.5 354.5,350.4 354.6,347.5 354.8,344.5 354.9,344.0 355.1,339.1 355.2,336.6 355.3,332.2 355.5,323.9 355.6,317.0 355.8,309.5 355.9,300.0 356.0,289.1 356.2,280.8 356.3,270.4 356.5,263.6 356.6,257.4 356.7,255.9 356.9,256.8 357.0,257.6 357.2,263.7 357.3,266.9 357.4,271.3 357.6,276.1 357.7,280.7 357.9,285.8 358.0,294.5 358.1,301.3 358.3,310.0 358.4,315.5 358.6,323.1 358.7,328.9 358.8,333.9 359.0,338.0 359.1,341.0 359.3,346.3 359.4,346.7 359.5,348.7 359.7,351.8 359.8,353.7 360.0,353.4 360.1,352.2 360.2,355.4 360.4,357.0 360.5,358.2 360.7,356.6 360.8,358.3 360.9,358.5 361.1,359.3 361.2,359.5 361.4,359.3 361.5,359.2 361.6,359.3 361.8,360.0 361.9,359.4 362.1,360.2 362.2,359.0 362.3,360.0 362.5,358.3 362.6,359.3 362.8,359.5 362.9,359.4 363.0,360.3 363.2,360.3 363.3,362.3 363.5,361.4 363.6,359.7 363.7,360.7 363.9,362.3 364.0,361.9 364.2,361.3 364.3,359.2 364.4,361.6 364.6,361.5 364.7,361.5 364.9,363.9 365.0,362.8 365.1,362.6 365.3,362.2 365.4,363.0 365.6,363.2 365.7,362.3 365.8,362.1 366.0,361.8 366.1,362.3 366.3,361.6 366.4,361.6 366.5,363.1 366.7,361.3 366.8,362.0 367.0,363.6 367.1,362.8 367.2,362.6 367.4,361.0 367.5,361.1 367.7,360.9 367.8,361.6 367.9,361.7 368.1,361.3 368.2,361.2 368.4,364.0 368.5,364.5 368.6,362.8 368.8,363.0 368.9,362.2 369.1,362.4 369.2,362.3 369.3,362.9 369.5,362.0 369.6,362.1 369.8,361.6 369.9,362.8 370.0,364.3 370.2,362.8 370.3,361.6 370.5,362.0 370.6,362.8 370.7,362.7 370.9,362.4 371.0,360.0 371.2,361.5 371.3,362.0 371.4,362.7 371.6,363.0 371.7,363.2 371.9,363.3 372.0,362.0 372.1,363.4 372.3,361.9 372.4,362.1 372.6,362.0 372.7,362.1 372.8,362.4 373.0,362.9 373.1,361.8 373.3,361.9 373.4,362.7 373.5,362.4 373.7,365.0 373.8,360.7 374.0,361.3 374.1,362.5 374.2,361.6 374.4,363.0 374.5,362.5 374.7,362.5 374.8,362.7 374.9,362.8 375.1,362.5 375.2,362.0 375.4,362.8 375.5,361.5 375.6,362.2 375.8,362.7 375.9,362.3 376.1,362.9 376.2,363.0 376.3,363.0 376.5,362.6 376.6,362.1 376.8,362.4 376.9,362.8 377.0,363.7 377.2,363.3 377.3,362.7 377.5,362.9 377.6,360.5 377.7,362.3 377.9,364.1 378.0,362.8 378.2,362.8 378.3,363.4 378.4,362.1 378.6,360.4 378.7,362.7 378.9,362.3 379.0,362.2 379.1,361.2 379.3,361.8 379.4,362.9 379.6,364.1 379.7,360.6 379.8,362.5 380.0,362.0 380.1,362.6 380.3,361.8 380.4,363.7 380.5,362.2 380.7,362.6 380.8,362.3 381.0,362.8 381.1,362.7 381.2,362.1 381.4,359.8 381.5,359.8 381.7,361.9 381.8,362.9 381.9,362.4 382.1,362.3 382.2,360.6 382.4,362.0 382.5,362.4 382.6,362.8 382.8,362.9 382.9,362.1 383.1,362.8 383.2,360.3 383.3,362.3 383.5,362.7 383.6,363.2 383.8,364.0 383.9,362.8 384.0,362.8 384.2,362.3 384.3,362.3 384.5,362.0 384.6,363.7 384.7,362.1 384.9,361.8 385.0,363.1 385.2,362.3 385.3,362.2 385.4,363.7 385.6,360.9 385.7,361.1 385.9,362.4 386.0,360.4 386.1,363.4 386.3,364.2 386.4,361.9 386.6,363.3 386.7,362.3 386.8,362.4 387.0,362.2 387.1,363.5 387.3,362.0 387.4,363.7 387.5,362.0 387.7,361.8 387.8,364.9 388.0,361.1 388.1,361.4 388.2,362.5 388.4,363.9 388.5,363.2 388.7,362.7 388.8,359.8 388.9,360.8 389.1,363.0 389.2,363.0 389.4,364.7 389.5,362.1 389.6,362.4 389.8,361.9 389.9,361.0 390.1,362.6 390.2,362.7 390.3,360.8 390.5,362.4 390.6,363.2 390.8,362.8 390.9,361.9 391.0,359.7 391.2,361.7 391.3,361.3 391.5,362.1 391.6,362.2 391.7,362.2 391.9,361.4 392.0,362.0 392.2,361.7 392.3,363.2 392.4,362.9 392.6,363.8 392.7,362.1 392.9,363.0 393.0,361.5 393.1,362.0 393.3,362.1 393.4,361.9 393.6,361.6 393.7,363.6 393.8,362.2 394.0,362.6 394.1,361.6 394.3,362.6 394.4,362.6 394.5,363.4 394.7,361.8 394.8,363.9 395.0,363.1 395.1,361.4 395.2,362.1 395.4,362.0 395.5,364.8 395.7,362.5 395.8,361.3 395.9,362.2 396.1,362.8 396.2,360.6 396.4,362.7 396.5,362.5 396.6,362.7 396.8,361.3 396.9,363.9 397.1,362.0 397.2,362.5 397.3,361.7 397.5,360.3 397.6,360.6 397.8,362.3 397.9,363.4 398.0,362.5 398.2,360.5 398.3,359.8 398.5,364.7 398.6,362.1 398.7,363.3 398.9,362.7 399.0,362.6 399.2,363.0 399.3,362.0 399.4,361.8 399.6,360.5 399.7,364.6 399.9,360.9 400.0,363.1 400.1,360.8 400.3,362.3 400.4,363.2 400.6,362.3 400.7,362.3 400.8,362.2 401.0,360.9 401.1,364.1 401.3,362.5 401.4,363.7 401.5,363.1 401.7,361.6 401.8,362.7 402.0,362.2 402.1,361.5 402.2,362.3 402.4,364.3 402.5,360.1 402.7,362.4 402.8,362.0 402.9,362.1 403.1,362.5 403.2,361.4 403.4,360.4 403.5,361.2 403.6,361.9 403.8,362.4 403.9,362.1 404.1,362.8 404.2,361.6 404.3,361.0 404.5,362.2 404.6,362.5 404.8,362.1 404.9,360.5 405.0,362.0 405.2,362.5 405.3,361.8 405.5,362.9 405.6,361.5 405.7,362.4 405.9,361.9 406.0,360.9 406.2,361.6 406.3,361.1 406.4,362.1 406.6,363.0 406.7,362.6 406.9,362.3 407.0,360.3 407.1,362.3 407.3,362.7 407.4,361.7 407.6,362.0 407.7,362.0 407.8,362.0 408.0,360.8 408.1,362.1 408.3,361.6 408.4,362.1 408.5,360.6 408.7,361.7 408.8,360.9 409.0,362.6 409.1,363.6 409.2,362.5 409.4,361.9 409.5,361.9 409.7,362.2 409.8,361.4 409.9,359.7 410.1,362.9 410.2,362.0 410.4,362.5 410.5,362.0 410.6,361.5 410.8,360.0 410.9,362.2 411.1,362.1 411.2,359.4 411.3,361.1 411.5,363.6 411.6,362.4 411.8,361.4 411.9,361.8 412.0,362.3 412.2,362.8 412.3,361.0 412.5,362.3 412.6,362.1 412.7,362.4 412.9,360.8 413.0,361.8 413.2,362.3 413.3,361.6 413.4,362.1 413.6,361.9 413.7,362.1 413.9,362.8 414.0,362.5 414.1,360.8 414.3,362.3 414.4,360.2 414.6,361.7 414.7,362.4 414.8,362.6 415.0,364.6 415.1,361.5 415.3,362.0 415.4,362.2 415.5,362.6 415.7,363.0 415.8,361.6 416.0,361.1 416.1,361.4 416.2,362.5 416.4,360.5 416.5,361.4 416.7,362.8 416.8,363.8 416.9,361.9 417.1,362.5 417.2,361.8 417.4,361.5 417.5,362.0 417.6,360.9 417.8,361.9 417.9,362.2 418.1,363.7 418.2,363.0 418.3,361.3 418.5,361.8 418.6,360.3 418.8,360.3 418.9,364.5 419.0,361.2 419.2,361.7 419.3,362.4 419.5,361.3 419.6,361.8 419.7,360.8 419.9,362.6 420.0,361.6 420.2,361.1 420.3,361.5 420.4,362.0 420.6,361.8 420.7,361.5 420.9,361.5 421.0,361.6 421.1,361.9 421.3,361.7 421.4,362.2 421.6,361.6 421.7,360.7 421.8,360.4 422.0,361.6 422.1,364.1 422.3,361.8 422.4,361.7 422.5,359.9 422.7,361.9 422.8,359.7 423.0,361.3 423.1,361.2 423.2,361.6 423.4,361.0 423.5,361.1 423.7,359.3 423.8,361.8 423.9,361.4 424.1,362.7 424.2,362.4 424.4,361.8 424.5,363.0 424.6,361.5 424.8,360.3 424.9,362.8 425.1,363.7 425.2,360.0 425.3,361.7 425.5,359.6 425.6,362.1 425.8,362.6 425.9,360.6 426.0,362.3 426.2,361.9 426.3,361.0 426.5,361.3 426.6,361.2 426.7,361.2 426.9,361.9 427.0,360.2 427.2,363.1 427.3,361.6 427.4,361.7 427.6,362.3 427.7,360.4 427.9,361.2 428.0,362.1 428.1,362.1 428.3,361.8 428.4,362.2 428.6,362.0 428.7,362.2 428.8,362.6 429.0,362.2 429.1,362.7 429.3,361.7 429.4,362.5 429.5,362.3 429.7,359.2 429.8,361.8 430.0,363.0 430.1,361.7 430.2,361.5 430.4,361.5 430.5,362.5 430.7,361.5 430.8,361.1 430.9,362.1 431.1,364.4 431.2,361.9 431.4,359.7 431.5,360.6 431.6,361.4 431.8,362.2 431.9,363.0 432.1,362.3 432.2,360.6 432.3,362.1 432.5,362.3 432.6,361.7 432.8,361.1 432.9,361.8 433.0,361.6 433.2,361.5 433.3,359.2 433.5,361.2 433.6,362.2 433.7,361.4 433.9,362.0 434.0,361.6 434.2,361.1 434.3,362.2 434.4,363.1 434.6,362.1 434.7,362.2 434.9,361.5 435.0,362.7 435.1,364.1 435.3,361.8 435.4,362.1 435.6,360.5 435.7,360.1 435.8,362.0 436.0,361.4 436.1,361.2 436.3,361.8 436.4,359.7 436.5,361.7 436.7,362.0 436.8,362.1 437.0,359.3 437.1,360.1 437.2,362.3 437.4,362.7 437.5,362.7 437.7,361.7 437.8,361.3 437.9,362.3 438.1,361.4 438.2,363.1 438.4,361.6 438.5,359.0 438.6,359.3 438.8,362.7 438.9,361.2 439.1,360.8 439.2,360.0 439.3,361.2 439.5,363.2 439.6,358.9 439.8,362.2 439.9,361.3 440.0,362.1 440.2,362.4 440.3,362.7 440.5,360.8 440.6,361.9 440.7,360.6 440.9,360.8 441.0,360.8 441.2,363.6 441.3,362.6 441.4,361.9 441.6,360.7 441.7,360.4 441.9,361.9 442.0,361.4 442.1,362.2 442.3,361.7 442.4,361.1 442.6,361.4 442.7,362.0 442.8,361.3 443.0,359.3 443.1,361.2 443.3,361.8 443.4,361.4 443.5,362.0 443.7,361.7 443.8,361.4 444.0,361.7 444.1,360.7 444.2,360.4 444.4,360.1 444.5,361.1 444.7,361.0 444.8,360.7 444.9,361.8 445.1,360.5 445.2,359.4 445.4,361.0 445.5,360.8 445.6,358.9 445.8,360.9 445.9,360.9 446.1,362.1 446.2,361.2 446.3,360.4 446.5,362.7 446.6,361.7 446.8,362.0 446.9,360.6 447.0,360.2 447.2,361.7 447.3,361.4 447.5,361.0 447.6,359.4 447.7,360.5 447.9,359.5 448.0,362.2 448.2,360.0 448.3,361.5 448.4,360.9 448.6,360.4 448.7,360.8 448.9,359.9 449.0,358.5 449.1,360.9 449.3,360.0 449.4,358.1 449.6,359.8 449.7,360.3 449.8,360.4 450.0,360.4 450.1,359.0 450.3,357.2 450.4,360.8 450.5,359.4 450.7,358.7 450.8,358.2 451.0,360.0 451.1,357.7 451.2,359.6 451.4,359.1 451.5,357.9 451.7,359.5 451.8,359.5 451.9,356.8 452.1,357.8 452.2,357.7 452.4,357.3 452.5,359.1 452.6,356.8 452.8,357.0 452.9,357.6 453.1,357.1 453.2,355.8 453.3,356.9 453.5,354.7 453.6,354.8 453.8,352.3 453.9,353.0 454.0,352.2 454.2,351.9 454.3,349.4 454.5,348.9 454.6,348.9 454.7,349.6 454.9,347.6 455.0,344.5 455.2,341.9 455.3,340.6 455.4,337.2 455.6,333.9 455.7,330.9 455.9,325.3 456.0,321.0 456.1,317.3 456.3,310.3 456.4,303.0 456.6,297.0 456.7,289.1 456.8,285.2 457.0,276.2 457.1,271.3 457.3,268.7 457.4,266.1 457.5,267.1 457.7,268.9 457.8,273.0 458.0,275.8 458.1,279.3 458.2,283.9 458.4,285.1 458.5,287.1 458.7,290.6 458.8,291.8 458.9,294.6 459.1,297.4 459.2,301.3 459.4,306.7 459.5,309.4 459.6,317.2 459.8,320.4 459.9,325.2 460.1,331.4 460.2,333.0 460.3,333.6 460.5,339.3 460.6,341.7 460.8,344.9 460.9,344.7 461.0,347.6 461.2,348.8 461.3,349.7 461.5,351.2 461.6,351.0 461.7,352.3 461.9,353.2 462.0,355.2 462.2,354.7 462.3,353.2 462.4,356.1 462.6,356.2 462.7,356.9 462.9,357.1 463.0,357.1 463.1,357.2 463.3,356.4 463.4,357.6 463.6,358.7 463.7,359.9 463.8,357.5 464.0,358.8 464.1,358.3 464.3,358.9 464.4,358.6 464.5,358.4 464.7,359.4 464.8,359.1 465.0,359.3 465.1,360.6 465.2,359.9 465.4,359.2 465.5,359.4 465.7,360.0 465.8,358.6 465.9,360.9 466.1,360.7 466.2,358.9 466.4,359.0 466.5,358.8 466.6,360.4 466.8,360.0 466.9,360.5 467.1,360.6 467.2,361.5 467.3,360.8 467.5,358.9 467.6,360.4 467.8,361.6 467.9,361.5 468.0,361.6 468.2,361.4 468.3,360.4 468.5,360.6 468.6,360.8 468.7,360.6 468.9,361.3 469.0,360.8 469.2,361.7 469.3,359.4 469.4,361.6 469.6,360.8 469.7,362.1 469.9,362.5 470.0,361.5 470.1,359.4 470.3,359.9 470.4,361.9 470.6,361.0 470.7,361.5 470.8,362.3 471.0,362.3 471.1,364.1 471.3,361.8 471.4,361.3 471.5,361.6 471.7,361.6 471.8,361.4 472.0,364.2 472.1,362.7 472.2,361.5 472.4,363.5 472.5,364.3 472.7,361.7 472.8,361.9 472.9,361.7 473.1,361.8 473.2,362.4 473.4,362.2 473.5,360.3 473.6,359.2 473.8,362.0 473.9,361.4 474.1,362.4 474.2,359.7 474.3,361.4 474.5,362.0 474.6,362.4 474.8,361.7 474.9,361.9 475.0,361.6 475.2,361.5 475.3,361.7 475.5,362.3 475.6,362.1 475.7,360.7 475.9,362.1 476.0,362.9 476.2,361.8 476.3,362.7 476.4,362.4 476.6,361.9 476.7,360.6 476.9,362.0 477.0,361.6 477.1,364.4 477.3,362.9 477.4,362.0 477.6,362.3 477.7,362.6 477.8,363.5 478.0,362.3 478.1,361.9 478.3,361.2 478.4,362.7 478.5,360.8 478.7,360.2 478.8,362.6 479.0,362.5 479.1,361.8 479.2,362.9 479.4,363.2 479.5,361.9 479.7,360.0 479.8,361.1 479.9,361.9 480.1,361.5 480.2,360.9 480.4,361.8 480.5,361.9 480.6,362.3 480.8,362.7 480.9,362.1 481.1,364.6 481.2,361.4 481.3,362.0 481.5,361.7 481.6,361.8 481.8,360.8 481.9,362.1 482.0,362.2 482.2,361.2 482.3,360.9 482.5,360.7 482.6,361.9 482.7,363.2 482.9,359.9 483.0,360.0 483.2,362.7 483.3,361.6 483.4,362.0 483.6,362.4 483.7,361.5 483.9,364.2 484.0,361.7 484.1,361.9 484.3,364.3 484.4,361.9 484.6,361.2 484.7,361.4 484.8,362.7 485.0,361.6 485.1,361.5 485.3,359.2 485.4,359.4 485.5,360.8 485.7,361.4 485.8,364.3 486.0,361.8 486.1,359.9 486.2,361.7 486.4,361.3 486.5,362.7 486.7,364.2 486.8,361.7 486.9,362.1 487.1,361.3 487.2,360.8 487.4,361.8 487.5,360.0 487.6,361.5 487.8,362.2 487.9,360.7 488.1,361.8 488.2,360.7 488.3,361.7 488.5,360.6 488.6,361.1 488.8,360.9 488.9,359.6 489.0,361.2 489.2,359.5 489.3,361.1 489.5,360.8 489.6,361.6 489.7,360.5 489.9,359.0 490.0,360.1 490.2,360.7 490.3,358.9 490.4,359.3 490.6,358.8 490.7,360.4 490.9,359.1 491.0,358.4 491.1,359.4 491.3,358.4 491.4,358.8 491.6,358.9 491.7,358.2 491.8,358.3 492.0,356.5 492.1,357.0 492.3,356.0 492.4,354.9 492.5,354.3 492.7,353.2 492.8,350.7 493.0,349.4 493.1,348.0 493.2,345.0 493.4,342.8 493.5,339.6 493.7,336.4 493.8,331.8 493.9,328.9 494.1,325.3 494.2,321.5 494.4,318.8 494.5,317.2 494.6,319.0 494.8,321.2 494.9,322.4 495.1,324.2 495.2,327.9 495.3,329.3 495.5,330.7 495.6,332.6 495.8,330.9 495.9,332.6 496.0,334.0 496.2,335.4 496.3,336.0 496.5,335.0 496.6,335.4 496.7,334.9 496.9,340.3 497.0,340.0 497.2,344.7 497.3,346.8 497.4,347.1 497.6,350.6 497.7,351.7 497.9,352.6 498.0,354.8 498.1,354.6 498.3,356.2 498.4,355.7 498.6,358.6 498.7,358.2 498.8,358.1 499.0,357.4 499.1,361.5 499.3,359.1 499.4,360.7 499.5,362.1 499.7,359.9 499.8,359.9 500.0,359.7 500.1,360.2 500.2,360.2 500.4,359.5 500.5,359.9 500.7,361.5 500.8,361.9 500.9,360.8 501.1,363.5 501.2,361.2 501.4,360.7 501.5,361.6 501.6,361.6 501.8,361.8 501.9,363.9 502.1,361.0 502.2,360.6 502.3,361.6 502.5,361.2 502.6,361.7 502.8,362.3 502.9,361.1 503.0,361.8 503.2,362.6 503.3,362.4 503.5,360.4 503.6,361.4 503.7,361.6 503.9,361.9 504.0,361.7 504.2,361.6 504.3,361.7 504.4,362.1 504.6,360.4 504.7,361.8 504.9,363.2 505.0,362.1 505.1,362.4 505.3,362.6 505.4,363.2 505.6,360.6 505.7,360.5 505.8,361.2 506.0,361.6 506.1,360.4 506.3,362.2 506.4,362.6 506.5,362.6 506.7,362.0 506.8,362.0 507.0,361.6 507.1,363.9 507.2,362.8 507.4,362.9 507.5,362.1 507.7,360.7 507.8,361.0 507.9,360.8 508.1,363.8 508.2,360.9 508.4,362.2 508.5,362.6 508.6,362.9 508.8,362.2 508.9,362.4 509.1,362.0 509.2,363.0 509.3,361.0 509.5,361.4 509.6,361.9 509.8,362.4 509.9,361.9 510.0,360.9 510.2,363.2 510.3,361.0 510.5,361.7 510.6,363.6 510.7,362.7 510.9,362.5 511.0,362.7 511.2,361.9 511.3,362.6 511.4,362.0 511.6,362.1 511.7,362.5 511.9,362.2 512.0,363.6 512.1,361.8 512.3,361.7 512.4,362.7 512.6,360.4 512.7,361.5 512.8,362.8 513.0,360.3 513.1,361.1 513.3,362.7 513.4,362.1 513.5,360.4 513.7,361.4 513.8,362.8 514.0,362.1 514.1,362.6 514.2,363.5 514.4,364.9 514.5,362.8 514.7,362.1 514.8,362.6 514.9,363.7 515.1,363.2 515.2,362.3 515.4,363.7 515.5,363.5 515.6,362.2 515.8,362.4 515.9,362.2 516.1,361.6 516.2,363.7 516.3,363.4 516.5,361.3 516.6,361.6 516.8,363.0 516.9,360.5 517.0,361.9 517.2,362.4 517.3,362.6 517.5,363.3 517.6,361.9 517.7,362.0 517.9,361.4 518.0,361.9 518.2,362.7 518.3,362.1 518.4,362.5 518.6,362.7 518.7,362.5 518.9,362.2 519.0,362.4 519.1,363.3 519.3,362.1 519.4,361.7 519.6,361.8 519.7,362.0 519.8,361.5 520.0,364.8 520.1,361.4 520.3,363.0 520.4,362.5 520.5,365.0 520.7,361.9 520.8,363.4 521.0,361.3 521.1,361.9 521.2,362.3 521.4,363.3 521.5,362.6 521.7,363.0 521.8,362.4 521.9,360.8 522.1,361.3 522.2,362.0 522.4,361.4 522.5,364.1 522.6,362.4 522.8,363.4 522.9,365.0 523.1,363.9 523.2,361.2 523.3,360.4 523.5,362.8 523.6,362.1 523.8,362.4 523.9,363.4 524.0,362.6 524.2,363.1 524.3,362.9 524.5,362.3 524.6,362.1 524.7,362.7 524.9,363.7 525.0,363.3 525.2,363.2 525.3,361.9 525.4,361.7 525.6,362.8 525.7,362.4 525.9,364.6 526.0,361.6 526.1,364.6 526.3,364.0 526.4,359.8 526.6,361.7 526.7,362.9 526.8,362.5 527.0,361.6 527.1,363.2 527.3,363.0 527.4,362.4 527.5,362.2 527.7,363.6 527.8,362.1 528.0,362.6 528.1,362.6 528.2,361.5 528.4,362.8 528.5,362.0 528.7,362.3 528.8,361.9 528.9,361.7 529.1,362.8 529.2,361.0 529.4,362.5 529.5,362.7 529.6,363.0 529.8,362.0 529.9,360.7 530.1,362.6 530.2,360.7 530.3,363.7 530.5,359.8 530.6,363.2 530.8,362.4 530.9,362.3 531.0,362.2 531.2,360.2 531.3,362.6 531.5,362.4 531.6,362.5 531.7,362.4 531.9,363.3 532.0,362.3 532.2,363.5 532.3,360.0 532.4,362.2 532.6,362.5 532.7,359.8 532.9,362.5 533.0,361.5 533.1,364.7 533.3,363.1 533.4,362.6 533.6,362.8 533.7,363.2 533.8,362.7 534.0,364.3 534.1,360.7 534.3,362.5 534.4,360.7 534.5,362.2 534.7,362.6 534.8,362.7 535.0,360.9 535.1,362.7 535.2,362.6 535.4,359.8 535.5,361.3 535.7,362.4 535.8,363.2 535.9,362.2 536.1,362.8 536.2,361.2 536.4,363.3 536.5,362.8 536.6,361.7 536.8,361.2 536.9,362.6 537.1,363.3 537.2,362.5 537.3,359.8 537.5,362.0 537.6,362.3 537.8,359.8 537.9,360.2 538.0,362.3 538.2,361.4 538.3,363.1 538.5,362.2 538.6,363.3 538.7,362.2 538.9,362.1 539.0,362.8 539.2,362.6"/></g><line x1="34.5" y1="385.3" x2="540.1" y2="385.3" stroke="#4a4a4a" stroke-width="1.3"/><line x1="35.2" y1="31.9" x2="35.2" y2="385.8" stroke="#4a4a4a" stroke-width="1.6"/><line x1="34.5" y1="32.9" x2="540.1" y2="32.9" stroke="#2e2e2e" stroke-width="1.9"/><line x1="539.0" y1="31.9" x2="539.0" y2="385.8" stroke="#2e2e2e" stroke-width="1.9"/><line x1="35.3" y1="385.2" x2="35.3" y2="390.8" stroke="#222" stroke-width="1.6"/><text x="35.3" y="414" font-family='"Liberation Sans", Arial, sans-serif' font-size="16.9" text-anchor="middle" fill="#111" stroke="#111" stroke-width="0.35">20</text><line x1="126.9" y1="385.2" x2="126.9" y2="390.8" stroke="#222" stroke-width="1.6"/><text x="126.9" y="414" font-family='"Liberation Sans", Arial, sans-serif' font-size="16.9" text-anchor="middle" fill="#111" stroke="#111" stroke-width="0.35">40</text><line x1="218.5" y1="385.2" x2="218.5" y2="390.8" stroke="#222" stroke-width="1.6"/><text x="218.5" y="414" font-family='"Liberation Sans", Arial, sans-serif' font-size="16.9" text-anchor="middle" fill="#111" stroke="#111" stroke-width="0.35">60</text><line x1="310.2" y1="385.2" x2="310.2" y2="390.8" stroke="#222" stroke-width="1.6"/><text x="310.2" y="414" font-family='"Liberation Sans", Arial, sans-serif' font-size="16.9" text-anchor="middle" fill="#111" stroke="#111" stroke-width="0.35">80</text><line x1="401.8" y1="385.2" x2="401.8" y2="390.8" stroke="#222" stroke-width="1.6"/><text x="401.8" y="414" font-family='"Liberation Sans", Arial, sans-serif' font-size="16.9" text-anchor="middle" fill="#111" stroke="#111" stroke-width="0.35">100</text><line x1="493.4" y1="385.2" x2="493.4" y2="390.8" stroke="#222" stroke-width="1.6"/><text x="493.4" y="414" font-family='"Liberation Sans", Arial, sans-serif' font-size="16.9" text-anchor="middle" fill="#111" stroke="#111" stroke-width="0.35">120</text><g font-family='"Liberation Sans", Arial, sans-serif' font-size="17.5" fill="#111" stroke="#111" stroke-width="0.35"><text x="181.0" y="50.0">1</text><text x="212.2" y="88.0">1</text><text x="348.6" y="101.2">1</text><text x="448.3" y="110.3">1</text><text x="484.6" y="144.8">1</text><text x="68.8" y="203.5">4</text><text x="98.8" y="201.0">3</text><text x="115.8" y="201.0">43</text><text x="131.4" y="189.3">4</text><text x="141.8" y="198.6">2</text><text x="161.0" y="192.6">2</text><text x="180.5" y="172.4">2</text><text x="161.0" y="171.5">4</text><text x="201.6" y="180.0">2</text><text x="233.4" y="179.2">4</text><text x="255.0" y="178.8">3</text><text x="277.4" y="178.8">3</text></g><line x1="389.6" y1="43.1" x2="427.9" y2="43.1" stroke="#111" stroke-width="1.4"/><text x="437.0" y="48.300000000000004" font-family='"Liberation Sans", Arial, sans-serif' font-size="17.0" fill="#111" stroke="#111" stroke-width="0.3">CoCrFeMnNi</text><line x1="389.6" y1="64.0" x2="427.9" y2="64.0" stroke="#e01010" stroke-width="1.4"/><text x="437.0" y="69.2" font-family='"Liberation Sans", Arial, sans-serif' font-size="17.0" fill="#111" stroke="#111" stroke-width="0.3">CoCrNi</text><line x1="389.6" y1="84.9" x2="427.9" y2="84.9" stroke="#10108a" stroke-width="1.4"/><text x="437.0" y="90.10000000000001" font-family='"Liberation Sans", Arial, sans-serif' font-size="17.0" fill="#111" stroke="#111" stroke-width="0.3">FeCoCrNi</text><text x="249.0" y="23.3" font-family='"Liberation Sans", Arial, sans-serif' font-size="16.7" fill="#111" stroke="#111" stroke-width="0.3">1 - FCC, 2 - Cr<tspan font-size="11.3" dy="4.9">23</tspan><tspan dy="-4.9">C</tspan><tspan font-size="11.3" dy="4.9">6</tspan><tspan dy="-4.9">, 3 - spinel, 4 - Cr</tspan><tspan font-size="11.3" dy="4.9">2</tspan><tspan dy="-4.9">O</tspan><tspan font-size="11.3" dy="4.9">3</tspan></text><text x="252" y="436.3" font-family='"Liberation Sans", Arial, sans-serif' font-size="22" fill="#111" stroke="#111" stroke-width="0.45">2</text><text transform="translate(265.2,436.3) scale(0.8,1)" font-family='"Liberation Sans", Arial, sans-serif' font-size="22" fill="#222">θ</text><text x="282" y="436.3" font-family='"Liberation Sans", Arial, sans-serif' font-size="22" fill="#111">(°)</text><text transform="translate(24.2,266.6) rotate(-90)" font-family='"Liberation Sans", Arial, sans-serif' font-size="21.8" letter-spacing="0.22" fill="#111" stroke="#111" stroke-width="0.3">Intensity</text></svg>
</body></html>
